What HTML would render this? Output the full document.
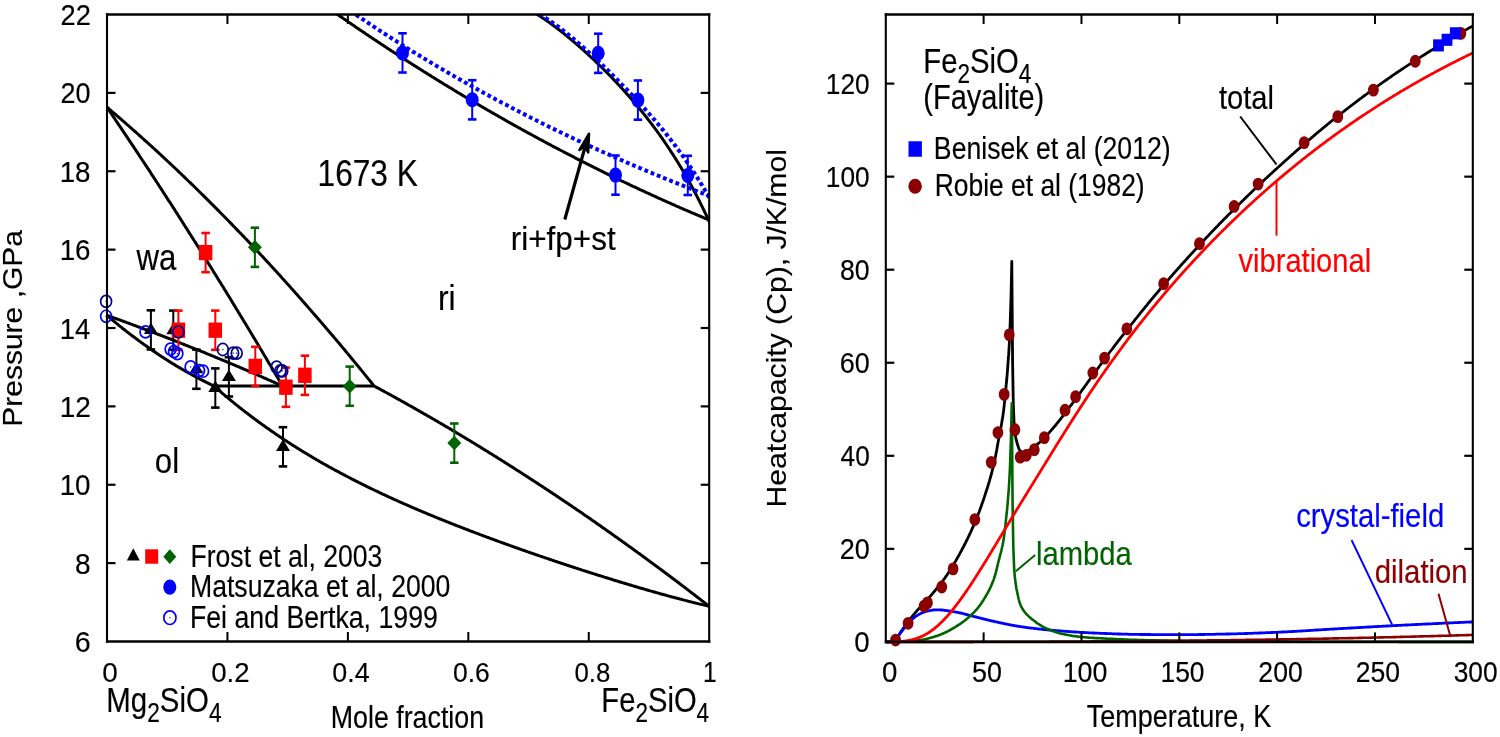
<!DOCTYPE html><html><head><meta charset="utf-8"><title>Fe2SiO4 phase diagram and heat capacity</title><style>html,body{margin:0;padding:0;background:#fff;overflow:hidden}svg{display:block}</style></head><body><svg width="1500" height="737" viewBox="0 0 1500 737" font-family="Liberation Sans, Arial, Helvetica, sans-serif">
<defs><clipPath id="clipL"><rect x="107.0" y="14.5" width="602.2" height="627.0"/></clipPath><clipPath id="clipR"><rect x="885.8" y="14.5" width="587.0" height="633.4"/></clipPath></defs>
<rect width="1500" height="737" fill="#fff"/>
<g clip-path="url(#clipL)">
<path d="M106.8,315.3 L107.8,316.1 L108.8,317.0 L109.8,317.8 L110.8,318.7 L111.8,319.5 L112.8,320.3 L113.8,321.2 L114.8,322.0 L115.8,322.8 L116.8,323.6 L117.8,324.4 L118.8,325.3 L119.8,326.1 L120.8,326.9 L121.8,327.7 L122.8,328.5 L123.8,329.3 L124.8,330.0 L125.8,330.8 L126.8,331.6 L127.8,332.4 L128.8,333.2 L129.8,333.9 L130.8,334.7 L131.8,335.5 L132.8,336.2 L133.9,337.0 L134.9,337.7 L135.9,338.5 L136.9,339.2 L137.9,340.0 L138.9,340.7 L139.9,341.4 L140.9,342.2 L141.9,342.9 L142.9,343.6 L143.9,344.4 L144.9,345.1 L145.9,345.8 L146.9,346.5 L147.9,347.2 L148.9,347.9 L149.9,348.6 L150.9,349.3 L151.9,350.0 L152.9,350.7 L153.9,351.4 L154.9,352.0 L155.9,352.7 L156.9,353.4 L157.9,354.1 L158.9,354.7 L159.9,355.4 L160.9,356.1 L161.9,356.7 L162.9,357.4 L163.9,358.0 L164.9,358.7 L165.9,359.3 L166.9,360.0 L167.9,360.6 L168.9,361.2 L169.9,361.9 L170.9,362.5 L171.9,363.1 L172.9,363.7 L173.9,364.3 L174.9,364.9 L175.9,365.6 L176.9,366.2 L177.9,366.8 L178.9,367.4 L179.9,367.9 L180.9,368.5 L181.9,369.1 L182.9,369.7 L183.9,370.3 L184.9,370.9 L185.9,371.4 L186.9,372.0 L188.0,372.6 L189.0,373.1 L190.0,373.7 L191.0,374.2 L192.0,374.8 L193.0,375.3 L194.0,375.9 L195.0,376.4 L196.0,377.0 L197.0,377.5 L198.0,378.0 L199.0,378.5 L200.0,379.1 L201.0,379.6 L202.0,380.1 L203.0,380.6 L204.0,381.1 L205.0,381.6 L206.0,382.1 L207.0,382.6 L208.0,383.1 L209.0,383.6 L210.0,384.1 L211.0,384.6 L212.0,385.1 L213.0,385.5 L214.0,386.0" fill="none" stroke="#000" stroke-width="3.0" stroke-linejoin="round"/>
<path d="M214.0,386.0 L215.0,386.9 L216.0,387.8 L217.0,388.6 L218.0,389.5 L219.0,390.4 L220.0,391.2 L221.0,392.1 L222.0,393.0 L223.0,393.8 L224.0,394.7 L225.0,395.5 L226.0,396.3 L227.0,397.2 L228.0,398.0 L229.0,398.8 L230.0,399.7 L231.0,400.5 L232.0,401.3 L233.0,402.1 L234.0,402.9 L235.0,403.8 L236.0,404.6 L237.0,405.4 L238.0,406.2 L239.0,407.0 L240.0,407.8 L241.0,408.5 L242.0,409.3 L243.0,410.1 L244.0,410.9 L245.0,411.7 L246.0,412.4 L247.0,413.2 L248.0,414.0 L249.0,414.7 L250.0,415.5 L251.0,416.3 L252.0,417.0 L253.0,417.8 L254.0,418.5 L255.0,419.2 L256.0,420.0 L257.0,420.7 L258.0,421.5 L259.0,422.2 L260.0,422.9 L261.0,423.6 L262.0,424.4 L263.0,425.1 L264.0,425.8 L265.0,426.5 L266.0,427.2 L267.0,427.9 L268.0,428.6 L269.0,429.3 L270.0,430.0 L271.0,430.7 L272.0,431.4 L273.0,432.1 L274.0,432.8 L275.0,433.5 L276.0,434.2 L277.0,434.9 L278.0,435.5 L279.0,436.2 L280.0,436.9 L281.0,437.5 L282.0,438.2 L283.0,438.9 L284.0,439.5 L285.0,440.2 L286.0,440.8 L287.0,441.5 L288.0,442.2 L289.0,442.8 L290.0,443.4 L291.0,444.1 L292.0,444.7 L293.0,445.4 L294.0,446.0 L295.0,446.6 L296.0,447.3 L297.0,447.9 L298.0,448.5 L299.0,449.1 L300.0,449.8 L301.0,450.4 L302.0,451.0 L303.0,451.6 L304.0,452.2 L305.0,452.8 L306.0,453.4 L307.0,454.0 L308.0,454.6 L309.0,455.2 L310.0,455.8 L311.0,456.4 L312.0,457.0 L313.0,457.6 L314.0,458.2 L315.0,458.8 L316.0,459.4 L317.0,460.0 L318.0,460.5 L319.0,461.1 L320.0,461.7 L321.0,462.3 L322.0,462.8 L323.0,463.4 L324.0,464.0 L325.0,464.5 L326.0,465.1 L327.0,465.7 L328.0,466.2 L329.0,466.8 L330.0,467.3 L331.0,467.9 L332.0,468.4 L333.0,469.0 L334.0,469.5 L335.0,470.1 L336.0,470.6 L337.0,471.2 L338.1,471.7 L339.1,472.2 L340.1,472.8 L341.1,473.3 L342.1,473.8 L343.1,474.4 L344.1,474.9 L345.1,475.4 L346.1,476.0 L347.1,476.5 L348.1,477.0 L349.1,477.5 L350.1,478.0 L351.1,478.6 L352.1,479.1 L353.1,479.6 L354.1,480.1 L355.1,480.6 L356.1,481.1 L357.1,481.6 L358.1,482.1 L359.1,482.6 L360.1,483.1 L361.1,483.6 L362.1,484.1 L363.1,484.6 L364.1,485.1 L365.1,485.6 L366.1,486.1 L367.1,486.6 L368.1,487.1 L369.1,487.6 L370.1,488.1 L371.1,488.6 L372.1,489.0 L373.1,489.5 L374.1,490.0 L375.1,490.5 L376.1,491.0 L377.1,491.4 L378.1,491.9 L379.1,492.4 L380.1,492.8 L381.1,493.3 L382.1,493.8 L383.1,494.3 L384.1,494.7 L385.1,495.2 L386.1,495.7 L387.1,496.1 L388.1,496.6 L389.1,497.0 L390.1,497.5 L391.1,498.0 L392.1,498.4 L393.1,498.9 L394.1,499.3 L395.1,499.8 L396.1,500.2 L397.1,500.7 L398.1,501.1 L399.1,501.6 L400.1,502.0 L401.1,502.5 L402.1,502.9 L403.1,503.3 L404.1,503.8 L405.1,504.2 L406.1,504.7 L407.1,505.1 L408.1,505.5 L409.1,506.0 L410.1,506.4 L411.1,506.8 L412.1,507.3 L413.1,507.7 L414.1,508.1 L415.1,508.6 L416.1,509.0 L417.1,509.4 L418.1,509.9 L419.1,510.3 L420.1,510.7 L421.1,511.1 L422.1,511.6 L423.1,512.0 L424.1,512.4 L425.1,512.8 L426.1,513.2 L427.1,513.6 L428.1,514.1 L429.1,514.5 L430.1,514.9 L431.1,515.3 L432.1,515.7 L433.1,516.1 L434.1,516.5 L435.1,517.0 L436.1,517.4 L437.1,517.8 L438.1,518.2 L439.1,518.6 L440.1,519.0 L441.1,519.4 L442.1,519.8 L443.1,520.2 L444.1,520.6 L445.1,521.0 L446.1,521.4 L447.1,521.8 L448.1,522.2 L449.1,522.6 L450.1,523.0 L451.1,523.4 L452.1,523.8 L453.1,524.2 L454.1,524.6 L455.1,525.0 L456.1,525.4 L457.1,525.8 L458.1,526.1 L459.1,526.5 L460.1,526.9 L461.1,527.3 L462.1,527.7 L463.1,528.1 L464.1,528.5 L465.1,528.9 L466.1,529.2 L467.1,529.6 L468.1,530.0 L469.1,530.4 L470.1,530.8 L471.1,531.2 L472.1,531.5 L473.1,531.9 L474.1,532.3 L475.1,532.7 L476.1,533.1 L477.1,533.4 L478.1,533.8 L479.1,534.2 L480.1,534.6 L481.1,534.9 L482.1,535.3 L483.1,535.7 L484.1,536.1 L485.1,536.4 L486.1,536.8 L487.1,537.2 L488.1,537.5 L489.1,537.9 L490.1,538.3 L491.1,538.7 L492.1,539.0 L493.1,539.4 L494.1,539.8 L495.1,540.1 L496.1,540.5 L497.1,540.9 L498.1,541.2 L499.1,541.6 L500.1,541.9 L501.1,542.3 L502.1,542.7 L503.1,543.0 L504.1,543.4 L505.1,543.8 L506.1,544.1 L507.1,544.5 L508.1,544.8 L509.1,545.2 L510.1,545.6 L511.1,545.9 L512.1,546.3 L513.1,546.6 L514.1,547.0 L515.1,547.3 L516.1,547.7 L517.1,548.0 L518.1,548.4 L519.1,548.8 L520.1,549.1 L521.1,549.5 L522.1,549.8 L523.1,550.2 L524.1,550.5 L525.1,550.9 L526.1,551.2 L527.1,551.6 L528.1,551.9 L529.1,552.3 L530.1,552.6 L531.1,553.0 L532.1,553.3 L533.1,553.6 L534.1,554.0 L535.1,554.3 L536.1,554.7 L537.1,555.0 L538.1,555.4 L539.1,555.7 L540.1,556.1 L541.1,556.4 L542.1,556.7 L543.1,557.1 L544.1,557.4 L545.1,557.8 L546.1,558.1 L547.1,558.4 L548.1,558.8 L549.1,559.1 L550.1,559.5 L551.1,559.8 L552.1,560.1 L553.1,560.5 L554.1,560.8 L555.1,561.2 L556.1,561.5 L557.1,561.8 L558.1,562.2 L559.1,562.5 L560.1,562.8 L561.1,563.2 L562.1,563.5 L563.1,563.8 L564.1,564.2 L565.1,564.5 L566.1,564.8 L567.1,565.2 L568.1,565.5 L569.1,565.8 L570.1,566.1 L571.1,566.5 L572.1,566.8 L573.1,567.1 L574.1,567.5 L575.1,567.8 L576.1,568.1 L577.1,568.4 L578.1,568.8 L579.1,569.1 L580.1,569.4 L581.1,569.7 L582.1,570.1 L583.1,570.4 L584.1,570.7 L585.1,571.0 L586.2,571.3 L587.2,571.7 L588.2,572.0 L589.2,572.3 L590.2,572.6 L591.2,573.0 L592.2,573.3 L593.2,573.6 L594.2,573.9 L595.2,574.2 L596.2,574.5 L597.2,574.9 L598.2,575.2 L599.2,575.5 L600.2,575.8 L601.2,576.1 L602.2,576.4 L603.2,576.7 L604.2,577.1 L605.2,577.4 L606.2,577.7 L607.2,578.0 L608.2,578.3 L609.2,578.6 L610.2,578.9 L611.2,579.2 L612.2,579.5 L613.2,579.9 L614.2,580.2 L615.2,580.5 L616.2,580.8 L617.2,581.1 L618.2,581.4 L619.2,581.7 L620.2,582.0 L621.2,582.3 L622.2,582.6 L623.2,582.9 L624.2,583.2 L625.2,583.5 L626.2,583.8 L627.2,584.1 L628.2,584.4 L629.2,584.7 L630.2,585.0 L631.2,585.3 L632.2,585.6 L633.2,585.9 L634.2,586.2 L635.2,586.5 L636.2,586.8 L637.2,587.1 L638.2,587.4 L639.2,587.7 L640.2,588.0 L641.2,588.3 L642.2,588.5 L643.2,588.8 L644.2,589.1 L645.2,589.4 L646.2,589.7 L647.2,590.0 L648.2,590.3 L649.2,590.6 L650.2,590.9 L651.2,591.1 L652.2,591.4 L653.2,591.7 L654.2,592.0 L655.2,592.3 L656.2,592.6 L657.2,592.8 L658.2,593.1 L659.2,593.4 L660.2,593.7 L661.2,594.0 L662.2,594.2 L663.2,594.5 L664.2,594.8 L665.2,595.1 L666.2,595.3 L667.2,595.6 L668.2,595.9 L669.2,596.2 L670.2,596.4 L671.2,596.7 L672.2,597.0 L673.2,597.2 L674.2,597.5 L675.2,597.8 L676.2,598.0 L677.2,598.3 L678.2,598.6 L679.2,598.8 L680.2,599.1 L681.2,599.3 L682.2,599.6 L683.2,599.9 L684.2,600.1 L685.2,600.4 L686.2,600.6 L687.2,600.9 L688.2,601.2 L689.2,601.4 L690.2,601.7 L691.2,601.9 L692.2,602.2 L693.2,602.4 L694.2,602.7 L695.2,602.9 L696.2,603.2 L697.2,603.4 L698.2,603.7 L699.2,603.9 L700.2,604.2 L701.2,604.4 L702.2,604.6 L703.2,604.9 L704.2,605.1 L705.2,605.4 L706.2,605.6 L707.2,605.8 L708.2,606.1 L709.2,606.3" fill="none" stroke="#000" stroke-width="3.0" stroke-linejoin="round"/>
<path d="M374.1,386.0 L375.1,386.5 L376.1,387.1 L377.1,387.6 L378.1,388.2 L379.1,388.7 L380.1,389.2 L381.1,389.8 L382.1,390.3 L383.1,390.9 L384.1,391.4 L385.1,392.0 L386.1,392.5 L387.1,393.0 L388.1,393.6 L389.1,394.1 L390.1,394.7 L391.1,395.2 L392.1,395.8 L393.1,396.3 L394.1,396.9 L395.1,397.4 L396.1,398.0 L397.1,398.6 L398.1,399.1 L399.1,399.7 L400.1,400.2 L401.1,400.8 L402.1,401.3 L403.1,401.9 L404.1,402.4 L405.1,403.0 L406.1,403.6 L407.1,404.1 L408.1,404.7 L409.1,405.3 L410.1,405.8 L411.1,406.4 L412.1,406.9 L413.1,407.5 L414.1,408.1 L415.1,408.6 L416.1,409.2 L417.1,409.8 L418.1,410.3 L419.1,410.9 L420.1,411.5 L421.1,412.1 L422.1,412.6 L423.1,413.2 L424.1,413.8 L425.1,414.3 L426.1,414.9 L427.1,415.5 L428.1,416.1 L429.1,416.6 L430.1,417.2 L431.1,417.8 L432.1,418.4 L433.1,419.0 L434.1,419.5 L435.1,420.1 L436.1,420.7 L437.1,421.3 L438.1,421.9 L439.1,422.5 L440.1,423.0 L441.1,423.6 L442.1,424.2 L443.1,424.8 L444.1,425.4 L445.1,426.0 L446.1,426.6 L447.1,427.2 L448.1,427.7 L449.1,428.3 L450.1,428.9 L451.1,429.5 L452.1,430.1 L453.1,430.7 L454.1,431.3 L455.1,431.9 L456.1,432.5 L457.1,433.1 L458.1,433.7 L459.1,434.3 L460.1,434.9 L461.1,435.5 L462.1,436.1 L463.1,436.7 L464.1,437.3 L465.1,437.9 L466.1,438.5 L467.1,439.1 L468.1,439.7 L469.1,440.3 L470.1,440.9 L471.1,441.5 L472.1,442.1 L473.1,442.7 L474.1,443.3 L475.1,443.9 L476.1,444.6 L477.1,445.2 L478.1,445.8 L479.1,446.4 L480.1,447.0 L481.1,447.6 L482.1,448.2 L483.1,448.9 L484.1,449.5 L485.1,450.1 L486.1,450.7 L487.1,451.3 L488.1,451.9 L489.1,452.6 L490.1,453.2 L491.1,453.8 L492.1,454.4 L493.1,455.0 L494.1,455.7 L495.1,456.3 L496.1,456.9 L497.1,457.5 L498.1,458.2 L499.1,458.8 L500.1,459.4 L501.1,460.0 L502.1,460.7 L503.1,461.3 L504.1,461.9 L505.1,462.6 L506.1,463.2 L507.1,463.8 L508.1,464.5 L509.1,465.1 L510.1,465.7 L511.1,466.4 L512.1,467.0 L513.1,467.6 L514.1,468.3 L515.1,468.9 L516.1,469.6 L517.1,470.2 L518.1,470.8 L519.1,471.5 L520.1,472.1 L521.1,472.8 L522.1,473.4 L523.1,474.1 L524.1,474.7 L525.1,475.3 L526.1,476.0 L527.1,476.6 L528.1,477.3 L529.1,477.9 L530.1,478.6 L531.1,479.2 L532.1,479.9 L533.1,480.5 L534.1,481.2 L535.1,481.8 L536.1,482.5 L537.1,483.1 L538.1,483.8 L539.1,484.5 L540.1,485.1 L541.1,485.8 L542.2,486.4 L543.2,487.1 L544.2,487.7 L545.2,488.4 L546.2,489.1 L547.2,489.7 L548.2,490.4 L549.2,491.0 L550.2,491.7 L551.2,492.4 L552.2,493.0 L553.2,493.7 L554.2,494.4 L555.2,495.0 L556.2,495.7 L557.2,496.4 L558.2,497.0 L559.2,497.7 L560.2,498.4 L561.2,499.1 L562.2,499.7 L563.2,500.4 L564.2,501.1 L565.2,501.7 L566.2,502.4 L567.2,503.1 L568.2,503.8 L569.2,504.4 L570.2,505.1 L571.2,505.8 L572.2,506.5 L573.2,507.2 L574.2,507.8 L575.2,508.5 L576.2,509.2 L577.2,509.9 L578.2,510.6 L579.2,511.3 L580.2,511.9 L581.2,512.6 L582.2,513.3 L583.2,514.0 L584.2,514.7 L585.2,515.4 L586.2,516.1 L587.2,516.8 L588.2,517.4 L589.2,518.1 L590.2,518.8 L591.2,519.5 L592.2,520.2 L593.2,520.9 L594.2,521.6 L595.2,522.3 L596.2,523.0 L597.2,523.7 L598.2,524.4 L599.2,525.1 L600.2,525.8 L601.2,526.5 L602.2,527.2 L603.2,527.9 L604.2,528.6 L605.2,529.3 L606.2,530.0 L607.2,530.7 L608.2,531.4 L609.2,532.1 L610.2,532.8 L611.2,533.5 L612.2,534.2 L613.2,534.9 L614.2,535.7 L615.2,536.4 L616.2,537.1 L617.2,537.8 L618.2,538.5 L619.2,539.2 L620.2,539.9 L621.2,540.6 L622.2,541.4 L623.2,542.1 L624.2,542.8 L625.2,543.5 L626.2,544.2 L627.2,544.9 L628.2,545.7 L629.2,546.4 L630.2,547.1 L631.2,547.8 L632.2,548.5 L633.2,549.3 L634.2,550.0 L635.2,550.7 L636.2,551.4 L637.2,552.2 L638.2,552.9 L639.2,553.6 L640.2,554.3 L641.2,555.1 L642.2,555.8 L643.2,556.5 L644.2,557.3 L645.2,558.0 L646.2,558.7 L647.2,559.5 L648.2,560.2 L649.2,560.9 L650.2,561.7 L651.2,562.4 L652.2,563.1 L653.2,563.9 L654.2,564.6 L655.2,565.4 L656.2,566.1 L657.2,566.8 L658.2,567.6 L659.2,568.3 L660.2,569.1 L661.2,569.8 L662.2,570.5 L663.2,571.3 L664.2,572.0 L665.2,572.8 L666.2,573.5 L667.2,574.3 L668.2,575.0 L669.2,575.8 L670.2,576.5 L671.2,577.3 L672.2,578.0 L673.2,578.8 L674.2,579.5 L675.2,580.3 L676.2,581.0 L677.2,581.8 L678.2,582.5 L679.2,583.3 L680.2,584.0 L681.2,584.8 L682.2,585.6 L683.2,586.3 L684.2,587.1 L685.2,587.8 L686.2,588.6 L687.2,589.4 L688.2,590.1 L689.2,590.9 L690.2,591.7 L691.2,592.4 L692.2,593.2 L693.2,593.9 L694.2,594.7 L695.2,595.5 L696.2,596.3 L697.2,597.0 L698.2,597.8 L699.2,598.6 L700.2,599.3 L701.2,600.1 L702.2,600.9 L703.2,601.6 L704.2,602.4 L705.2,603.2 L706.2,604.0 L707.2,604.7 L708.2,605.5 L709.2,606.3" fill="none" stroke="#000" stroke-width="3.0" stroke-linejoin="round"/>
<path d="M106.8,107.0 L107.8,108.5 L108.8,110.0 L109.8,111.4 L110.8,112.9 L111.8,114.4 L112.8,115.9 L113.8,117.4 L114.8,118.9 L115.8,120.3 L116.8,121.8 L117.8,123.3 L118.8,124.8 L119.9,126.3 L120.9,127.8 L121.9,129.3 L122.9,130.8 L123.9,132.3 L124.9,133.8 L125.9,135.3 L126.9,136.8 L127.9,138.3 L128.9,139.8 L129.9,141.3 L130.9,142.8 L131.9,144.3 L132.9,145.8 L133.9,147.4 L134.9,148.9 L135.9,150.4 L136.9,151.9 L137.9,153.4 L138.9,154.9 L139.9,156.5 L140.9,158.0 L141.9,159.5 L142.9,161.0 L143.9,162.5 L145.0,164.1 L146.0,165.6 L147.0,167.1 L148.0,168.7 L149.0,170.2 L150.0,171.7 L151.0,173.3 L152.0,174.8 L153.0,176.3 L154.0,177.9 L155.0,179.4 L156.0,181.0 L157.0,182.5 L158.0,184.0 L159.0,185.6 L160.0,187.1 L161.0,188.7 L162.0,190.2 L163.0,191.8 L164.0,193.3 L165.0,194.9 L166.0,196.4 L167.0,198.0 L168.0,199.6 L169.0,201.1 L170.1,202.7 L171.1,204.2 L172.1,205.8 L173.1,207.4 L174.1,208.9 L175.1,210.5 L176.1,212.1 L177.1,213.6 L178.1,215.2 L179.1,216.8 L180.1,218.4 L181.1,219.9 L182.1,221.5 L183.1,223.1 L184.1,224.7 L185.1,226.3 L186.1,227.8 L187.1,229.4 L188.1,231.0 L189.1,232.6 L190.1,234.2 L191.1,235.8 L192.1,237.4 L193.1,238.9 L194.1,240.5 L195.2,242.1 L196.2,243.7 L197.2,245.3 L198.2,246.9 L199.2,248.5 L200.2,250.1 L201.2,251.7 L202.2,253.3 L203.2,254.9 L204.2,256.5 L205.2,258.2 L206.2,259.8 L207.2,261.4 L208.2,263.0 L209.2,264.6 L210.2,266.2 L211.2,267.8 L212.2,269.4 L213.2,271.1 L214.2,272.7 L215.2,274.3 L216.2,275.9 L217.2,277.5 L218.2,279.2 L219.2,280.8 L220.3,282.4 L221.3,284.1 L222.3,285.7 L223.3,287.3 L224.3,289.0 L225.3,290.6 L226.3,292.2 L227.3,293.9 L228.3,295.5 L229.3,297.1 L230.3,298.8 L231.3,300.4 L232.3,302.1 L233.3,303.7 L234.3,305.4 L235.3,307.0 L236.3,308.7 L237.3,310.3 L238.3,312.0 L239.3,313.6 L240.3,315.3 L241.3,316.9 L242.3,318.6 L243.3,320.2 L244.3,321.9 L245.4,323.6 L246.4,325.2 L247.4,326.9 L248.4,328.6 L249.4,330.2 L250.4,331.9 L251.4,333.6 L252.4,335.2 L253.4,336.9 L254.4,338.6 L255.4,340.3 L256.4,341.9 L257.4,343.6 L258.4,345.3 L259.4,347.0 L260.4,348.7 L261.4,350.3 L262.4,352.0 L263.4,353.7 L264.4,355.4 L265.4,357.1 L266.4,358.8 L267.4,360.5 L268.4,362.2 L269.4,363.9 L270.5,365.5 L271.5,367.2 L272.5,368.9 L273.5,370.6 L274.5,372.3 L275.5,374.0 L276.5,375.8 L277.5,377.5 L278.5,379.2 L279.5,380.9 L280.5,382.6 L281.5,384.3 L282.5,386.0" fill="none" stroke="#000" stroke-width="3.0" stroke-linejoin="round"/>
<path d="M106.8,107.0 L107.8,107.8 L108.8,108.7 L109.8,109.6 L110.8,110.4 L111.8,111.3 L112.8,112.1 L113.8,113.0 L114.8,113.8 L115.8,114.7 L116.8,115.6 L117.8,116.4 L118.8,117.3 L119.8,118.2 L120.8,119.0 L121.8,119.9 L122.8,120.8 L123.8,121.6 L124.8,122.5 L125.8,123.4 L126.8,124.3 L127.8,125.1 L128.8,126.0 L129.8,126.9 L130.8,127.8 L131.8,128.7 L132.8,129.6 L133.8,130.4 L134.8,131.3 L135.8,132.2 L136.8,133.1 L137.8,134.0 L138.8,134.9 L139.8,135.8 L140.8,136.7 L141.8,137.6 L142.8,138.5 L143.8,139.4 L144.8,140.3 L145.8,141.2 L146.8,142.1 L147.8,143.0 L148.8,143.9 L149.8,144.8 L150.8,145.7 L151.9,146.6 L152.9,147.6 L153.9,148.5 L154.9,149.4 L155.9,150.3 L156.9,151.2 L157.9,152.2 L158.9,153.1 L159.9,154.0 L160.9,154.9 L161.9,155.9 L162.9,156.8 L163.9,157.7 L164.9,158.7 L165.9,159.6 L166.9,160.5 L167.9,161.5 L168.9,162.4 L169.9,163.3 L170.9,164.3 L171.9,165.2 L172.9,166.2 L173.9,167.1 L174.9,168.0 L175.9,169.0 L176.9,169.9 L177.9,170.9 L178.9,171.9 L179.9,172.8 L180.9,173.8 L181.9,174.7 L182.9,175.7 L183.9,176.6 L184.9,177.6 L185.9,178.6 L186.9,179.5 L187.9,180.5 L188.9,181.5 L189.9,182.4 L190.9,183.4 L191.9,184.4 L192.9,185.3 L193.9,186.3 L194.9,187.3 L195.9,188.3 L196.9,189.2 L197.9,190.2 L198.9,191.2 L199.9,192.2 L200.9,193.2 L201.9,194.2 L202.9,195.1 L203.9,196.1 L204.9,197.1 L205.9,198.1 L206.9,199.1 L207.9,200.1 L208.9,201.1 L209.9,202.1 L210.9,203.1 L211.9,204.1 L212.9,205.1 L213.9,206.1 L214.9,207.1 L215.9,208.1 L216.9,209.1 L217.9,210.1 L218.9,211.1 L219.9,212.2 L220.9,213.2 L221.9,214.2 L222.9,215.2 L223.9,216.2 L224.9,217.2 L225.9,218.3 L226.9,219.3 L227.9,220.3 L228.9,221.3 L229.9,222.4 L230.9,223.4 L231.9,224.4 L232.9,225.5 L233.9,226.5 L234.9,227.5 L235.9,228.6 L236.9,229.6 L237.9,230.6 L238.9,231.7 L239.9,232.7 L241.0,233.8 L242.0,234.8 L243.0,235.9 L244.0,236.9 L245.0,238.0 L246.0,239.0 L247.0,240.1 L248.0,241.1 L249.0,242.2 L250.0,243.2 L251.0,244.3 L252.0,245.4 L253.0,246.4 L254.0,247.5 L255.0,248.5 L256.0,249.6 L257.0,250.7 L258.0,251.7 L259.0,252.8 L260.0,253.9 L261.0,255.0 L262.0,256.0 L263.0,257.1 L264.0,258.2 L265.0,259.3 L266.0,260.4 L267.0,261.4 L268.0,262.5 L269.0,263.6 L270.0,264.7 L271.0,265.8 L272.0,266.9 L273.0,268.0 L274.0,269.1 L275.0,270.1 L276.0,271.2 L277.0,272.3 L278.0,273.4 L279.0,274.5 L280.0,275.6 L281.0,276.7 L282.0,277.9 L283.0,279.0 L284.0,280.1 L285.0,281.2 L286.0,282.3 L287.0,283.4 L288.0,284.5 L289.0,285.6 L290.0,286.7 L291.0,287.9 L292.0,289.0 L293.0,290.1 L294.0,291.2 L295.0,292.4 L296.0,293.5 L297.0,294.6 L298.0,295.7 L299.0,296.9 L300.0,298.0 L301.0,299.1 L302.0,300.3 L303.0,301.4 L304.0,302.5 L305.0,303.7 L306.0,304.8 L307.0,306.0 L308.0,307.1 L309.0,308.3 L310.0,309.4 L311.0,310.6 L312.0,311.7 L313.0,312.9 L314.0,314.0 L315.0,315.2 L316.0,316.3 L317.0,317.5 L318.0,318.6 L319.0,319.8 L320.0,321.0 L321.0,322.1 L322.0,323.3 L323.0,324.5 L324.0,325.6 L325.0,326.8 L326.0,328.0 L327.0,329.1 L328.0,330.3 L329.0,331.5 L330.1,332.7 L331.1,333.9 L332.1,335.0 L333.1,336.2 L334.1,337.4 L335.1,338.6 L336.1,339.8 L337.1,341.0 L338.1,342.1 L339.1,343.3 L340.1,344.5 L341.1,345.7 L342.1,346.9 L343.1,348.1 L344.1,349.3 L345.1,350.5 L346.1,351.7 L347.1,352.9 L348.1,354.1 L349.1,355.3 L350.1,356.5 L351.1,357.8 L352.1,359.0 L353.1,360.2 L354.1,361.4 L355.1,362.6 L356.1,363.8 L357.1,365.0 L358.1,366.3 L359.1,367.5 L360.1,368.7 L361.1,369.9 L362.1,371.2 L363.1,372.4 L364.1,373.6 L365.1,374.9 L366.1,376.1 L367.1,377.3 L368.1,378.6 L369.1,379.8 L370.1,381.0 L371.1,382.3 L372.1,383.5 L373.1,384.8 L374.1,386.0" fill="none" stroke="#000" stroke-width="3.0" stroke-linejoin="round"/>
<path d="M106.8,315.3 L107.8,315.7 L108.8,316.0 L109.8,316.4 L110.8,316.7 L111.8,317.1 L112.8,317.5 L113.8,317.8 L114.8,318.2 L115.8,318.5 L116.8,318.9 L117.8,319.3 L118.8,319.6 L119.9,320.0 L120.9,320.4 L121.9,320.7 L122.9,321.1 L123.9,321.5 L124.9,321.8 L125.9,322.2 L126.9,322.6 L127.9,322.9 L128.9,323.3 L129.9,323.7 L130.9,324.1 L131.9,324.4 L132.9,324.8 L133.9,325.2 L134.9,325.5 L135.9,325.9 L136.9,326.3 L137.9,326.7 L138.9,327.0 L139.9,327.4 L140.9,327.8 L141.9,328.2 L142.9,328.5 L143.9,328.9 L145.0,329.3 L146.0,329.7 L147.0,330.1 L148.0,330.4 L149.0,330.8 L150.0,331.2 L151.0,331.6 L152.0,332.0 L153.0,332.3 L154.0,332.7 L155.0,333.1 L156.0,333.5 L157.0,333.9 L158.0,334.3 L159.0,334.7 L160.0,335.0 L161.0,335.4 L162.0,335.8 L163.0,336.2 L164.0,336.6 L165.0,337.0 L166.0,337.4 L167.0,337.8 L168.0,338.1 L169.0,338.5 L170.1,338.9 L171.1,339.3 L172.1,339.7 L173.1,340.1 L174.1,340.5 L175.1,340.9 L176.1,341.3 L177.1,341.7 L178.1,342.1 L179.1,342.5 L180.1,342.9 L181.1,343.3 L182.1,343.7 L183.1,344.1 L184.1,344.5 L185.1,344.9 L186.1,345.3 L187.1,345.7 L188.1,346.1 L189.1,346.5 L190.1,346.9 L191.1,347.3 L192.1,347.7 L193.1,348.1 L194.1,348.5 L195.2,348.9 L196.2,349.3 L197.2,349.7 L198.2,350.1 L199.2,350.5 L200.2,350.9 L201.2,351.3 L202.2,351.7 L203.2,352.1 L204.2,352.5 L205.2,352.9 L206.2,353.3 L207.2,353.8 L208.2,354.2 L209.2,354.6 L210.2,355.0 L211.2,355.4 L212.2,355.8 L213.2,356.2 L214.2,356.6 L215.2,357.1 L216.2,357.5 L217.2,357.9 L218.2,358.3 L219.2,358.7 L220.3,359.1 L221.3,359.6 L222.3,360.0 L223.3,360.4 L224.3,360.8 L225.3,361.2 L226.3,361.7 L227.3,362.1 L228.3,362.5 L229.3,362.9 L230.3,363.3 L231.3,363.8 L232.3,364.2 L233.3,364.6 L234.3,365.0 L235.3,365.5 L236.3,365.9 L237.3,366.3 L238.3,366.7 L239.3,367.2 L240.3,367.6 L241.3,368.0 L242.3,368.4 L243.3,368.9 L244.3,369.3 L245.4,369.7 L246.4,370.2 L247.4,370.6 L248.4,371.0 L249.4,371.5 L250.4,371.9 L251.4,372.3 L252.4,372.8 L253.4,373.2 L254.4,373.6 L255.4,374.1 L256.4,374.5 L257.4,374.9 L258.4,375.4 L259.4,375.8 L260.4,376.2 L261.4,376.7 L262.4,377.1 L263.4,377.6 L264.4,378.0 L265.4,378.4 L266.4,378.9 L267.4,379.3 L268.4,379.8 L269.4,380.2 L270.5,380.6 L271.5,381.1 L272.5,381.5 L273.5,382.0 L274.5,382.4 L275.5,382.9 L276.5,383.3 L277.5,383.8 L278.5,384.2 L279.5,384.7 L280.5,385.1 L281.5,385.6 L282.5,386.0" fill="none" stroke="#000" stroke-width="3.0" stroke-linejoin="round"/>
<path d="M330.0,9.2 L331.0,9.9 L332.0,10.6 L333.0,11.3 L334.0,12.0 L335.0,12.7 L336.0,13.4 L337.0,14.1 L338.0,14.8 L339.0,15.5 L340.0,16.2 L341.0,16.9 L342.0,17.6 L343.0,18.3 L344.0,19.0 L345.0,19.6 L346.0,20.3 L347.0,21.0 L348.0,21.7 L349.0,22.4 L350.0,23.1 L351.0,23.8 L352.0,24.5 L353.0,25.1 L354.0,25.8 L355.0,26.5 L356.0,27.2 L357.0,27.9 L358.0,28.5 L359.0,29.2 L360.0,29.9 L361.0,30.6 L362.0,31.3 L363.0,31.9 L364.0,32.6 L365.0,33.3 L366.0,34.0 L367.0,34.6 L368.0,35.3 L369.0,36.0 L370.0,36.6 L371.0,37.3 L372.0,38.0 L373.0,38.6 L374.0,39.3 L375.0,40.0 L376.0,40.6 L377.0,41.3 L378.0,42.0 L379.0,42.6 L380.0,43.3 L381.0,44.0 L382.0,44.6 L383.0,45.3 L384.0,45.9 L385.0,46.6 L386.0,47.3 L387.0,47.9 L388.0,48.6 L389.0,49.2 L390.0,49.9 L391.0,50.5 L392.0,51.2 L393.0,51.8 L394.0,52.5 L395.0,53.1 L396.0,53.8 L397.0,54.4 L398.0,55.1 L399.0,55.7 L400.0,56.4 L401.0,57.0 L402.0,57.7 L403.0,58.3 L404.0,59.0 L405.0,59.6 L406.0,60.2 L407.0,60.9 L408.0,61.5 L409.0,62.2 L410.0,62.8 L411.0,63.4 L412.0,64.1 L413.0,64.7 L414.0,65.4 L415.0,66.0 L416.0,66.6 L417.0,67.3 L418.0,67.9 L419.0,68.5 L420.0,69.1 L421.0,69.8 L422.0,70.4 L423.0,71.0 L424.0,71.7 L425.0,72.3 L426.0,72.9 L427.0,73.5 L428.0,74.2 L429.0,74.8 L430.0,75.4 L431.0,76.0 L432.0,76.7 L433.0,77.3 L434.0,77.9 L435.0,78.5 L436.0,79.1 L437.0,79.8 L438.0,80.4 L439.0,81.0 L440.0,81.6 L441.0,82.2 L442.0,82.8 L443.0,83.5 L444.0,84.1 L445.0,84.7 L446.0,85.3 L447.0,85.9 L448.0,86.5 L449.0,87.1 L450.0,87.7 L451.0,88.3 L452.0,88.9 L453.0,89.5 L454.0,90.2 L455.0,90.8 L456.0,91.4 L457.0,92.0 L458.0,92.6 L459.0,93.2 L460.0,93.8 L461.0,94.4 L462.0,95.0 L463.0,95.6 L464.0,96.2 L465.0,96.8 L466.0,97.4 L467.0,97.9 L468.0,98.5 L469.0,99.1 L470.0,99.7 L471.0,100.3 L472.0,100.9 L473.0,101.5 L474.0,102.1 L475.0,102.7 L476.0,103.3 L477.0,103.9 L478.0,104.4 L479.0,105.0 L480.0,105.6 L481.0,106.2 L482.0,106.8 L483.0,107.4 L484.0,107.9 L485.0,108.5 L486.0,109.1 L487.0,109.7 L488.0,110.3 L489.0,110.8 L490.0,111.4 L491.0,112.0 L492.0,112.6 L493.0,113.2 L494.0,113.7 L495.0,114.3 L496.0,114.9 L497.0,115.4 L498.0,116.0 L499.0,116.6 L500.0,117.2 L501.0,117.7 L502.0,118.3 L503.0,118.9 L504.0,119.4 L505.0,120.0 L506.0,120.6 L507.0,121.1 L508.0,121.7 L509.0,122.3 L510.0,122.8 L511.0,123.4 L512.0,123.9 L513.0,124.5 L514.0,125.1 L515.0,125.6 L516.0,126.2 L517.0,126.7 L518.0,127.3 L519.0,127.8 L520.0,128.4 L521.0,129.0 L522.0,129.5 L523.0,130.1 L524.0,130.6 L525.0,131.2 L526.0,131.7 L527.0,132.3 L528.0,132.8 L529.0,133.4 L530.0,133.9 L531.0,134.4 L532.0,135.0 L533.0,135.5 L534.0,136.1 L535.0,136.6 L536.0,137.2 L537.0,137.7 L538.0,138.3 L539.0,138.8 L540.0,139.3 L541.0,139.9 L542.0,140.4 L543.0,140.9 L544.0,141.5 L545.0,142.0 L546.0,142.6 L547.0,143.1 L548.0,143.6 L549.0,144.2 L550.0,144.7 L551.0,145.2 L552.0,145.8 L553.0,146.3 L554.0,146.8 L555.0,147.3 L556.0,147.9 L557.0,148.4 L558.0,148.9 L559.0,149.4 L560.0,150.0 L561.0,150.5 L562.0,151.0 L563.0,151.5 L564.0,152.1 L565.0,152.6 L566.0,153.1 L567.0,153.6 L568.0,154.1 L569.0,154.7 L570.0,155.2 L571.0,155.7 L572.0,156.2 L573.0,156.7 L574.0,157.2 L575.0,157.8 L576.0,158.3 L577.0,158.8 L578.0,159.3 L579.0,159.8 L580.0,160.3 L581.0,160.8 L582.0,161.3 L583.0,161.8 L584.0,162.3 L585.0,162.8 L586.0,163.4 L587.0,163.9 L588.0,164.4 L589.0,164.9 L590.0,165.4 L591.0,165.9 L592.0,166.4 L593.0,166.9 L594.0,167.4 L595.0,167.9 L596.0,168.4 L597.0,168.9 L598.0,169.4 L599.0,169.9 L600.0,170.4 L601.0,170.8 L602.0,171.3 L603.0,171.8 L604.0,172.3 L605.0,172.8 L606.0,173.3 L607.0,173.8 L608.0,174.3 L609.0,174.8 L610.0,175.3 L611.0,175.7 L612.0,176.2 L613.0,176.7 L614.0,177.2 L615.0,177.7 L616.0,178.2 L617.0,178.7 L618.0,179.1 L619.0,179.6 L620.0,180.1 L621.0,180.6 L622.0,181.1 L623.0,181.5 L624.0,182.0 L625.0,182.5 L626.0,183.0 L627.0,183.4 L628.0,183.9 L629.0,184.4 L630.0,184.9 L631.0,185.3 L632.0,185.8 L633.0,186.3 L634.0,186.7 L635.0,187.2 L636.0,187.7 L637.0,188.2 L638.0,188.6 L639.0,189.1 L640.0,189.6 L641.0,190.0 L642.0,190.5 L643.0,190.9 L644.0,191.4 L645.0,191.9 L646.0,192.3 L647.0,192.8 L648.0,193.2 L649.0,193.7 L650.0,194.2 L651.0,194.6 L652.0,195.1 L653.0,195.5 L654.0,196.0 L655.0,196.4 L656.0,196.9 L657.0,197.4 L658.0,197.8 L659.0,198.3 L660.0,198.7 L661.0,199.2 L662.0,199.6 L663.0,200.1 L664.0,200.5 L665.0,201.0 L666.0,201.4 L667.0,201.8 L668.0,202.3 L669.0,202.7 L670.0,203.2 L671.0,203.6 L672.0,204.1 L673.0,204.5 L674.0,204.9 L675.0,205.4 L676.0,205.8 L677.0,206.3 L678.0,206.7 L679.0,207.1 L680.0,207.6 L681.0,208.0 L682.0,208.5 L683.0,208.9 L684.0,209.3 L685.0,209.8 L686.0,210.2 L687.0,210.6 L688.0,211.0 L689.0,211.5 L690.0,211.9 L691.0,212.3 L692.0,212.8 L693.0,213.2 L694.0,213.6 L695.0,214.0 L696.0,214.5 L697.0,214.9 L698.0,215.3 L699.0,215.7 L700.0,216.2 L701.0,216.6 L702.0,217.0 L703.0,217.4 L704.0,217.8 L705.0,218.3 L706.0,218.7 L707.0,219.1 L708.0,219.5 L709.0,219.9 L710.0,220.3 L711.0,220.8 L712.0,221.2" fill="none" stroke="#000" stroke-width="3.0" stroke-linejoin="round"/>
<path d="M536.0,13.6 L537.0,14.3 L538.0,14.9 L539.0,15.5 L540.0,16.2 L541.0,16.8 L542.0,17.5 L543.0,18.2 L544.0,18.8 L545.0,19.5 L546.0,20.2 L547.0,20.9 L548.0,21.6 L549.0,22.3 L550.0,23.0 L551.0,23.8 L552.0,24.5 L553.0,25.2 L554.0,26.0 L555.0,26.7 L556.0,27.5 L557.0,28.2 L558.0,29.0 L559.0,29.8 L560.0,30.5 L561.0,31.3 L562.0,32.1 L563.0,32.9 L564.0,33.7 L565.0,34.5 L566.0,35.3 L567.0,36.1 L568.0,37.0 L569.0,37.8 L570.0,38.6 L571.0,39.4 L572.0,40.3 L573.0,41.1 L574.0,42.0 L575.0,42.8 L576.0,43.7 L577.0,44.6 L578.0,45.4 L579.0,46.3 L580.0,47.2 L581.0,48.1 L582.0,49.0 L583.0,49.9 L584.0,50.7 L585.0,51.7 L586.0,52.6 L587.0,53.5 L588.0,54.4 L589.0,55.3 L590.0,56.2 L591.0,57.2 L592.0,58.1 L593.0,59.0 L594.0,60.0 L595.0,60.9 L596.0,61.9 L597.0,62.9 L598.0,63.8 L599.0,64.8 L600.0,65.8 L601.0,66.7 L602.0,67.7 L603.0,68.7 L604.0,69.7 L605.0,70.7 L606.0,71.7 L607.0,72.7 L608.0,73.7 L609.0,74.7 L610.0,75.8 L611.0,76.8 L612.0,77.8 L613.0,78.9 L614.0,79.9 L615.0,81.0 L616.0,82.0 L617.0,83.1 L618.0,84.2 L619.0,85.2 L620.0,86.3 L621.0,87.4 L622.0,88.5 L623.0,89.6 L624.0,90.7 L625.0,91.8 L626.0,92.9 L627.0,94.0 L628.0,95.2 L629.0,96.3 L630.0,97.4 L631.0,98.6 L632.0,99.8 L633.0,100.9 L634.0,102.1 L635.0,103.3 L636.0,104.4 L637.0,105.6 L638.0,106.8 L639.0,108.0 L640.0,109.3 L641.0,110.5 L642.0,111.7 L643.0,113.0 L644.0,114.2 L645.0,115.5 L646.0,116.7 L647.0,118.0 L648.0,119.3 L649.0,120.6 L650.0,121.9 L651.0,123.2 L652.0,124.5 L653.0,125.8 L654.0,127.2 L655.0,128.5 L656.0,129.9 L657.0,131.2 L658.0,132.6 L659.0,134.0 L660.0,135.4 L661.0,136.8 L662.0,138.2 L663.0,139.7 L664.0,141.1 L665.0,142.6 L666.0,144.0 L667.0,145.5 L668.0,147.0 L669.0,148.5 L670.0,150.0 L671.0,151.6 L672.0,153.1 L673.0,154.7 L674.0,156.2 L675.0,157.8 L676.0,159.4 L677.0,161.0 L678.0,162.6 L679.0,164.3 L680.0,165.9 L681.0,167.6 L682.0,169.3 L683.0,171.0 L684.0,172.7 L685.0,174.4 L686.0,176.1 L687.0,177.9 L688.0,179.7 L689.0,181.5 L690.0,183.3 L691.0,185.1 L692.0,186.9 L693.0,188.8 L694.0,190.7 L695.0,192.6 L696.0,194.5 L697.0,196.4 L698.0,198.4 L699.0,200.3 L700.0,202.3 L701.0,204.3 L702.0,206.4 L703.0,208.4 L704.0,210.5 L705.0,212.6 L706.0,214.7 L707.0,216.8 L708.0,219.0 L709.0,221.1 L710.0,223.3 L711.0,225.5 L712.0,227.8" fill="none" stroke="#000" stroke-width="3.0" stroke-linejoin="round"/>
<path d="M214,386.0 L374.1,386.0" fill="none" stroke="#000" stroke-width="3.0"/>
<path d="M345.0,7.2 L346.0,7.9 L347.0,8.6 L348.0,9.2 L349.0,9.9 L350.0,10.6 L351.0,11.3 L352.0,12.0 L353.0,12.7 L354.0,13.4 L355.0,14.0 L356.0,14.7 L357.0,15.4 L358.0,16.1 L359.0,16.8 L360.0,17.4 L361.0,18.1 L362.0,18.8 L363.0,19.4 L364.0,20.1 L365.0,20.8 L366.0,21.5 L367.0,22.1 L368.0,22.8 L369.0,23.5 L370.0,24.1 L371.0,24.8 L372.0,25.4 L373.0,26.1 L374.0,26.8 L375.0,27.4 L376.0,28.1 L377.0,28.7 L378.0,29.4 L379.0,30.1 L380.0,30.7 L381.0,31.4 L382.0,32.0 L383.0,32.7 L384.0,33.3 L385.0,34.0 L386.0,34.6 L387.0,35.2 L388.0,35.9 L389.0,36.5 L390.0,37.2 L391.0,37.8 L392.0,38.5 L393.0,39.1 L394.0,39.7 L395.0,40.4 L396.0,41.0 L397.0,41.6 L398.0,42.3 L399.0,42.9 L400.0,43.5 L401.0,44.2 L402.0,44.8 L403.0,45.4 L404.0,46.1 L405.0,46.7 L406.0,47.3 L407.0,47.9 L408.0,48.6 L409.0,49.2 L410.0,49.8 L411.0,50.4 L412.0,51.0 L413.0,51.7 L414.0,52.3 L415.0,52.9 L416.0,53.5 L417.0,54.1 L418.0,54.7 L419.0,55.3 L420.0,56.0 L421.0,56.6 L422.0,57.2 L423.0,57.8 L424.0,58.4 L425.0,59.0 L426.0,59.6 L427.0,60.2 L428.0,60.8 L429.0,61.4 L430.0,62.0 L431.0,62.6 L432.0,63.2 L433.0,63.8 L434.0,64.4 L435.0,65.0 L436.0,65.6 L437.0,66.2 L438.0,66.8 L439.0,67.4 L440.0,68.0 L441.0,68.5 L442.0,69.1 L443.0,69.7 L444.0,70.3 L445.0,70.9 L446.0,71.5 L447.0,72.1 L448.0,72.6 L449.0,73.2 L450.0,73.8 L451.0,74.4 L452.0,75.0 L453.0,75.5 L454.0,76.1 L455.0,76.7 L456.0,77.3 L457.0,77.8 L458.0,78.4 L459.0,79.0 L460.0,79.6 L461.0,80.1 L462.0,80.7 L463.0,81.3 L464.0,81.8 L465.0,82.4 L466.0,83.0 L467.0,83.5 L468.0,84.1 L469.0,84.6 L470.0,85.2 L471.0,85.8 L472.0,86.3 L473.0,86.9 L474.0,87.4 L475.0,88.0 L476.0,88.6 L477.0,89.1 L478.0,89.7 L479.0,90.2 L480.0,90.8 L481.0,91.3 L482.0,91.9 L483.0,92.4 L484.0,93.0 L485.0,93.5 L486.0,94.1 L487.0,94.6 L488.0,95.1 L489.0,95.7 L490.0,96.2 L491.0,96.8 L492.0,97.3 L493.0,97.9 L494.0,98.4 L495.0,98.9 L496.0,99.5 L497.0,100.0 L498.0,100.5 L499.0,101.1 L500.0,101.6 L501.0,102.1 L502.0,102.7 L503.0,103.2 L504.0,103.7 L505.0,104.3 L506.0,104.8 L507.0,105.3 L508.0,105.8 L509.0,106.4 L510.0,106.9 L511.0,107.4 L512.0,107.9 L513.0,108.5 L514.0,109.0 L515.0,109.5 L516.0,110.0 L517.0,110.5 L518.0,111.0 L519.0,111.6 L520.0,112.1 L521.0,112.6 L522.0,113.1 L523.0,113.6 L524.0,114.1 L525.0,114.6 L526.0,115.2 L527.0,115.7 L528.0,116.2 L529.0,116.7 L530.0,117.2 L531.0,117.7 L532.0,118.2 L533.0,118.7 L534.0,119.2 L535.0,119.7 L536.0,120.2 L537.0,120.7 L538.0,121.2 L539.0,121.7 L540.0,122.2 L541.0,122.7 L542.0,123.2 L543.0,123.7 L544.0,124.2 L545.0,124.7 L546.0,125.2 L547.0,125.7 L548.0,126.2 L549.0,126.7 L550.0,127.2 L551.0,127.6 L552.0,128.1 L553.0,128.6 L554.0,129.1 L555.0,129.6 L556.0,130.1 L557.0,130.6 L558.0,131.0 L559.0,131.5 L560.0,132.0 L561.0,132.5 L562.0,133.0 L563.0,133.5 L564.0,133.9 L565.0,134.4 L566.0,134.9 L567.0,135.4 L568.0,135.8 L569.0,136.3 L570.0,136.8 L571.0,137.3 L572.0,137.7 L573.0,138.2 L574.0,138.7 L575.0,139.1 L576.0,139.6 L577.0,140.1 L578.0,140.6 L579.0,141.0 L580.0,141.5 L581.0,142.0 L582.0,142.4 L583.0,142.9 L584.0,143.3 L585.0,143.8 L586.0,144.3 L587.0,144.7 L588.0,145.2 L589.0,145.6 L590.0,146.1 L591.0,146.6 L592.0,147.0 L593.0,147.5 L594.0,147.9 L595.0,148.4 L596.0,148.8 L597.0,149.3 L598.0,149.8 L599.0,150.2 L600.0,150.7 L601.0,151.1 L602.0,151.6 L603.0,152.0 L604.0,152.5 L605.0,152.9 L606.0,153.3 L607.0,153.8 L608.0,154.2 L609.0,154.7 L610.0,155.1 L611.0,155.6 L612.0,156.0 L613.0,156.5 L614.0,156.9 L615.0,157.3 L616.0,157.8 L617.0,158.2 L618.0,158.7 L619.0,159.1 L620.0,159.5 L621.0,160.0 L622.0,160.4 L623.0,160.8 L624.0,161.3 L625.0,161.7 L626.0,162.1 L627.0,162.6 L628.0,163.0 L629.0,163.4 L630.0,163.9 L631.0,164.3 L632.0,164.7 L633.0,165.1 L634.0,165.6 L635.0,166.0 L636.0,166.4 L637.0,166.9 L638.0,167.3 L639.0,167.7 L640.0,168.1 L641.0,168.5 L642.0,169.0 L643.0,169.4 L644.0,169.8 L645.0,170.2 L646.0,170.6 L647.0,171.1 L648.0,171.5 L649.0,171.9 L650.0,172.3 L651.0,172.7 L652.0,173.2 L653.0,173.6 L654.0,174.0 L655.0,174.4 L656.0,174.8 L657.0,175.2 L658.0,175.6 L659.0,176.0 L660.0,176.4 L661.0,176.9 L662.0,177.3 L663.0,177.7 L664.0,178.1 L665.0,178.5 L666.0,178.9 L667.0,179.3 L668.0,179.7 L669.0,180.1 L670.0,180.5 L671.0,180.9 L672.0,181.3 L673.0,181.7 L674.0,182.1 L675.0,182.5 L676.0,182.9 L677.0,183.3 L678.0,183.7 L679.0,184.1 L680.0,184.5 L681.0,184.9 L682.0,185.3 L683.0,185.7 L684.0,186.1 L685.0,186.5 L686.0,186.9 L687.0,187.3 L688.0,187.7 L689.0,188.1 L690.0,188.5 L691.0,188.9 L692.0,189.2 L693.0,189.6 L694.0,190.0 L695.0,190.4 L696.0,190.8 L697.0,191.2 L698.0,191.6 L699.0,192.0 L700.0,192.4 L701.0,192.7 L702.0,193.1 L703.0,193.5 L704.0,193.9 L705.0,194.3 L706.0,194.7 L707.0,195.0 L708.0,195.4 L709.0,195.8 L710.0,196.2 L711.0,196.6 L712.0,196.9" fill="none" stroke="#0000ff" stroke-width="4" stroke-dasharray="3.8 2.9"/>
<path d="M539.5,14.3 L540.5,14.9 L541.5,15.5 L542.5,16.1 L543.5,16.7 L544.5,17.3 L545.5,17.9 L546.5,18.6 L547.5,19.2 L548.5,19.9 L549.5,20.5 L550.5,21.2 L551.5,21.9 L552.5,22.6 L553.5,23.3 L554.5,24.0 L555.5,24.7 L556.5,25.5 L557.6,26.2 L558.6,26.9 L559.6,27.7 L560.6,28.5 L561.6,29.2 L562.6,30.0 L563.6,30.8 L564.6,31.6 L565.6,32.4 L566.6,33.2 L567.6,34.0 L568.6,34.8 L569.6,35.6 L570.6,36.4 L571.6,37.3 L572.6,38.1 L573.6,38.9 L574.6,39.8 L575.6,40.6 L576.6,41.5 L577.6,42.4 L578.6,43.2 L579.6,44.1 L580.6,45.0 L581.6,45.9 L582.6,46.7 L583.6,47.6 L584.6,48.5 L585.6,49.4 L586.6,50.3 L587.6,51.3 L588.6,52.2 L589.6,53.1 L590.6,54.0 L591.7,54.9 L592.7,55.9 L593.7,56.8 L594.7,57.7 L595.7,58.7 L596.7,59.6 L597.7,60.6 L598.7,61.5 L599.7,62.5 L600.7,63.4 L601.7,64.4 L602.7,65.3 L603.7,66.3 L604.7,67.3 L605.7,68.3 L606.7,69.2 L607.7,70.2 L608.7,71.2 L609.7,72.2 L610.7,73.2 L611.7,74.2 L612.7,75.2 L613.7,76.2 L614.7,77.2 L615.7,78.2 L616.7,79.2 L617.7,80.2 L618.7,81.2 L619.7,82.2 L620.7,83.2 L621.7,84.3 L622.7,85.3 L623.7,86.3 L624.7,87.4 L625.8,88.4 L626.8,89.4 L627.8,90.5 L628.8,91.5 L629.8,92.6 L630.8,93.6 L631.8,94.7 L632.8,95.8 L633.8,96.8 L634.8,97.9 L635.8,99.0 L636.8,100.1 L637.8,101.1 L638.8,102.2 L639.8,103.3 L640.8,104.4 L641.8,105.5 L642.8,106.6 L643.8,107.7 L644.8,108.9 L645.8,110.0 L646.8,111.1 L647.8,112.2 L648.8,113.4 L649.8,114.5 L650.8,115.7 L651.8,116.8 L652.8,118.0 L653.8,119.1 L654.8,120.3 L655.8,121.5 L656.8,122.7 L657.8,123.8 L658.8,125.0 L659.8,126.2 L660.9,127.5 L661.9,128.7 L662.9,129.9 L663.9,131.1 L664.9,132.4 L665.9,133.6 L666.9,134.9 L667.9,136.1 L668.9,137.4 L669.9,138.7 L670.9,140.0 L671.9,141.2 L672.9,142.6 L673.9,143.9 L674.9,145.2 L675.9,146.5 L676.9,147.9 L677.9,149.2 L678.9,150.6 L679.9,151.9 L680.9,153.3 L681.9,154.7 L682.9,156.1 L683.9,157.5 L684.9,159.0 L685.9,160.4 L686.9,161.9 L687.9,163.3 L688.9,164.8 L689.9,166.3 L690.9,167.8 L691.9,169.3 L692.9,170.8 L693.9,172.4 L695.0,173.9 L696.0,175.5 L697.0,177.1 L698.0,178.7 L699.0,180.3 L700.0,181.9 L701.0,183.6 L702.0,185.2 L703.0,186.9 L704.0,188.6 L705.0,190.3 L706.0,192.0 L707.0,193.8 L708.0,195.5 L709.0,197.3 L710.0,199.1 L711.0,200.9 L712.0,202.8" fill="none" stroke="#0000ff" stroke-width="4" stroke-dasharray="3.8 2.9"/>
</g>
<line x1="150.90" y1="310.30" x2="150.90" y2="349.50" stroke="#000" stroke-width="2.0"/>
<line x1="146.65" y1="310.30" x2="155.15" y2="310.30" stroke="#000" stroke-width="2.6"/>
<line x1="146.65" y1="349.50" x2="155.15" y2="349.50" stroke="#000" stroke-width="2.6"/>
<line x1="173.30" y1="310.60" x2="173.30" y2="349.80" stroke="#000" stroke-width="2.0"/>
<line x1="169.05" y1="310.60" x2="177.55" y2="310.60" stroke="#000" stroke-width="2.6"/>
<line x1="169.05" y1="349.80" x2="177.55" y2="349.80" stroke="#000" stroke-width="2.6"/>
<line x1="196.40" y1="349.60" x2="196.40" y2="388.80" stroke="#000" stroke-width="2.0"/>
<line x1="192.15" y1="349.60" x2="200.65" y2="349.60" stroke="#000" stroke-width="2.6"/>
<line x1="192.15" y1="388.80" x2="200.65" y2="388.80" stroke="#000" stroke-width="2.6"/>
<line x1="215.30" y1="368.40" x2="215.30" y2="407.60" stroke="#000" stroke-width="2.0"/>
<line x1="211.05" y1="368.40" x2="219.55" y2="368.40" stroke="#000" stroke-width="2.6"/>
<line x1="211.05" y1="407.60" x2="219.55" y2="407.60" stroke="#000" stroke-width="2.6"/>
<line x1="228.90" y1="357.30" x2="228.90" y2="396.50" stroke="#000" stroke-width="2.0"/>
<line x1="224.65" y1="357.30" x2="233.15" y2="357.30" stroke="#000" stroke-width="2.6"/>
<line x1="224.65" y1="396.50" x2="233.15" y2="396.50" stroke="#000" stroke-width="2.6"/>
<line x1="283.00" y1="427.20" x2="283.00" y2="466.40" stroke="#000" stroke-width="2.0"/>
<line x1="278.75" y1="427.20" x2="287.25" y2="427.20" stroke="#000" stroke-width="2.6"/>
<line x1="278.75" y1="466.40" x2="287.25" y2="466.40" stroke="#000" stroke-width="2.6"/>
<polygon points="150.90,322.40 157.90,334.00 143.90,334.00" fill="#000"/>
<polygon points="173.30,322.70 180.30,334.30 166.30,334.30" fill="#000"/>
<polygon points="196.40,361.70 203.40,373.30 189.40,373.30" fill="#000"/>
<polygon points="215.30,380.50 222.30,392.10 208.30,392.10" fill="#000"/>
<polygon points="228.90,369.40 235.90,381.00 221.90,381.00" fill="#000"/>
<polygon points="283.00,439.30 290.00,450.90 276.00,450.90" fill="#000"/>
<line x1="205.60" y1="233.00" x2="205.60" y2="272.20" stroke="#ff0000" stroke-width="2.0"/>
<line x1="201.35" y1="233.00" x2="209.85" y2="233.00" stroke="#ff0000" stroke-width="2.6"/>
<line x1="201.35" y1="272.20" x2="209.85" y2="272.20" stroke="#ff0000" stroke-width="2.6"/>
<rect x="198.85" y="244.95" width="13.5" height="15.3" fill="#ff0000"/>
<line x1="178.40" y1="310.60" x2="178.40" y2="349.80" stroke="#ff0000" stroke-width="2.0"/>
<line x1="174.15" y1="310.60" x2="182.65" y2="310.60" stroke="#ff0000" stroke-width="2.6"/>
<line x1="174.15" y1="349.80" x2="182.65" y2="349.80" stroke="#ff0000" stroke-width="2.6"/>
<rect x="171.65" y="322.55" width="13.5" height="15.3" fill="#ff0000"/>
<line x1="215.30" y1="310.60" x2="215.30" y2="349.80" stroke="#ff0000" stroke-width="2.0"/>
<line x1="211.05" y1="310.60" x2="219.55" y2="310.60" stroke="#ff0000" stroke-width="2.6"/>
<line x1="211.05" y1="349.80" x2="219.55" y2="349.80" stroke="#ff0000" stroke-width="2.6"/>
<rect x="208.55" y="322.55" width="13.5" height="15.3" fill="#ff0000"/>
<line x1="255.30" y1="346.80" x2="255.30" y2="386.00" stroke="#ff0000" stroke-width="2.0"/>
<line x1="251.05" y1="346.80" x2="259.55" y2="346.80" stroke="#ff0000" stroke-width="2.6"/>
<line x1="251.05" y1="386.00" x2="259.55" y2="386.00" stroke="#ff0000" stroke-width="2.6"/>
<rect x="248.55" y="358.75" width="13.5" height="15.3" fill="#ff0000"/>
<line x1="285.90" y1="367.60" x2="285.90" y2="406.80" stroke="#ff0000" stroke-width="2.0"/>
<line x1="281.65" y1="367.60" x2="290.15" y2="367.60" stroke="#ff0000" stroke-width="2.6"/>
<line x1="281.65" y1="406.80" x2="290.15" y2="406.80" stroke="#ff0000" stroke-width="2.6"/>
<rect x="279.15" y="379.55" width="13.5" height="15.3" fill="#ff0000"/>
<line x1="304.90" y1="355.70" x2="304.90" y2="394.90" stroke="#ff0000" stroke-width="2.0"/>
<line x1="300.65" y1="355.70" x2="309.15" y2="355.70" stroke="#ff0000" stroke-width="2.6"/>
<line x1="300.65" y1="394.90" x2="309.15" y2="394.90" stroke="#ff0000" stroke-width="2.6"/>
<rect x="298.15" y="367.65" width="13.5" height="15.3" fill="#ff0000"/>
<line x1="254.90" y1="227.70" x2="254.90" y2="266.90" stroke="#006400" stroke-width="2.0"/>
<line x1="250.65" y1="227.70" x2="259.15" y2="227.70" stroke="#006400" stroke-width="2.6"/>
<line x1="250.65" y1="266.90" x2="259.15" y2="266.90" stroke="#006400" stroke-width="2.6"/>
<polygon points="254.90,240.05 261.90,247.30 254.90,254.55 247.90,247.30" fill="#006400"/>
<line x1="349.70" y1="366.60" x2="349.70" y2="405.80" stroke="#006400" stroke-width="2.0"/>
<line x1="345.45" y1="366.60" x2="353.95" y2="366.60" stroke="#006400" stroke-width="2.6"/>
<line x1="345.45" y1="405.80" x2="353.95" y2="405.80" stroke="#006400" stroke-width="2.6"/>
<polygon points="349.70,378.95 356.70,386.20 349.70,393.45 342.70,386.20" fill="#006400"/>
<line x1="454.30" y1="423.50" x2="454.30" y2="462.70" stroke="#006400" stroke-width="2.0"/>
<line x1="450.05" y1="423.50" x2="458.55" y2="423.50" stroke="#006400" stroke-width="2.6"/>
<line x1="450.05" y1="462.70" x2="458.55" y2="462.70" stroke="#006400" stroke-width="2.6"/>
<polygon points="454.30,435.85 461.30,443.10 454.30,450.35 447.30,443.10" fill="#006400"/>
<ellipse cx="106.10" cy="301.40" rx="5.45" ry="6.050000000000001" fill="none" stroke="#00008b" stroke-width="1.7"/>
<rect x="105.50" y="300.80" width="1.2" height="1.2" fill="#00008b"/>
<ellipse cx="106.10" cy="316.30" rx="5.45" ry="6.050000000000001" fill="none" stroke="#0000ff" stroke-width="1.7"/>
<rect x="105.50" y="315.70" width="1.2" height="1.2" fill="#0000ff"/>
<ellipse cx="145.50" cy="331.90" rx="5.45" ry="6.050000000000001" fill="none" stroke="#0000ff" stroke-width="1.7"/>
<rect x="144.90" y="331.30" width="1.2" height="1.2" fill="#0000ff"/>
<ellipse cx="170.60" cy="349.10" rx="5.45" ry="6.050000000000001" fill="none" stroke="#0000ff" stroke-width="1.7"/>
<rect x="170.00" y="348.50" width="1.2" height="1.2" fill="#0000ff"/>
<ellipse cx="174.00" cy="351.60" rx="5.45" ry="6.050000000000001" fill="none" stroke="#0000ff" stroke-width="1.7"/>
<rect x="173.40" y="351.00" width="1.2" height="1.2" fill="#0000ff"/>
<ellipse cx="177.40" cy="353.60" rx="5.45" ry="6.050000000000001" fill="none" stroke="#0000ff" stroke-width="1.7"/>
<rect x="176.80" y="353.00" width="1.2" height="1.2" fill="#0000ff"/>
<ellipse cx="190.60" cy="366.90" rx="5.45" ry="6.050000000000001" fill="none" stroke="#0000ff" stroke-width="1.7"/>
<rect x="190.00" y="366.30" width="1.2" height="1.2" fill="#0000ff"/>
<ellipse cx="199.10" cy="370.60" rx="5.45" ry="6.050000000000001" fill="none" stroke="#0000ff" stroke-width="1.7"/>
<rect x="198.50" y="370.00" width="1.2" height="1.2" fill="#0000ff"/>
<ellipse cx="203.10" cy="371.20" rx="5.45" ry="6.050000000000001" fill="none" stroke="#0000ff" stroke-width="1.7"/>
<rect x="202.50" y="370.60" width="1.2" height="1.2" fill="#0000ff"/>
<ellipse cx="178.40" cy="331.90" rx="5.45" ry="6.050000000000001" fill="none" stroke="#00008b" stroke-width="1.7"/>
<rect x="177.80" y="331.30" width="1.2" height="1.2" fill="#00008b"/>
<ellipse cx="222.80" cy="349.50" rx="5.45" ry="6.050000000000001" fill="none" stroke="#00008b" stroke-width="1.7"/>
<rect x="222.20" y="348.90" width="1.2" height="1.2" fill="#00008b"/>
<ellipse cx="233.20" cy="353.10" rx="5.45" ry="6.050000000000001" fill="none" stroke="#00008b" stroke-width="1.7"/>
<rect x="232.60" y="352.50" width="1.2" height="1.2" fill="#00008b"/>
<ellipse cx="236.70" cy="353.10" rx="5.45" ry="6.050000000000001" fill="none" stroke="#00008b" stroke-width="1.7"/>
<rect x="236.10" y="352.50" width="1.2" height="1.2" fill="#00008b"/>
<ellipse cx="276.60" cy="367.10" rx="5.45" ry="6.050000000000001" fill="none" stroke="#00008b" stroke-width="1.7"/>
<rect x="276.00" y="366.50" width="1.2" height="1.2" fill="#00008b"/>
<ellipse cx="280.40" cy="370.90" rx="5.45" ry="6.050000000000001" fill="none" stroke="#00008b" stroke-width="1.7"/>
<rect x="279.80" y="370.30" width="1.2" height="1.2" fill="#00008b"/>
<ellipse cx="282.30" cy="370.90" rx="5.45" ry="6.050000000000001" fill="none" stroke="#00008b" stroke-width="1.7"/>
<rect x="281.70" y="370.30" width="1.2" height="1.2" fill="#00008b"/>
<line x1="402.50" y1="33.30" x2="402.50" y2="72.50" stroke="#0000ff" stroke-width="2.0"/>
<line x1="398.25" y1="33.30" x2="406.75" y2="33.30" stroke="#0000ff" stroke-width="2.6"/>
<line x1="398.25" y1="72.50" x2="406.75" y2="72.50" stroke="#0000ff" stroke-width="2.6"/>
<ellipse cx="402.50" cy="52.90" rx="6.5" ry="7.5" fill="#0000ff"/>
<line x1="472.20" y1="80.20" x2="472.20" y2="119.40" stroke="#0000ff" stroke-width="2.0"/>
<line x1="467.95" y1="80.20" x2="476.45" y2="80.20" stroke="#0000ff" stroke-width="2.6"/>
<line x1="467.95" y1="119.40" x2="476.45" y2="119.40" stroke="#0000ff" stroke-width="2.6"/>
<ellipse cx="472.20" cy="99.80" rx="6.5" ry="7.5" fill="#0000ff"/>
<line x1="598.20" y1="33.70" x2="598.20" y2="72.90" stroke="#0000ff" stroke-width="2.0"/>
<line x1="593.95" y1="33.70" x2="602.45" y2="33.70" stroke="#0000ff" stroke-width="2.6"/>
<line x1="593.95" y1="72.90" x2="602.45" y2="72.90" stroke="#0000ff" stroke-width="2.6"/>
<ellipse cx="598.20" cy="53.30" rx="6.5" ry="7.5" fill="#0000ff"/>
<line x1="637.90" y1="80.50" x2="637.90" y2="119.70" stroke="#0000ff" stroke-width="2.0"/>
<line x1="633.65" y1="80.50" x2="642.15" y2="80.50" stroke="#0000ff" stroke-width="2.6"/>
<line x1="633.65" y1="119.70" x2="642.15" y2="119.70" stroke="#0000ff" stroke-width="2.6"/>
<ellipse cx="637.90" cy="100.10" rx="6.5" ry="7.5" fill="#0000ff"/>
<line x1="615.50" y1="155.50" x2="615.50" y2="194.70" stroke="#0000ff" stroke-width="2.0"/>
<line x1="611.25" y1="155.50" x2="619.75" y2="155.50" stroke="#0000ff" stroke-width="2.6"/>
<line x1="611.25" y1="194.70" x2="619.75" y2="194.70" stroke="#0000ff" stroke-width="2.6"/>
<ellipse cx="615.50" cy="175.10" rx="6.5" ry="7.5" fill="#0000ff"/>
<line x1="687.80" y1="155.80" x2="687.80" y2="195.00" stroke="#0000ff" stroke-width="2.0"/>
<line x1="683.55" y1="155.80" x2="692.05" y2="155.80" stroke="#0000ff" stroke-width="2.6"/>
<line x1="683.55" y1="195.00" x2="692.05" y2="195.00" stroke="#0000ff" stroke-width="2.6"/>
<ellipse cx="687.80" cy="175.40" rx="6.5" ry="7.5" fill="#0000ff"/>
<line x1="564.80" y1="219.50" x2="587.00" y2="140.00" stroke="#000" stroke-width="3.2"/>
<polygon points="589.0,133.7 579.5,150 584.8,146 588.2,152.4" fill="#000" stroke="#000" stroke-width="2.5" stroke-linejoin="round"/>
<polygon points="133.3,548.2 139.75,560.6 126.85,560.6" fill="#000"/>
<rect x="145.20" y="549.30" width="13" height="14.4" fill="#ff0000"/>
<polygon points="169.80,549.35 176.30,556.70 169.80,564.05 163.30,556.70" fill="#006400"/>
<ellipse cx="169.80" cy="587.20" rx="6.5" ry="7.6" fill="#0000ff"/>
<ellipse cx="169.90" cy="617.70" rx="6.1000000000000005" ry="6.800000000000001" fill="none" stroke="#0000ff" stroke-width="1.7"/>
<rect x="169.30" y="617.10" width="1.2" height="1.2" fill="#0000ff"/>
<line x1="107.00" y1="13.20" x2="107.00" y2="642.80" stroke="#000" stroke-width="2.1"/>
<line x1="709.20" y1="13.20" x2="709.20" y2="642.80" stroke="#000" stroke-width="2.1"/>
<line x1="105.95" y1="14.50" x2="710.25" y2="14.50" stroke="#000" stroke-width="2.6"/>
<line x1="105.95" y1="641.50" x2="710.25" y2="641.50" stroke="#000" stroke-width="2.6"/>
<line x1="107.00" y1="563.12" x2="115.50" y2="563.12" stroke="#000" stroke-width="2.2"/>
<line x1="700.70" y1="563.12" x2="709.20" y2="563.12" stroke="#000" stroke-width="2.2"/>
<line x1="107.00" y1="484.75" x2="115.50" y2="484.75" stroke="#000" stroke-width="2.2"/>
<line x1="700.70" y1="484.75" x2="709.20" y2="484.75" stroke="#000" stroke-width="2.2"/>
<line x1="107.00" y1="406.38" x2="115.50" y2="406.38" stroke="#000" stroke-width="2.2"/>
<line x1="700.70" y1="406.38" x2="709.20" y2="406.38" stroke="#000" stroke-width="2.2"/>
<line x1="107.00" y1="328.00" x2="115.50" y2="328.00" stroke="#000" stroke-width="2.2"/>
<line x1="700.70" y1="328.00" x2="709.20" y2="328.00" stroke="#000" stroke-width="2.2"/>
<line x1="107.00" y1="249.62" x2="115.50" y2="249.62" stroke="#000" stroke-width="2.2"/>
<line x1="700.70" y1="249.62" x2="709.20" y2="249.62" stroke="#000" stroke-width="2.2"/>
<line x1="107.00" y1="171.25" x2="115.50" y2="171.25" stroke="#000" stroke-width="2.2"/>
<line x1="700.70" y1="171.25" x2="709.20" y2="171.25" stroke="#000" stroke-width="2.2"/>
<line x1="107.00" y1="92.88" x2="115.50" y2="92.88" stroke="#000" stroke-width="2.2"/>
<line x1="700.70" y1="92.88" x2="709.20" y2="92.88" stroke="#000" stroke-width="2.2"/>
<line x1="227.44" y1="14.50" x2="227.44" y2="24.00" stroke="#000" stroke-width="2"/>
<line x1="227.44" y1="632.00" x2="227.44" y2="641.50" stroke="#000" stroke-width="2"/>
<line x1="347.88" y1="14.50" x2="347.88" y2="24.00" stroke="#000" stroke-width="2"/>
<line x1="347.88" y1="632.00" x2="347.88" y2="641.50" stroke="#000" stroke-width="2"/>
<line x1="468.32" y1="14.50" x2="468.32" y2="24.00" stroke="#000" stroke-width="2"/>
<line x1="468.32" y1="632.00" x2="468.32" y2="641.50" stroke="#000" stroke-width="2"/>
<line x1="588.76" y1="14.50" x2="588.76" y2="24.00" stroke="#000" stroke-width="2"/>
<line x1="588.76" y1="632.00" x2="588.76" y2="641.50" stroke="#000" stroke-width="2"/>
<g clip-path="url(#clipR)">
<path d="M885.8,641.9 L886.1,641.8 L886.4,641.8 L886.7,641.8 L887.1,641.8 L887.4,641.8 L887.7,641.8 L888.0,641.8 L888.3,641.8 L888.6,641.8 L889.0,641.8 L889.3,641.7 L889.6,641.7 L889.9,641.7 L890.2,641.7 L890.5,641.6 L890.9,641.5 L891.2,641.5 L891.5,641.4 L891.8,641.2 L892.1,641.1 L892.4,641.0 L892.7,640.8 L893.1,640.7 L893.4,640.5 L893.7,640.3 L894.0,640.2 L894.3,640.0 L894.6,639.8 L895.0,639.6 L895.3,639.4 L895.6,639.1 L895.9,638.8 L896.2,638.5 L896.5,638.2 L896.9,637.8 L897.2,637.4 L897.5,637.0 L897.8,636.6 L898.1,636.1 L898.4,635.6 L898.7,635.1 L899.1,634.7 L899.4,634.2 L899.7,633.7 L900.0,633.2 L900.3,632.7 L900.6,632.2 L901.0,631.8 L901.3,631.3 L901.6,630.9 L901.9,630.4 L902.2,630.0 L902.5,629.5 L902.9,629.1 L903.2,628.6 L903.5,628.2 L903.8,627.7 L904.1,627.2 L904.4,626.8 L904.7,626.3 L905.1,625.8 L905.4,625.4 L905.7,624.9 L906.0,624.5 L906.3,624.0 L906.6,623.6 L907.0,623.1 L907.3,622.7 L907.6,622.3 L907.9,621.8 L908.2,621.4 L908.5,621.0 L908.9,620.6 L909.2,620.2 L909.5,619.8 L909.8,619.4 L910.1,619.0 L910.4,618.6 L910.7,618.2 L911.1,617.8 L911.4,617.4 L911.7,617.0 L912.0,616.7 L912.3,616.3 L912.6,615.9 L913.0,615.5 L913.3,615.1 L913.6,614.7 L913.9,614.3 L914.2,613.9 L914.5,613.6 L914.9,613.2 L915.2,612.8 L915.5,612.4 L915.8,612.1 L916.1,611.7 L916.4,611.4 L916.7,611.0 L917.1,610.6 L917.4,610.3 L917.7,610.0 L918.0,609.6 L918.3,609.3 L918.6,609.0 L919.0,608.6 L919.3,608.3 L919.6,607.9 L919.9,607.6 L920.2,607.2 L920.5,606.9 L920.9,606.5 L921.2,606.2 L921.5,605.8 L921.8,605.5 L922.1,605.1 L922.4,604.8 L922.8,604.4 L923.1,604.1 L923.4,603.7 L923.7,603.4 L924.0,603.0 L924.3,602.7 L924.6,602.4 L925.0,602.0 L925.3,601.7 L925.6,601.3 L925.9,601.0 L926.2,600.6 L926.5,600.3 L926.9,600.0 L927.2,599.6 L927.5,599.3 L927.8,599.0 L928.1,598.6 L928.4,598.3 L928.8,597.9 L929.1,597.6 L929.4,597.2 L929.7,596.9 L930.0,596.5 L930.3,596.2 L930.6,595.8 L931.0,595.4 L931.3,595.1 L931.6,594.7 L931.9,594.3 L932.2,593.9 L932.5,593.6 L932.9,593.2 L933.2,592.8 L933.5,592.4 L933.8,592.1 L934.1,591.7 L934.4,591.3 L934.8,590.9 L935.1,590.6 L935.4,590.2 L935.7,589.8 L936.0,589.4 L936.3,589.0 L936.6,588.7 L937.0,588.3 L937.3,587.9 L937.6,587.5 L937.9,587.1 L938.2,586.7 L938.5,586.4 L938.9,586.0 L939.2,585.6 L939.5,585.2 L939.8,584.8 L940.1,584.4 L940.4,584.0 L940.8,583.6 L941.1,583.1 L941.4,582.7 L941.7,582.3 L942.0,581.9 L942.3,581.5 L942.6,581.1 L943.0,580.6 L943.3,580.2 L943.6,579.8 L943.9,579.3 L944.2,578.9 L944.5,578.4 L944.9,578.0 L945.2,577.5 L945.5,577.1 L945.8,576.6 L946.1,576.2 L946.4,575.7 L946.8,575.3 L947.1,574.8 L947.4,574.3 L947.7,573.9 L948.0,573.4 L948.3,572.9 L948.6,572.4 L949.0,571.9 L949.3,571.4 L949.6,571.0 L949.9,570.5 L950.2,570.0 L950.5,569.5 L950.9,569.0 L951.2,568.5 L951.5,568.0 L951.8,567.5 L952.1,566.9 L952.4,566.4 L952.8,565.9 L953.1,565.4 L953.4,564.9 L953.7,564.3 L954.0,563.8 L954.3,563.3 L954.6,562.7 L955.0,562.2 L955.3,561.6 L955.6,561.1 L955.9,560.5 L956.2,560.0 L956.5,559.4 L956.9,558.9 L957.2,558.3 L957.5,557.8 L957.8,557.2 L958.1,556.6 L958.4,556.1 L958.8,555.5 L959.1,554.9 L959.4,554.4 L959.7,553.8 L960.0,553.2 L960.3,552.6 L960.6,552.1 L961.0,551.5 L961.3,550.9 L961.6,550.3 L961.9,549.7 L962.2,549.1 L962.5,548.5 L962.9,547.9 L963.2,547.3 L963.5,546.7 L963.8,546.1 L964.1,545.5 L964.4,544.9 L964.8,544.3 L965.1,543.7 L965.4,543.0 L965.7,542.4 L966.0,541.8 L966.3,541.2 L966.6,540.5 L967.0,539.9 L967.3,539.2 L967.6,538.6 L967.9,537.9 L968.2,537.3 L968.5,536.6 L968.9,536.0 L969.2,535.3 L969.5,534.6 L969.8,534.0 L970.1,533.3 L970.4,532.6 L970.8,531.9 L971.1,531.2 L971.4,530.5 L971.7,529.8 L972.0,529.1 L972.3,528.4 L972.6,527.7 L973.0,527.0 L973.3,526.3 L973.6,525.6 L973.9,524.8 L974.2,524.1 L974.5,523.4 L974.9,522.6 L975.2,521.9 L975.5,521.1 L975.8,520.4 L976.1,519.6 L976.4,518.8 L976.8,518.0 L977.1,517.2 L977.4,516.4 L977.7,515.6 L978.0,514.8 L978.3,514.0 L978.6,513.1 L979.0,512.3 L979.3,511.5 L979.6,510.6 L979.9,509.8 L980.2,508.9 L980.5,508.0 L980.9,507.2 L981.2,506.3 L981.5,505.4 L981.8,504.5 L982.1,503.6 L982.4,502.7 L982.8,501.8 L983.1,500.8 L983.4,499.9 L983.7,499.0 L984.0,498.0 L984.3,497.1 L984.6,496.1 L985.0,495.2 L985.3,494.2 L985.6,493.2 L985.9,492.3 L986.2,491.3 L986.5,490.3 L986.9,489.3 L987.2,488.3 L987.5,487.3 L987.8,486.3 L988.1,485.3 L988.4,484.2 L988.8,483.2 L989.1,482.1 L989.4,481.1 L989.7,480.0 L990.0,478.9 L990.3,477.8 L990.6,476.7 L991.0,475.5 L991.3,474.4 L991.6,473.2 L991.9,472.0 L992.2,470.8 L992.5,469.6 L992.9,468.3 L993.2,467.0 L993.5,465.7 L993.8,464.4 L994.1,463.0 L994.4,461.6 L994.8,460.1 L995.1,458.6 L995.4,457.0 L995.7,455.4 L996.0,453.7 L996.3,452.1 L996.7,450.3 L997.0,448.6 L997.3,446.8 L997.6,445.1 L997.9,443.3 L998.2,441.6 L998.5,439.8 L998.9,438.1 L999.2,436.4 L999.5,434.7 L999.8,433.1 L1000.1,431.4 L1000.4,429.8 L1000.8,428.1 L1001.1,426.4 L1001.4,424.7 L1001.7,423.0 L1002.0,421.1 L1002.3,419.2 L1002.7,417.2 L1003.0,415.1 L1003.3,412.9 L1003.6,410.6 L1003.9,408.0 L1004.2,405.3 L1004.5,402.4 L1004.9,399.4 L1005.2,396.3 L1005.5,393.0 L1005.8,389.6 L1006.1,386.1 L1006.4,382.6 L1006.8,379.0 L1007.1,375.3 L1007.4,371.6 L1007.7,367.6 L1008.0,363.4 L1008.3,359.0 L1008.7,354.2 L1009.0,349.1 L1009.3,343.5 L1009.6,337.4 L1009.9,330.8 L1010.2,322.6 L1010.5,312.6 L1010.9,301.1 L1011.2,288.5 L1011.5,275.1 L1011.8,261.4 L1012.6,362.4 L1013.3,403.5 L1014.1,423.6 L1014.9,432.2 L1015.7,437.3 L1016.4,440.7 L1017.2,443.4 L1018.0,446.0 L1018.7,448.2 L1019.5,450.0 L1020.3,451.0 L1021.0,451.6 L1021.8,452.0 L1022.6,452.2 L1023.4,452.3 L1024.1,452.2 L1024.9,452.0 L1025.7,451.8 L1026.4,451.5 L1027.2,451.2 L1028.0,450.8 L1028.7,450.4 L1029.5,449.9 L1030.3,449.4 L1031.0,448.9 L1031.8,448.3 L1032.6,447.8 L1033.4,447.2 L1034.1,446.7 L1034.9,446.1 L1035.7,445.5 L1036.4,444.9 L1037.2,444.3 L1038.0,443.7 L1038.7,443.1 L1039.5,442.5 L1040.3,441.8 L1041.1,441.1 L1041.8,440.4 L1042.6,439.6 L1043.4,438.9 L1044.1,438.1 L1044.9,437.3 L1045.7,436.5 L1046.4,435.7 L1047.2,434.8 L1048.0,434.0 L1048.8,433.1 L1049.5,432.3 L1050.3,431.4 L1051.1,430.5 L1051.8,429.6 L1052.6,428.7 L1053.4,427.8 L1054.1,426.9 L1054.9,426.0 L1055.7,425.1 L1056.4,424.1 L1057.2,423.2 L1058.0,422.2 L1058.8,421.3 L1059.5,420.3 L1060.3,419.3 L1061.1,418.3 L1061.8,417.3 L1062.6,416.3 L1063.4,415.3 L1064.1,414.3 L1064.9,413.3 L1065.7,412.3 L1066.5,411.3 L1067.2,410.3 L1068.0,409.3 L1068.8,408.3 L1069.5,407.2 L1070.3,406.2 L1071.1,405.2 L1071.8,404.1 L1072.6,403.1 L1073.4,402.1 L1074.1,401.0 L1074.9,400.0 L1075.7,398.9 L1076.5,397.9 L1077.2,396.9 L1078.0,395.8 L1078.8,394.7 L1079.5,393.7 L1080.3,392.6 L1081.1,391.6 L1081.8,390.5 L1082.6,389.4 L1083.4,388.4 L1084.2,387.3 L1084.9,386.2 L1085.7,385.1 L1086.5,384.1 L1087.2,383.0 L1088.0,381.9 L1088.8,380.9 L1089.5,379.8 L1090.3,378.7 L1091.1,377.7 L1091.8,376.6 L1092.6,375.5 L1093.4,374.5 L1094.2,373.4 L1094.9,372.3 L1095.7,371.3 L1096.5,370.2 L1097.2,369.2 L1098.0,368.1 L1098.8,367.1 L1099.5,366.0 L1100.3,365.0 L1101.1,363.9 L1101.9,362.9 L1102.6,361.8 L1103.4,360.8 L1104.2,359.7 L1104.9,358.7 L1105.7,357.7 L1106.5,356.6 L1107.2,355.6 L1108.0,354.6 L1108.8,353.5 L1109.5,352.5 L1110.3,351.5 L1111.1,350.5 L1111.9,349.5 L1112.6,348.5 L1113.4,347.4 L1114.2,346.4 L1114.9,345.4 L1115.7,344.4 L1116.5,343.4 L1117.2,342.4 L1118.0,341.4 L1118.8,340.4 L1119.6,339.4 L1120.3,338.4 L1121.1,337.4 L1121.9,336.5 L1122.6,335.5 L1123.4,334.5 L1124.2,333.5 L1124.9,332.5 L1125.7,331.5 L1126.5,330.6 L1127.2,329.6 L1128.0,328.6 L1128.8,327.6 L1129.6,326.7 L1130.3,325.7 L1131.1,324.7 L1131.9,323.7 L1132.6,322.8 L1133.4,321.8 L1134.2,320.8 L1134.9,319.9 L1135.7,318.9 L1136.5,318.0 L1137.3,317.0 L1138.0,316.0 L1138.8,315.1 L1139.6,314.1 L1140.3,313.2 L1141.1,312.2 L1141.9,311.2 L1142.6,310.3 L1143.4,309.3 L1144.2,308.4 L1145.0,307.4 L1145.7,306.5 L1146.5,305.6 L1147.3,304.6 L1148.0,303.7 L1148.8,302.7 L1149.6,301.8 L1150.3,300.9 L1151.1,299.9 L1151.9,299.0 L1152.6,298.1 L1153.4,297.2 L1154.2,296.2 L1155.0,295.3 L1155.7,294.4 L1156.5,293.5 L1157.3,292.6 L1158.0,291.7 L1158.8,290.8 L1159.6,289.8 L1160.3,288.9 L1161.1,288.0 L1161.9,287.1 L1162.7,286.2 L1163.4,285.3 L1164.2,284.4 L1165.0,283.5 L1165.7,282.7 L1166.5,281.8 L1167.3,280.9 L1168.0,280.0 L1168.8,279.1 L1169.6,278.2 L1170.3,277.3 L1171.1,276.5 L1171.9,275.6 L1172.7,274.7 L1173.4,273.8 L1174.2,272.9 L1175.0,272.1 L1175.7,271.2 L1176.5,270.3 L1177.3,269.5 L1178.0,268.6 L1178.8,267.7 L1179.6,266.9 L1180.4,266.0 L1181.1,265.2 L1181.9,264.3 L1182.7,263.4 L1183.4,262.6 L1184.2,261.7 L1185.0,260.9 L1185.7,260.0 L1186.5,259.2 L1187.3,258.3 L1188.0,257.5 L1188.8,256.6 L1189.6,255.8 L1190.4,254.9 L1191.1,254.1 L1191.9,253.3 L1192.7,252.4 L1193.4,251.6 L1194.2,250.7 L1195.0,249.9 L1195.7,249.1 L1196.5,248.2 L1197.3,247.4 L1198.1,246.6 L1198.8,245.7 L1199.6,244.9 L1200.4,244.1 L1201.1,243.3 L1201.9,242.4 L1202.7,241.6 L1203.4,240.8 L1204.2,240.0 L1205.0,239.1 L1205.7,238.3 L1206.5,237.5 L1207.3,236.7 L1208.1,235.9 L1208.8,235.1 L1209.6,234.3 L1210.4,233.4 L1211.1,232.6 L1211.9,231.8 L1212.7,231.0 L1213.4,230.2 L1214.2,229.4 L1215.0,228.6 L1215.8,227.8 L1216.5,227.0 L1217.3,226.2 L1218.1,225.4 L1218.8,224.6 L1219.6,223.8 L1220.4,223.0 L1221.1,222.3 L1221.9,221.5 L1222.7,220.7 L1223.4,219.9 L1224.2,219.1 L1225.0,218.3 L1225.8,217.6 L1226.5,216.8 L1227.3,216.0 L1228.1,215.2 L1228.8,214.4 L1229.6,213.7 L1230.4,212.9 L1231.1,212.1 L1231.9,211.4 L1232.7,210.6 L1233.5,209.8 L1234.2,209.1 L1235.0,208.3 L1235.8,207.5 L1236.5,206.8 L1237.3,206.0 L1238.1,205.2 L1238.8,204.5 L1239.6,203.7 L1240.4,203.0 L1241.2,202.2 L1241.9,201.5 L1242.7,200.7 L1243.5,199.9 L1244.2,199.2 L1245.0,198.4 L1245.8,197.7 L1246.5,196.9 L1247.3,196.2 L1248.1,195.5 L1248.8,194.7 L1249.6,194.0 L1250.4,193.2 L1251.2,192.5 L1251.9,191.7 L1252.7,191.0 L1253.5,190.3 L1254.2,189.5 L1255.0,188.8 L1255.8,188.0 L1256.5,187.3 L1257.3,186.6 L1258.1,185.9 L1258.9,185.1 L1259.6,184.4 L1260.4,183.7 L1261.2,182.9 L1261.9,182.2 L1262.7,181.5 L1263.5,180.8 L1264.2,180.0 L1265.0,179.3 L1265.8,178.6 L1266.5,177.9 L1267.3,177.2 L1268.1,176.4 L1268.9,175.7 L1269.6,175.0 L1270.4,174.3 L1271.2,173.6 L1271.9,172.9 L1272.7,172.2 L1273.5,171.5 L1274.2,170.8 L1275.0,170.1 L1275.8,169.4 L1276.6,168.7 L1277.3,168.0 L1278.1,167.3 L1278.9,166.6 L1279.6,165.9 L1280.4,165.2 L1281.2,164.5 L1281.9,163.8 L1282.7,163.1 L1283.5,162.4 L1284.2,161.7 L1285.0,161.0 L1285.8,160.3 L1286.6,159.6 L1287.3,158.9 L1288.1,158.3 L1288.9,157.6 L1289.6,156.9 L1290.4,156.2 L1291.2,155.5 L1291.9,154.8 L1292.7,154.1 L1293.5,153.5 L1294.3,152.8 L1295.0,152.1 L1295.8,151.4 L1296.6,150.7 L1297.3,150.1 L1298.1,149.4 L1298.9,148.7 L1299.6,148.0 L1300.4,147.4 L1301.2,146.7 L1301.9,146.0 L1302.7,145.4 L1303.5,144.7 L1304.3,144.0 L1305.0,143.4 L1305.8,142.7 L1306.6,142.0 L1307.3,141.4 L1308.1,140.7 L1308.9,140.0 L1309.6,139.4 L1310.4,138.7 L1311.2,138.1 L1312.0,137.4 L1312.7,136.7 L1313.5,136.1 L1314.3,135.4 L1315.0,134.8 L1315.8,134.1 L1316.6,133.5 L1317.3,132.8 L1318.1,132.2 L1318.9,131.5 L1319.6,130.9 L1320.4,130.3 L1321.2,129.6 L1322.0,129.0 L1322.7,128.3 L1323.5,127.7 L1324.3,127.1 L1325.0,126.4 L1325.8,125.8 L1326.6,125.2 L1327.3,124.5 L1328.1,123.9 L1328.9,123.3 L1329.7,122.6 L1330.4,122.0 L1331.2,121.4 L1332.0,120.8 L1332.7,120.1 L1333.5,119.5 L1334.3,118.9 L1335.0,118.3 L1335.8,117.7 L1336.6,117.1 L1337.4,116.5 L1338.1,115.8 L1338.9,115.2 L1339.7,114.6 L1340.4,114.0 L1341.2,113.4 L1342.0,112.8 L1342.7,112.2 L1343.5,111.6 L1344.3,111.0 L1345.0,110.4 L1345.8,109.8 L1346.6,109.2 L1347.4,108.6 L1348.1,108.0 L1348.9,107.4 L1349.7,106.8 L1350.4,106.2 L1351.2,105.6 L1352.0,105.1 L1352.7,104.5 L1353.5,103.9 L1354.3,103.3 L1355.1,102.7 L1355.8,102.1 L1356.6,101.5 L1357.4,101.0 L1358.1,100.4 L1358.9,99.8 L1359.7,99.2 L1360.4,98.6 L1361.2,98.1 L1362.0,97.5 L1362.7,96.9 L1363.5,96.3 L1364.3,95.8 L1365.1,95.2 L1365.8,94.6 L1366.6,94.1 L1367.4,93.5 L1368.1,92.9 L1368.9,92.4 L1369.7,91.8 L1370.4,91.2 L1371.2,90.7 L1372.0,90.1 L1372.8,89.6 L1373.5,89.0 L1374.3,88.4 L1375.1,87.9 L1375.8,87.3 L1376.6,86.8 L1377.4,86.2 L1378.1,85.7 L1378.9,85.1 L1379.7,84.6 L1380.4,84.0 L1381.2,83.5 L1382.0,82.9 L1382.8,82.4 L1383.5,81.9 L1384.3,81.3 L1385.1,80.8 L1385.8,80.2 L1386.6,79.7 L1387.4,79.2 L1388.1,78.6 L1388.9,78.1 L1389.7,77.6 L1390.5,77.0 L1391.2,76.5 L1392.0,76.0 L1392.8,75.4 L1393.5,74.9 L1394.3,74.4 L1395.1,73.9 L1395.8,73.3 L1396.6,72.8 L1397.4,72.3 L1398.1,71.8 L1398.9,71.2 L1399.7,70.7 L1400.5,70.2 L1401.2,69.7 L1402.0,69.2 L1402.8,68.7 L1403.5,68.1 L1404.3,67.6 L1405.1,67.1 L1405.8,66.6 L1406.6,66.1 L1407.4,65.6 L1408.2,65.1 L1408.9,64.6 L1409.7,64.1 L1410.5,63.6 L1411.2,63.1 L1412.0,62.6 L1412.8,62.1 L1413.5,61.6 L1414.3,61.1 L1415.1,60.6 L1415.8,60.1 L1416.6,59.6 L1417.4,59.1 L1418.2,58.6 L1418.9,58.1 L1419.7,57.6 L1420.5,57.1 L1421.2,56.6 L1422.0,56.1 L1422.8,55.6 L1423.5,55.2 L1424.3,54.7 L1425.1,54.2 L1425.9,53.7 L1426.6,53.2 L1427.4,52.7 L1428.2,52.2 L1428.9,51.8 L1429.7,51.3 L1430.5,50.8 L1431.2,50.3 L1432.0,49.9 L1432.8,49.4 L1433.6,48.9 L1434.3,48.4 L1435.1,48.0 L1435.9,47.5 L1436.6,47.0 L1437.4,46.5 L1438.2,46.1 L1438.9,45.6 L1439.7,45.1 L1440.5,44.7 L1441.2,44.2 L1442.0,43.7 L1442.8,43.3 L1443.6,42.8 L1444.3,42.4 L1445.1,41.9 L1445.9,41.4 L1446.6,41.0 L1447.4,40.5 L1448.2,40.1 L1448.9,39.6 L1449.7,39.2 L1450.5,38.7 L1451.3,38.2 L1452.0,37.8 L1452.8,37.3 L1453.6,36.9 L1454.3,36.4 L1455.1,36.0 L1455.9,35.5 L1456.6,35.1 L1457.4,34.7 L1458.2,34.2 L1458.9,33.8 L1459.7,33.3 L1460.5,32.9 L1461.3,32.4 L1462.0,32.0 L1462.8,31.6 L1463.6,31.1 L1464.3,30.7 L1465.1,30.2 L1465.9,29.8 L1466.6,29.4 L1467.4,28.9 L1468.2,28.5 L1469.0,28.1 L1469.7,27.6 L1470.5,27.2 L1471.3,26.8 L1472.0,26.4 L1472.8,25.9" fill="none" stroke="#000" stroke-width="2.8" stroke-linejoin="round"/>
<path d="M885.8,641.9 L886.1,641.9 L886.4,641.9 L886.7,641.9 L887.1,641.9 L887.4,641.9 L887.7,641.9 L888.0,641.9 L888.3,641.9 L888.6,641.8 L889.0,641.8 L889.3,641.8 L889.6,641.8 L889.9,641.8 L890.2,641.8 L890.5,641.7 L890.9,641.6 L891.2,641.6 L891.5,641.5 L891.8,641.3 L892.1,641.2 L892.4,641.1 L892.7,640.9 L893.1,640.8 L893.4,640.6 L893.7,640.5 L894.0,640.3 L894.3,640.1 L894.6,639.9 L895.0,639.7 L895.3,639.5 L895.6,639.3 L895.9,639.0 L896.2,638.7 L896.5,638.4 L896.9,638.1 L897.2,637.7 L897.5,637.3 L897.8,636.9 L898.1,636.4 L898.4,636.0 L898.7,635.5 L899.1,635.0 L899.4,634.6 L899.7,634.1 L900.0,633.6 L900.3,633.2 L900.6,632.7 L901.0,632.3 L901.3,631.9 L901.6,631.5 L901.9,631.1 L902.2,630.7 L902.5,630.3 L902.9,629.8 L903.2,629.4 L903.5,629.0 L903.8,628.6 L904.1,628.2 L904.4,627.7 L904.7,627.3 L905.1,626.9 L905.4,626.5 L905.7,626.1 L906.0,625.7 L906.3,625.3 L906.6,624.9 L907.0,624.5 L907.3,624.1 L907.6,623.8 L907.9,623.4 L908.2,623.1 L908.5,622.8 L908.9,622.5 L909.2,622.2 L909.5,621.8 L909.8,621.5 L910.1,621.2 L910.4,620.9 L910.7,620.6 L911.1,620.3 L911.4,620.0 L911.7,619.7 L912.0,619.5 L912.3,619.2 L912.6,618.9 L913.0,618.6 L913.3,618.3 L913.6,618.1 L913.9,617.8 L914.2,617.6 L914.5,617.3 L914.9,617.1 L915.2,616.8 L915.5,616.6 L915.8,616.4 L916.1,616.1 L916.4,615.9 L916.7,615.7 L917.1,615.5 L917.4,615.3 L917.7,615.1 L918.0,615.0 L918.3,614.8 L918.6,614.6 L919.0,614.4 L919.3,614.3 L919.6,614.1 L919.9,613.9 L920.2,613.8 L920.5,613.6 L920.9,613.4 L921.2,613.3 L921.5,613.1 L921.8,613.0 L922.1,612.8 L922.4,612.7 L922.8,612.6 L923.1,612.4 L923.4,612.3 L923.7,612.2 L924.0,612.0 L924.3,611.9 L924.6,611.8 L925.0,611.7 L925.3,611.6 L925.6,611.5 L925.9,611.4 L926.2,611.3 L926.5,611.3 L926.9,611.2 L927.2,611.1 L927.5,611.1 L927.8,611.0 L928.1,610.9 L928.4,610.9 L928.8,610.8 L929.1,610.7 L929.4,610.7 L929.7,610.6 L930.0,610.6 L930.3,610.5 L930.6,610.4 L931.0,610.4 L931.3,610.3 L931.6,610.3 L931.9,610.2 L932.2,610.2 L932.5,610.1 L932.9,610.1 L933.2,610.1 L933.5,610.0 L933.8,610.0 L934.1,610.0 L934.4,609.9 L934.8,609.9 L935.1,609.9 L935.4,609.9 L935.7,609.8 L936.0,609.8 L936.3,609.8 L936.6,609.8 L937.0,609.8 L937.3,609.8 L937.6,609.8 L937.9,609.8 L938.2,609.8 L938.5,609.8 L938.9,609.8 L939.2,609.8 L939.5,609.9 L939.8,609.9 L940.1,609.9 L940.4,609.9 L940.8,609.9 L941.1,610.0 L941.4,610.0 L941.7,610.0 L942.0,610.0 L942.3,610.1 L942.6,610.1 L943.0,610.1 L943.3,610.2 L943.6,610.2 L943.9,610.2 L944.2,610.3 L944.5,610.3 L944.9,610.3 L945.2,610.4 L945.5,610.4 L945.8,610.5 L946.1,610.5 L946.4,610.6 L946.8,610.6 L947.1,610.6 L947.4,610.7 L947.7,610.7 L948.0,610.8 L948.3,610.8 L948.6,610.9 L949.0,610.9 L949.3,611.0 L949.6,611.0 L949.9,611.1 L950.2,611.1 L950.5,611.2 L950.9,611.3 L951.2,611.3 L951.5,611.4 L951.8,611.4 L952.1,611.5 L952.4,611.5 L952.8,611.6 L953.1,611.6 L953.4,611.7 L953.7,611.7 L954.0,611.8 L954.3,611.8 L954.6,611.9 L955.0,611.9 L955.3,612.0 L955.6,612.1 L955.9,612.1 L956.2,612.2 L956.5,612.2 L956.9,612.3 L957.2,612.3 L957.5,612.4 L957.8,612.4 L958.1,612.5 L958.4,612.6 L958.8,612.6 L959.1,612.7 L959.4,612.8 L959.7,612.8 L960.0,612.9 L960.3,613.0 L960.6,613.0 L961.0,613.1 L961.3,613.2 L961.6,613.3 L961.9,613.3 L962.2,613.4 L962.5,613.5 L962.9,613.6 L963.2,613.6 L963.5,613.7 L963.8,613.8 L964.1,613.9 L964.4,614.0 L964.8,614.1 L965.1,614.1 L965.4,614.2 L965.7,614.3 L966.0,614.4 L966.3,614.5 L966.6,614.6 L967.0,614.6 L967.3,614.7 L967.6,614.8 L967.9,614.9 L968.2,615.0 L968.5,615.1 L968.9,615.2 L969.2,615.2 L969.5,615.3 L969.8,615.4 L970.1,615.5 L970.4,615.6 L970.8,615.7 L971.1,615.8 L971.4,615.8 L971.7,615.9 L972.0,616.0 L972.3,616.1 L972.6,616.2 L973.0,616.3 L973.3,616.3 L973.6,616.4 L973.9,616.5 L974.2,616.6 L974.5,616.7 L974.9,616.7 L975.2,616.8 L975.5,616.9 L975.8,617.0 L976.1,617.0 L976.4,617.1 L976.8,617.2 L977.1,617.3 L977.4,617.4 L977.7,617.4 L978.0,617.5 L978.3,617.6 L978.6,617.7 L979.0,617.8 L979.3,617.8 L979.6,617.9 L979.9,618.0 L980.2,618.1 L980.5,618.2 L980.9,618.2 L981.2,618.3 L981.5,618.4 L981.8,618.5 L982.1,618.6 L982.4,618.6 L982.8,618.7 L983.1,618.8 L983.4,618.9 L983.7,619.0 L984.0,619.0 L984.3,619.1 L984.6,619.2 L985.0,619.3 L985.3,619.4 L985.6,619.4 L985.9,619.5 L986.2,619.6 L986.5,619.7 L986.9,619.7 L987.2,619.8 L987.5,619.9 L987.8,620.0 L988.1,620.1 L988.4,620.1 L988.8,620.2 L989.1,620.3 L989.4,620.4 L989.7,620.4 L990.0,620.5 L990.3,620.6 L990.6,620.7 L991.0,620.7 L991.3,620.8 L991.6,620.9 L991.9,621.0 L992.2,621.0 L992.5,621.1 L992.9,621.2 L993.2,621.2 L993.5,621.3 L993.8,621.4 L994.1,621.5 L994.4,621.5 L994.8,621.6 L995.1,621.7 L995.4,621.7 L995.7,621.8 L996.0,621.9 L996.3,621.9 L996.7,622.0 L997.0,622.1 L997.3,622.1 L997.6,622.2 L997.9,622.3 L998.2,622.4 L998.5,622.4 L998.9,622.5 L999.2,622.6 L999.5,622.6 L999.8,622.7 L1000.1,622.8 L1000.4,622.8 L1000.8,622.9 L1001.1,623.0 L1001.4,623.0 L1001.7,623.1 L1002.0,623.2 L1002.3,623.2 L1002.7,623.3 L1003.0,623.4 L1003.3,623.4 L1003.6,623.5 L1003.9,623.6 L1004.2,623.6 L1004.5,623.7 L1004.9,623.8 L1005.2,623.8 L1005.5,623.9 L1005.8,624.0 L1006.1,624.0 L1006.4,624.1 L1006.8,624.2 L1007.1,624.2 L1007.4,624.3 L1007.7,624.4 L1008.0,624.4 L1008.3,624.5 L1008.7,624.6 L1009.0,624.6 L1009.3,624.7 L1009.6,624.7 L1009.9,624.8 L1010.2,624.9 L1010.5,624.9 L1010.9,625.0 L1011.2,625.0 L1011.5,625.1 L1011.8,625.2 L1012.6,625.3 L1013.3,625.4 L1014.1,625.6 L1014.9,625.7 L1015.7,625.9 L1016.4,626.0 L1017.2,626.1 L1018.0,626.2 L1018.7,626.4 L1019.5,626.5 L1020.3,626.6 L1021.0,626.7 L1021.8,626.8 L1022.6,626.9 L1023.4,627.0 L1024.1,627.1 L1024.9,627.2 L1025.7,627.3 L1026.4,627.5 L1027.2,627.6 L1028.0,627.7 L1028.7,627.8 L1029.5,627.9 L1030.3,628.0 L1031.0,628.1 L1031.8,628.2 L1032.6,628.2 L1033.4,628.3 L1034.1,628.4 L1034.9,628.5 L1035.7,628.6 L1036.4,628.7 L1037.2,628.8 L1038.0,628.9 L1038.7,629.0 L1039.5,629.1 L1040.3,629.1 L1041.1,629.2 L1041.8,629.3 L1042.6,629.4 L1043.4,629.5 L1044.1,629.5 L1044.9,629.6 L1045.7,629.7 L1046.4,629.8 L1047.2,629.8 L1048.0,629.9 L1048.8,630.0 L1049.5,630.0 L1050.3,630.1 L1051.1,630.2 L1051.8,630.2 L1052.6,630.3 L1053.4,630.4 L1054.1,630.4 L1054.9,630.5 L1055.7,630.6 L1056.4,630.6 L1057.2,630.7 L1058.0,630.7 L1058.8,630.8 L1059.5,630.9 L1060.3,630.9 L1061.1,631.0 L1061.8,631.0 L1062.6,631.1 L1063.4,631.2 L1064.1,631.2 L1064.9,631.3 L1065.7,631.3 L1066.5,631.4 L1067.2,631.4 L1068.0,631.5 L1068.8,631.6 L1069.5,631.6 L1070.3,631.7 L1071.1,631.7 L1071.8,631.8 L1072.6,631.8 L1073.4,631.9 L1074.1,631.9 L1074.9,632.0 L1075.7,632.0 L1076.5,632.1 L1077.2,632.1 L1078.0,632.2 L1078.8,632.2 L1079.5,632.3 L1080.3,632.3 L1081.1,632.4 L1081.8,632.4 L1082.6,632.4 L1083.4,632.5 L1084.2,632.5 L1084.9,632.6 L1085.7,632.6 L1086.5,632.7 L1087.2,632.7 L1088.0,632.7 L1088.8,632.8 L1089.5,632.8 L1090.3,632.9 L1091.1,632.9 L1091.8,632.9 L1092.6,633.0 L1093.4,633.0 L1094.2,633.0 L1094.9,633.1 L1095.7,633.1 L1096.5,633.1 L1097.2,633.2 L1098.0,633.2 L1098.8,633.2 L1099.5,633.3 L1100.3,633.3 L1101.1,633.3 L1101.9,633.4 L1102.6,633.4 L1103.4,633.4 L1104.2,633.5 L1104.9,633.5 L1105.7,633.5 L1106.5,633.5 L1107.2,633.6 L1108.0,633.6 L1108.8,633.6 L1109.5,633.7 L1110.3,633.7 L1111.1,633.7 L1111.9,633.7 L1112.6,633.8 L1113.4,633.8 L1114.2,633.8 L1114.9,633.9 L1115.7,633.9 L1116.5,633.9 L1117.2,633.9 L1118.0,634.0 L1118.8,634.0 L1119.6,634.0 L1120.3,634.0 L1121.1,634.1 L1121.9,634.1 L1122.6,634.1 L1123.4,634.1 L1124.2,634.1 L1124.9,634.2 L1125.7,634.2 L1126.5,634.2 L1127.2,634.2 L1128.0,634.2 L1128.8,634.3 L1129.6,634.3 L1130.3,634.3 L1131.1,634.3 L1131.9,634.3 L1132.6,634.3 L1133.4,634.4 L1134.2,634.4 L1134.9,634.4 L1135.7,634.4 L1136.5,634.4 L1137.3,634.4 L1138.0,634.4 L1138.8,634.4 L1139.6,634.4 L1140.3,634.5 L1141.1,634.5 L1141.9,634.5 L1142.6,634.5 L1143.4,634.5 L1144.2,634.5 L1145.0,634.5 L1145.7,634.5 L1146.5,634.5 L1147.3,634.5 L1148.0,634.5 L1148.8,634.5 L1149.6,634.5 L1150.3,634.5 L1151.1,634.6 L1151.9,634.6 L1152.6,634.6 L1153.4,634.6 L1154.2,634.6 L1155.0,634.6 L1155.7,634.6 L1156.5,634.6 L1157.3,634.6 L1158.0,634.6 L1158.8,634.6 L1159.6,634.6 L1160.3,634.6 L1161.1,634.6 L1161.9,634.6 L1162.7,634.6 L1163.4,634.6 L1164.2,634.6 L1165.0,634.6 L1165.7,634.7 L1166.5,634.7 L1167.3,634.7 L1168.0,634.7 L1168.8,634.7 L1169.6,634.7 L1170.3,634.7 L1171.1,634.7 L1171.9,634.7 L1172.7,634.7 L1173.4,634.7 L1174.2,634.7 L1175.0,634.7 L1175.7,634.7 L1176.5,634.7 L1177.3,634.7 L1178.0,634.7 L1178.8,634.7 L1179.6,634.7 L1180.4,634.7 L1181.1,634.7 L1181.9,634.7 L1182.7,634.7 L1183.4,634.7 L1184.2,634.7 L1185.0,634.7 L1185.7,634.7 L1186.5,634.7 L1187.3,634.7 L1188.0,634.7 L1188.8,634.7 L1189.6,634.6 L1190.4,634.6 L1191.1,634.6 L1191.9,634.6 L1192.7,634.6 L1193.4,634.6 L1194.2,634.6 L1195.0,634.6 L1195.7,634.6 L1196.5,634.6 L1197.3,634.6 L1198.1,634.6 L1198.8,634.5 L1199.6,634.5 L1200.4,634.5 L1201.1,634.5 L1201.9,634.5 L1202.7,634.5 L1203.4,634.5 L1204.2,634.5 L1205.0,634.4 L1205.7,634.4 L1206.5,634.4 L1207.3,634.4 L1208.1,634.4 L1208.8,634.4 L1209.6,634.4 L1210.4,634.4 L1211.1,634.3 L1211.9,634.3 L1212.7,634.3 L1213.4,634.3 L1214.2,634.3 L1215.0,634.3 L1215.8,634.2 L1216.5,634.2 L1217.3,634.2 L1218.1,634.2 L1218.8,634.2 L1219.6,634.2 L1220.4,634.2 L1221.1,634.1 L1221.9,634.1 L1222.7,634.1 L1223.4,634.1 L1224.2,634.1 L1225.0,634.1 L1225.8,634.0 L1226.5,634.0 L1227.3,634.0 L1228.1,634.0 L1228.8,634.0 L1229.6,634.0 L1230.4,633.9 L1231.1,633.9 L1231.9,633.9 L1232.7,633.9 L1233.5,633.9 L1234.2,633.9 L1235.0,633.8 L1235.8,633.8 L1236.5,633.8 L1237.3,633.8 L1238.1,633.7 L1238.8,633.7 L1239.6,633.7 L1240.4,633.7 L1241.2,633.7 L1241.9,633.6 L1242.7,633.6 L1243.5,633.6 L1244.2,633.6 L1245.0,633.5 L1245.8,633.5 L1246.5,633.5 L1247.3,633.5 L1248.1,633.4 L1248.8,633.4 L1249.6,633.4 L1250.4,633.4 L1251.2,633.3 L1251.9,633.3 L1252.7,633.3 L1253.5,633.2 L1254.2,633.2 L1255.0,633.2 L1255.8,633.2 L1256.5,633.1 L1257.3,633.1 L1258.1,633.1 L1258.9,633.0 L1259.6,633.0 L1260.4,633.0 L1261.2,632.9 L1261.9,632.9 L1262.7,632.9 L1263.5,632.8 L1264.2,632.8 L1265.0,632.8 L1265.8,632.7 L1266.5,632.7 L1267.3,632.7 L1268.1,632.7 L1268.9,632.6 L1269.6,632.6 L1270.4,632.6 L1271.2,632.5 L1271.9,632.5 L1272.7,632.5 L1273.5,632.4 L1274.2,632.4 L1275.0,632.4 L1275.8,632.3 L1276.6,632.3 L1277.3,632.3 L1278.1,632.2 L1278.9,632.2 L1279.6,632.1 L1280.4,632.1 L1281.2,632.1 L1281.9,632.0 L1282.7,632.0 L1283.5,632.0 L1284.2,631.9 L1285.0,631.9 L1285.8,631.9 L1286.6,631.8 L1287.3,631.8 L1288.1,631.7 L1288.9,631.7 L1289.6,631.7 L1290.4,631.6 L1291.2,631.6 L1291.9,631.5 L1292.7,631.5 L1293.5,631.5 L1294.3,631.4 L1295.0,631.4 L1295.8,631.3 L1296.6,631.3 L1297.3,631.2 L1298.1,631.2 L1298.9,631.1 L1299.6,631.1 L1300.4,631.1 L1301.2,631.0 L1301.9,631.0 L1302.7,630.9 L1303.5,630.9 L1304.3,630.8 L1305.0,630.8 L1305.8,630.7 L1306.6,630.7 L1307.3,630.6 L1308.1,630.6 L1308.9,630.5 L1309.6,630.5 L1310.4,630.4 L1311.2,630.4 L1312.0,630.3 L1312.7,630.3 L1313.5,630.2 L1314.3,630.2 L1315.0,630.1 L1315.8,630.1 L1316.6,630.0 L1317.3,630.0 L1318.1,629.9 L1318.9,629.9 L1319.6,629.9 L1320.4,629.8 L1321.2,629.8 L1322.0,629.7 L1322.7,629.7 L1323.5,629.6 L1324.3,629.6 L1325.0,629.5 L1325.8,629.5 L1326.6,629.4 L1327.3,629.4 L1328.1,629.3 L1328.9,629.3 L1329.7,629.2 L1330.4,629.2 L1331.2,629.1 L1332.0,629.1 L1332.7,629.1 L1333.5,629.0 L1334.3,629.0 L1335.0,628.9 L1335.8,628.9 L1336.6,628.8 L1337.4,628.8 L1338.1,628.7 L1338.9,628.7 L1339.7,628.7 L1340.4,628.6 L1341.2,628.6 L1342.0,628.5 L1342.7,628.5 L1343.5,628.4 L1344.3,628.4 L1345.0,628.3 L1345.8,628.3 L1346.6,628.3 L1347.4,628.2 L1348.1,628.2 L1348.9,628.1 L1349.7,628.1 L1350.4,628.0 L1351.2,628.0 L1352.0,628.0 L1352.7,627.9 L1353.5,627.9 L1354.3,627.8 L1355.1,627.8 L1355.8,627.7 L1356.6,627.7 L1357.4,627.6 L1358.1,627.6 L1358.9,627.6 L1359.7,627.5 L1360.4,627.5 L1361.2,627.4 L1362.0,627.4 L1362.7,627.3 L1363.5,627.3 L1364.3,627.3 L1365.1,627.2 L1365.8,627.2 L1366.6,627.1 L1367.4,627.1 L1368.1,627.0 L1368.9,627.0 L1369.7,627.0 L1370.4,626.9 L1371.2,626.9 L1372.0,626.8 L1372.8,626.8 L1373.5,626.7 L1374.3,626.7 L1375.1,626.7 L1375.8,626.6 L1376.6,626.6 L1377.4,626.5 L1378.1,626.5 L1378.9,626.4 L1379.7,626.4 L1380.4,626.4 L1381.2,626.3 L1382.0,626.3 L1382.8,626.2 L1383.5,626.2 L1384.3,626.2 L1385.1,626.1 L1385.8,626.1 L1386.6,626.0 L1387.4,626.0 L1388.1,625.9 L1388.9,625.9 L1389.7,625.9 L1390.5,625.8 L1391.2,625.8 L1392.0,625.7 L1392.8,625.7 L1393.5,625.7 L1394.3,625.6 L1395.1,625.6 L1395.8,625.5 L1396.6,625.5 L1397.4,625.5 L1398.1,625.4 L1398.9,625.4 L1399.7,625.4 L1400.5,625.3 L1401.2,625.3 L1402.0,625.2 L1402.8,625.2 L1403.5,625.2 L1404.3,625.1 L1405.1,625.1 L1405.8,625.0 L1406.6,625.0 L1407.4,625.0 L1408.2,624.9 L1408.9,624.9 L1409.7,624.8 L1410.5,624.8 L1411.2,624.8 L1412.0,624.7 L1412.8,624.7 L1413.5,624.7 L1414.3,624.6 L1415.1,624.6 L1415.8,624.5 L1416.6,624.5 L1417.4,624.5 L1418.2,624.4 L1418.9,624.4 L1419.7,624.4 L1420.5,624.3 L1421.2,624.3 L1422.0,624.2 L1422.8,624.2 L1423.5,624.2 L1424.3,624.1 L1425.1,624.1 L1425.9,624.0 L1426.6,624.0 L1427.4,624.0 L1428.2,623.9 L1428.9,623.9 L1429.7,623.9 L1430.5,623.8 L1431.2,623.8 L1432.0,623.8 L1432.8,623.7 L1433.6,623.7 L1434.3,623.6 L1435.1,623.6 L1435.9,623.6 L1436.6,623.5 L1437.4,623.5 L1438.2,623.5 L1438.9,623.4 L1439.7,623.4 L1440.5,623.4 L1441.2,623.3 L1442.0,623.3 L1442.8,623.2 L1443.6,623.2 L1444.3,623.2 L1445.1,623.1 L1445.9,623.1 L1446.6,623.1 L1447.4,623.0 L1448.2,623.0 L1448.9,623.0 L1449.7,622.9 L1450.5,622.9 L1451.3,622.9 L1452.0,622.8 L1452.8,622.8 L1453.6,622.7 L1454.3,622.7 L1455.1,622.7 L1455.9,622.6 L1456.6,622.6 L1457.4,622.6 L1458.2,622.5 L1458.9,622.5 L1459.7,622.5 L1460.5,622.4 L1461.3,622.4 L1462.0,622.4 L1462.8,622.3 L1463.6,622.3 L1464.3,622.3 L1465.1,622.2 L1465.9,622.2 L1466.6,622.2 L1467.4,622.1 L1468.2,622.1 L1469.0,622.1 L1469.7,622.0 L1470.5,622.0 L1471.3,622.0 L1472.0,621.9 L1472.8,621.9" fill="none" stroke="#0000ff" stroke-width="2.8"/>
<path d="M885.8,641.9 L886.1,641.9 L886.4,641.9 L886.7,641.9 L887.1,641.9 L887.4,641.9 L887.7,641.9 L888.0,641.9 L888.3,641.9 L888.6,641.9 L889.0,641.9 L889.3,641.9 L889.6,641.9 L889.9,641.9 L890.2,641.9 L890.5,641.9 L890.9,641.9 L891.2,641.9 L891.5,641.9 L891.8,641.9 L892.1,641.9 L892.4,641.9 L892.7,641.9 L893.1,641.9 L893.4,641.9 L893.7,641.9 L894.0,641.9 L894.3,641.9 L894.6,641.8 L895.0,641.8 L895.3,641.8 L895.6,641.8 L895.9,641.8 L896.2,641.8 L896.5,641.8 L896.9,641.8 L897.2,641.8 L897.5,641.8 L897.8,641.8 L898.1,641.8 L898.4,641.8 L898.7,641.8 L899.1,641.8 L899.4,641.8 L899.7,641.8 L900.0,641.8 L900.3,641.8 L900.6,641.8 L901.0,641.8 L901.3,641.8 L901.6,641.7 L901.9,641.7 L902.2,641.7 L902.5,641.7 L902.9,641.7 L903.2,641.7 L903.5,641.7 L903.8,641.7 L904.1,641.7 L904.4,641.7 L904.7,641.7 L905.1,641.7 L905.4,641.7 L905.7,641.7 L906.0,641.6 L906.3,641.6 L906.6,641.6 L907.0,641.6 L907.3,641.6 L907.6,641.6 L907.9,641.6 L908.2,641.5 L908.5,641.5 L908.9,641.5 L909.2,641.5 L909.5,641.5 L909.8,641.4 L910.1,641.4 L910.4,641.4 L910.7,641.3 L911.1,641.3 L911.4,641.3 L911.7,641.3 L912.0,641.2 L912.3,641.2 L912.6,641.2 L913.0,641.1 L913.3,641.1 L913.6,641.1 L913.9,641.0 L914.2,641.0 L914.5,640.9 L914.9,640.9 L915.2,640.9 L915.5,640.8 L915.8,640.8 L916.1,640.8 L916.4,640.7 L916.7,640.7 L917.1,640.6 L917.4,640.6 L917.7,640.6 L918.0,640.5 L918.3,640.5 L918.6,640.4 L919.0,640.4 L919.3,640.3 L919.6,640.3 L919.9,640.2 L920.2,640.2 L920.5,640.1 L920.9,640.1 L921.2,640.0 L921.5,640.0 L921.8,639.9 L922.1,639.9 L922.4,639.8 L922.8,639.7 L923.1,639.7 L923.4,639.6 L923.7,639.5 L924.0,639.5 L924.3,639.4 L924.6,639.3 L925.0,639.3 L925.3,639.2 L925.6,639.1 L925.9,639.1 L926.2,639.0 L926.5,638.9 L926.9,638.8 L927.2,638.7 L927.5,638.7 L927.8,638.6 L928.1,638.5 L928.4,638.4 L928.8,638.3 L929.1,638.3 L929.4,638.2 L929.7,638.1 L930.0,638.0 L930.3,637.9 L930.6,637.8 L931.0,637.7 L931.3,637.6 L931.6,637.5 L931.9,637.5 L932.2,637.4 L932.5,637.3 L932.9,637.2 L933.2,637.1 L933.5,637.0 L933.8,636.9 L934.1,636.8 L934.4,636.7 L934.8,636.6 L935.1,636.5 L935.4,636.4 L935.7,636.3 L936.0,636.2 L936.3,636.1 L936.6,636.0 L937.0,635.9 L937.3,635.8 L937.6,635.7 L937.9,635.6 L938.2,635.5 L938.5,635.3 L938.9,635.2 L939.2,635.1 L939.5,635.0 L939.8,634.9 L940.1,634.8 L940.4,634.6 L940.8,634.5 L941.1,634.4 L941.4,634.2 L941.7,634.1 L942.0,634.0 L942.3,633.8 L942.6,633.7 L943.0,633.6 L943.3,633.4 L943.6,633.3 L943.9,633.1 L944.2,633.0 L944.5,632.8 L944.9,632.7 L945.2,632.5 L945.5,632.4 L945.8,632.2 L946.1,632.1 L946.4,631.9 L946.8,631.8 L947.1,631.6 L947.4,631.5 L947.7,631.3 L948.0,631.1 L948.3,631.0 L948.6,630.8 L949.0,630.6 L949.3,630.5 L949.6,630.3 L949.9,630.1 L950.2,629.9 L950.5,629.8 L950.9,629.6 L951.2,629.4 L951.5,629.2 L951.8,629.1 L952.1,628.9 L952.4,628.7 L952.8,628.5 L953.1,628.3 L953.4,628.1 L953.7,628.0 L954.0,627.8 L954.3,627.6 L954.6,627.4 L955.0,627.2 L955.3,627.0 L955.6,626.8 L955.9,626.6 L956.2,626.4 L956.5,626.2 L956.9,626.0 L957.2,625.8 L957.5,625.6 L957.8,625.4 L958.1,625.2 L958.4,625.0 L958.8,624.8 L959.1,624.6 L959.4,624.4 L959.7,624.2 L960.0,624.0 L960.3,623.8 L960.6,623.6 L961.0,623.3 L961.3,623.1 L961.6,622.9 L961.9,622.7 L962.2,622.4 L962.5,622.2 L962.9,622.0 L963.2,621.7 L963.5,621.5 L963.8,621.3 L964.1,621.0 L964.4,620.8 L964.8,620.5 L965.1,620.3 L965.4,620.1 L965.7,619.8 L966.0,619.5 L966.3,619.3 L966.6,619.0 L967.0,618.8 L967.3,618.5 L967.6,618.2 L967.9,618.0 L968.2,617.7 L968.5,617.4 L968.9,617.2 L969.2,616.9 L969.5,616.6 L969.8,616.3 L970.1,616.0 L970.4,615.7 L970.8,615.4 L971.1,615.1 L971.4,614.8 L971.7,614.5 L972.0,614.2 L972.3,613.9 L972.6,613.6 L973.0,613.3 L973.3,613.0 L973.6,612.7 L973.9,612.4 L974.2,612.0 L974.5,611.7 L974.9,611.4 L975.2,611.0 L975.5,610.7 L975.8,610.3 L976.1,610.0 L976.4,609.6 L976.8,609.3 L977.1,608.9 L977.4,608.5 L977.7,608.1 L978.0,607.7 L978.3,607.3 L978.6,606.9 L979.0,606.5 L979.3,606.1 L979.6,605.7 L979.9,605.2 L980.2,604.8 L980.5,604.3 L980.9,603.9 L981.2,603.4 L981.5,603.0 L981.8,602.5 L982.1,602.0 L982.4,601.6 L982.8,601.1 L983.1,600.6 L983.4,600.1 L983.7,599.6 L984.0,599.1 L984.3,598.6 L984.6,598.0 L985.0,597.5 L985.3,597.0 L985.6,596.5 L985.9,595.9 L986.2,595.4 L986.5,594.8 L986.9,594.3 L987.2,593.7 L987.5,593.1 L987.8,592.6 L988.1,592.0 L988.4,591.4 L988.8,590.8 L989.1,590.2 L989.4,589.6 L989.7,588.9 L990.0,588.3 L990.3,587.6 L990.6,587.0 L991.0,586.3 L991.3,585.6 L991.6,584.8 L991.9,584.1 L992.2,583.3 L992.5,582.5 L992.9,581.7 L993.2,580.9 L993.5,580.1 L993.8,579.2 L994.1,578.3 L994.4,577.3 L994.8,576.3 L995.1,575.2 L995.4,574.1 L995.7,572.9 L996.0,571.7 L996.3,570.5 L996.7,569.2 L997.0,567.9 L997.3,566.6 L997.6,565.3 L997.9,564.0 L998.2,562.7 L998.5,561.4 L998.9,560.2 L999.2,558.9 L999.5,557.7 L999.8,556.5 L1000.1,555.3 L1000.4,554.1 L1000.8,552.9 L1001.1,551.7 L1001.4,550.5 L1001.7,549.1 L1002.0,547.8 L1002.3,546.3 L1002.7,544.8 L1003.0,543.1 L1003.3,541.4 L1003.6,539.5 L1003.9,537.4 L1004.2,535.1 L1004.5,532.7 L1004.9,530.2 L1005.2,527.5 L1005.5,524.7 L1005.8,521.7 L1006.1,518.7 L1006.4,515.6 L1006.8,512.5 L1007.1,509.3 L1007.4,506.0 L1007.7,502.5 L1008.0,498.8 L1008.3,494.8 L1008.7,490.5 L1009.0,485.8 L1009.3,480.7 L1009.6,475.1 L1009.9,469.0 L1010.2,461.2 L1010.5,451.6 L1010.9,440.6 L1011.2,428.4 L1011.5,415.6 L1011.8,402.3 L1012.6,504.4 L1013.3,546.6 L1014.1,567.8 L1014.9,577.6 L1015.7,583.8 L1016.4,588.4 L1017.2,592.2 L1018.0,595.9 L1018.7,599.3 L1019.5,602.2 L1020.3,604.4 L1021.0,606.1 L1021.8,607.7 L1022.6,609.0 L1023.4,610.3 L1024.1,611.3 L1024.9,612.3 L1025.7,613.3 L1026.4,614.1 L1027.2,614.9 L1028.0,615.7 L1028.7,616.4 L1029.5,617.1 L1030.3,617.7 L1031.0,618.4 L1031.8,619.0 L1032.6,619.6 L1033.4,620.2 L1034.1,620.8 L1034.9,621.4 L1035.7,622.0 L1036.4,622.6 L1037.2,623.1 L1038.0,623.7 L1038.7,624.2 L1039.5,624.7 L1040.3,625.2 L1041.1,625.7 L1041.8,626.2 L1042.6,626.6 L1043.4,627.0 L1044.1,627.4 L1044.9,627.8 L1045.7,628.1 L1046.4,628.5 L1047.2,628.8 L1048.0,629.1 L1048.8,629.5 L1049.5,629.8 L1050.3,630.1 L1051.1,630.4 L1051.8,630.7 L1052.6,631.0 L1053.4,631.3 L1054.1,631.5 L1054.9,631.8 L1055.7,632.0 L1056.4,632.3 L1057.2,632.5 L1058.0,632.7 L1058.8,633.0 L1059.5,633.2 L1060.3,633.4 L1061.1,633.6 L1061.8,633.7 L1062.6,633.9 L1063.4,634.1 L1064.1,634.3 L1064.9,634.4 L1065.7,634.6 L1066.5,634.7 L1067.2,634.9 L1068.0,635.0 L1068.8,635.2 L1069.5,635.3 L1070.3,635.5 L1071.1,635.6 L1071.8,635.7 L1072.6,635.9 L1073.4,636.0 L1074.1,636.1 L1074.9,636.2 L1075.7,636.3 L1076.5,636.4 L1077.2,636.5 L1078.0,636.6 L1078.8,636.7 L1079.5,636.8 L1080.3,636.9 L1081.1,637.0 L1081.8,637.1 L1082.6,637.1 L1083.4,637.2 L1084.2,637.3 L1084.9,637.3 L1085.7,637.4 L1086.5,637.4 L1087.2,637.5 L1088.0,637.6 L1088.8,637.6 L1089.5,637.7 L1090.3,637.7 L1091.1,637.8 L1091.8,637.8 L1092.6,637.9 L1093.4,637.9 L1094.2,638.0 L1094.9,638.0 L1095.7,638.1 L1096.5,638.1 L1097.2,638.1 L1098.0,638.2 L1098.8,638.2 L1099.5,638.3 L1100.3,638.3 L1101.1,638.3 L1101.9,638.4 L1102.6,638.4 L1103.4,638.5 L1104.2,638.5 L1104.9,638.5 L1105.7,638.6 L1106.5,638.6 L1107.2,638.7 L1108.0,638.7 L1108.8,638.7 L1109.5,638.8 L1110.3,638.8 L1111.1,638.9 L1111.9,638.9 L1112.6,638.9 L1113.4,639.0 L1114.2,639.0 L1114.9,639.0 L1115.7,639.1 L1116.5,639.1 L1117.2,639.2 L1118.0,639.2 L1118.8,639.2 L1119.6,639.3 L1120.3,639.3 L1121.1,639.3 L1121.9,639.4 L1122.6,639.4 L1123.4,639.4 L1124.2,639.5 L1124.9,639.5 L1125.7,639.5 L1126.5,639.6 L1127.2,639.6 L1128.0,639.6 L1128.8,639.7 L1129.6,639.7 L1130.3,639.7 L1131.1,639.8 L1131.9,639.8 L1132.6,639.8 L1133.4,639.8 L1134.2,639.9 L1134.9,639.9 L1135.7,639.9 L1136.5,639.9 L1137.3,640.0 L1138.0,640.0 L1138.8,640.0 L1139.6,640.0 L1140.3,640.0 L1141.1,640.1 L1141.9,640.1 L1142.6,640.1 L1143.4,640.1 L1144.2,640.1 L1145.0,640.2 L1145.7,640.2 L1146.5,640.2 L1147.3,640.2 L1148.0,640.2 L1148.8,640.2 L1149.6,640.3 L1150.3,640.3 L1151.1,640.3 L1151.9,640.3 L1152.6,640.3 L1153.4,640.3 L1154.2,640.4 L1155.0,640.4 L1155.7,640.4 L1156.5,640.4 L1157.3,640.4 L1158.0,640.4 L1158.8,640.5 L1159.6,640.5 L1160.3,640.5 L1161.1,640.5 L1161.9,640.5 L1162.7,640.5 L1163.4,640.6 L1164.2,640.6 L1165.0,640.6 L1165.7,640.6 L1166.5,640.6 L1167.3,640.6 L1168.0,640.6 L1168.8,640.7 L1169.6,640.7 L1170.3,640.7 L1171.1,640.7 L1171.9,640.7 L1172.7,640.7 L1173.4,640.7 L1174.2,640.8 L1175.0,640.8 L1175.7,640.8 L1176.5,640.8 L1177.3,640.8 L1178.0,640.8 L1178.8,640.8 L1179.6,640.8 L1180.4,640.9 L1181.1,640.9 L1181.9,640.9 L1182.7,640.9 L1183.4,640.9 L1184.2,640.9 L1185.0,640.9 L1185.7,640.9 L1186.5,641.0 L1187.3,641.0 L1188.0,641.0 L1188.8,641.0 L1189.6,641.0 L1190.4,641.0 L1191.1,641.0 L1191.9,641.0 L1192.7,641.0 L1193.4,641.0 L1194.2,641.1 L1195.0,641.1 L1195.7,641.1 L1196.5,641.1 L1197.3,641.1 L1198.1,641.1 L1198.8,641.1 L1199.6,641.1 L1200.4,641.1 L1201.1,641.1 L1201.9,641.1 L1202.7,641.2 L1203.4,641.2 L1204.2,641.2 L1205.0,641.2 L1205.7,641.2 L1206.5,641.2 L1207.3,641.2 L1208.1,641.2 L1208.8,641.2 L1209.6,641.2 L1210.4,641.2 L1211.1,641.2 L1211.9,641.2 L1212.7,641.3 L1213.4,641.3 L1214.2,641.3 L1215.0,641.3 L1215.8,641.3 L1216.5,641.3 L1217.3,641.3 L1218.1,641.3 L1218.8,641.3 L1219.6,641.3 L1220.4,641.3 L1221.1,641.3 L1221.9,641.3 L1222.7,641.3 L1223.4,641.3 L1224.2,641.3 L1225.0,641.3 L1225.8,641.3 L1226.5,641.3 L1227.3,641.4 L1228.1,641.4 L1228.8,641.4 L1229.6,641.4 L1230.4,641.4 L1231.1,641.4 L1231.9,641.4 L1232.7,641.4 L1233.5,641.4 L1234.2,641.4 L1235.0,641.4 L1235.8,641.4 L1236.5,641.4 L1237.3,641.4 L1238.1,641.4 L1238.8,641.4 L1239.6,641.4 L1240.4,641.4 L1241.2,641.4 L1241.9,641.4 L1242.7,641.4 L1243.5,641.4 L1244.2,641.5 L1245.0,641.5 L1245.8,641.5 L1246.5,641.5 L1247.3,641.5 L1248.1,641.5 L1248.8,641.5 L1249.6,641.5 L1250.4,641.5 L1251.2,641.5 L1251.9,641.5 L1252.7,641.5 L1253.5,641.5 L1254.2,641.5 L1255.0,641.5 L1255.8,641.5 L1256.5,641.5 L1257.3,641.5 L1258.1,641.5 L1258.9,641.5 L1259.6,641.5 L1260.4,641.5 L1261.2,641.5 L1261.9,641.5 L1262.7,641.5 L1263.5,641.5 L1264.2,641.6 L1265.0,641.6 L1265.8,641.6 L1266.5,641.6 L1267.3,641.6 L1268.1,641.6 L1268.9,641.6 L1269.6,641.6 L1270.4,641.6 L1271.2,641.6 L1271.9,641.6 L1272.7,641.6 L1273.5,641.6 L1274.2,641.6 L1275.0,641.6 L1275.8,641.6 L1276.6,641.6 L1277.3,641.6 L1278.1,641.6 L1278.9,641.6 L1279.6,641.6 L1280.4,641.6 L1281.2,641.6 L1281.9,641.6 L1282.7,641.6 L1283.5,641.6 L1284.2,641.6 L1285.0,641.6 L1285.8,641.6 L1286.6,641.6 L1287.3,641.6 L1288.1,641.6 L1288.9,641.6 L1289.6,641.6 L1290.4,641.6 L1291.2,641.7 L1291.9,641.7 L1292.7,641.7 L1293.5,641.7 L1294.3,641.7 L1295.0,641.7 L1295.8,641.7 L1296.6,641.7 L1297.3,641.7 L1298.1,641.7 L1298.9,641.7 L1299.6,641.7 L1300.4,641.7 L1301.2,641.7 L1301.9,641.7 L1302.7,641.7 L1303.5,641.7 L1304.3,641.7 L1305.0,641.7 L1305.8,641.7 L1306.6,641.7 L1307.3,641.7 L1308.1,641.7 L1308.9,641.7 L1309.6,641.7 L1310.4,641.7 L1311.2,641.7 L1312.0,641.7 L1312.7,641.7 L1313.5,641.7 L1314.3,641.7 L1315.0,641.7 L1315.8,641.7 L1316.6,641.7 L1317.3,641.7 L1318.1,641.7 L1318.9,641.7 L1319.6,641.7 L1320.4,641.7 L1321.2,641.7 L1322.0,641.7 L1322.7,641.7 L1323.5,641.7 L1324.3,641.7 L1325.0,641.7 L1325.8,641.7 L1326.6,641.7 L1327.3,641.7 L1328.1,641.7 L1328.9,641.7 L1329.7,641.7 L1330.4,641.7 L1331.2,641.7 L1332.0,641.7 L1332.7,641.7 L1333.5,641.7 L1334.3,641.7 L1335.0,641.7 L1335.8,641.8 L1336.6,641.8 L1337.4,641.8 L1338.1,641.8 L1338.9,641.8 L1339.7,641.8 L1340.4,641.8 L1341.2,641.8 L1342.0,641.8 L1342.7,641.8 L1343.5,641.8 L1344.3,641.8 L1345.0,641.8 L1345.8,641.8 L1346.6,641.8 L1347.4,641.8 L1348.1,641.8 L1348.9,641.8 L1349.7,641.8 L1350.4,641.8 L1351.2,641.8 L1352.0,641.8 L1352.7,641.8 L1353.5,641.8 L1354.3,641.8 L1355.1,641.8 L1355.8,641.8 L1356.6,641.8 L1357.4,641.8 L1358.1,641.8 L1358.9,641.8 L1359.7,641.8 L1360.4,641.8 L1361.2,641.8 L1362.0,641.8 L1362.7,641.8 L1363.5,641.8 L1364.3,641.8 L1365.1,641.8 L1365.8,641.8 L1366.6,641.8 L1367.4,641.8 L1368.1,641.8 L1368.9,641.8 L1369.7,641.8 L1370.4,641.8 L1371.2,641.8 L1372.0,641.8 L1372.8,641.8 L1373.5,641.8 L1374.3,641.8 L1375.1,641.8 L1375.8,641.8 L1376.6,641.8 L1377.4,641.8 L1378.1,641.8 L1378.9,641.8 L1379.7,641.8 L1380.4,641.8 L1381.2,641.8 L1382.0,641.8 L1382.8,641.8 L1383.5,641.8 L1384.3,641.8 L1385.1,641.8 L1385.8,641.8 L1386.6,641.8 L1387.4,641.8 L1388.1,641.8 L1388.9,641.8 L1389.7,641.8 L1390.5,641.8 L1391.2,641.8 L1392.0,641.8 L1392.8,641.8 L1393.5,641.8 L1394.3,641.8 L1395.1,641.8 L1395.8,641.8 L1396.6,641.8 L1397.4,641.8 L1398.1,641.8 L1398.9,641.9 L1399.7,641.9 L1400.5,641.9 L1401.2,641.9 L1402.0,641.9 L1402.8,641.9 L1403.5,641.9 L1404.3,641.9 L1405.1,641.9 L1405.8,641.9 L1406.6,641.9 L1407.4,641.9 L1408.2,641.9 L1408.9,641.9 L1409.7,641.9 L1410.5,641.9 L1411.2,641.9 L1412.0,641.9 L1412.8,641.9 L1413.5,641.9 L1414.3,641.9 L1415.1,641.9 L1415.8,641.9 L1416.6,641.9 L1417.4,641.9 L1418.2,641.9 L1418.9,641.9 L1419.7,641.9 L1420.5,641.9 L1421.2,641.9 L1422.0,641.9 L1422.8,641.9 L1423.5,641.9 L1424.3,641.9 L1425.1,641.9 L1425.9,641.9 L1426.6,641.9 L1427.4,641.9 L1428.2,641.9 L1428.9,641.9 L1429.7,641.9 L1430.5,641.9 L1431.2,641.9 L1432.0,641.9 L1432.8,641.9 L1433.6,641.9 L1434.3,641.9 L1435.1,641.9 L1435.9,641.9 L1436.6,641.9 L1437.4,641.9 L1438.2,641.9 L1438.9,641.9 L1439.7,641.9 L1440.5,641.9 L1441.2,641.9 L1442.0,641.9 L1442.8,641.9 L1443.6,641.9 L1444.3,641.9 L1445.1,641.9 L1445.9,641.9 L1446.6,641.9 L1447.4,641.9 L1448.2,641.9 L1448.9,641.9 L1449.7,641.9 L1450.5,641.9 L1451.3,641.9 L1452.0,641.9 L1452.8,641.9 L1453.6,641.9 L1454.3,641.9 L1455.1,641.9 L1455.9,641.9 L1456.6,641.9 L1457.4,641.9 L1458.2,641.9 L1458.9,641.9 L1459.7,641.9 L1460.5,641.9 L1461.3,641.9 L1462.0,641.9 L1462.8,641.9 L1463.6,641.9 L1464.3,641.9 L1465.1,641.9 L1465.9,641.9 L1466.6,641.9 L1467.4,641.9 L1468.2,641.9 L1469.0,641.9 L1469.7,641.9 L1470.5,641.9 L1471.3,641.9 L1472.0,641.9 L1472.8,641.9" fill="none" stroke="#006400" stroke-width="2.6"/>
<path d="M885.8,641.9 L886.1,641.9 L886.4,641.9 L886.7,641.9 L887.1,641.9 L887.4,641.9 L887.7,641.9 L888.0,641.9 L888.3,641.9 L888.6,641.9 L889.0,641.9 L889.3,641.9 L889.6,641.9 L889.9,641.9 L890.2,641.9 L890.5,641.9 L890.9,641.9 L891.2,641.9 L891.5,641.9 L891.8,641.9 L892.1,641.9 L892.4,641.9 L892.7,641.9 L893.1,641.9 L893.4,641.9 L893.7,641.9 L894.0,641.9 L894.3,641.9 L894.6,641.9 L895.0,641.9 L895.3,641.9 L895.6,641.9 L895.9,641.9 L896.2,641.9 L896.5,641.9 L896.9,641.9 L897.2,641.9 L897.5,641.9 L897.8,641.9 L898.1,641.9 L898.4,641.9 L898.7,641.9 L899.1,641.9 L899.4,641.9 L899.7,641.9 L900.0,641.9 L900.3,641.9 L900.6,641.9 L901.0,641.9 L901.3,641.9 L901.6,641.9 L901.9,641.9 L902.2,641.9 L902.5,641.9 L902.9,641.9 L903.2,641.9 L903.5,641.9 L903.8,641.9 L904.1,641.9 L904.4,641.9 L904.7,641.9 L905.1,641.9 L905.4,641.9 L905.7,641.9 L906.0,641.9 L906.3,641.9 L906.6,641.9 L907.0,641.9 L907.3,641.9 L907.6,641.9 L907.9,641.9 L908.2,641.9 L908.5,641.9 L908.9,641.9 L909.2,641.9 L909.5,641.9 L909.8,641.9 L910.1,641.9 L910.4,641.9 L910.7,641.9 L911.1,641.9 L911.4,641.9 L911.7,641.9 L912.0,641.9 L912.3,641.9 L912.6,641.9 L913.0,641.9 L913.3,641.9 L913.6,641.9 L913.9,641.9 L914.2,641.9 L914.5,641.9 L914.9,641.9 L915.2,641.9 L915.5,641.9 L915.8,641.9 L916.1,641.9 L916.4,641.9 L916.7,641.9 L917.1,641.9 L917.4,641.9 L917.7,641.9 L918.0,641.9 L918.3,641.9 L918.6,641.9 L919.0,641.9 L919.3,641.9 L919.6,641.9 L919.9,641.9 L920.2,641.9 L920.5,641.9 L920.9,641.9 L921.2,641.9 L921.5,641.9 L921.8,641.9 L922.1,641.9 L922.4,641.9 L922.8,641.9 L923.1,641.9 L923.4,641.9 L923.7,641.9 L924.0,641.9 L924.3,641.9 L924.6,641.9 L925.0,641.9 L925.3,641.9 L925.6,641.9 L925.9,641.9 L926.2,641.9 L926.5,641.9 L926.9,641.9 L927.2,641.9 L927.5,641.9 L927.8,641.9 L928.1,641.9 L928.4,641.9 L928.8,641.9 L929.1,641.9 L929.4,641.9 L929.7,641.9 L930.0,641.9 L930.3,641.9 L930.6,641.9 L931.0,641.9 L931.3,641.9 L931.6,641.9 L931.9,641.9 L932.2,641.9 L932.5,641.9 L932.9,641.9 L933.2,641.9 L933.5,641.9 L933.8,641.9 L934.1,641.9 L934.4,641.9 L934.8,641.9 L935.1,641.9 L935.4,641.9 L935.7,641.9 L936.0,641.9 L936.3,641.9 L936.6,641.9 L937.0,641.9 L937.3,641.9 L937.6,641.9 L937.9,641.9 L938.2,641.9 L938.5,641.9 L938.9,641.9 L939.2,641.9 L939.5,641.9 L939.8,641.9 L940.1,641.9 L940.4,641.9 L940.8,641.9 L941.1,641.9 L941.4,641.9 L941.7,641.9 L942.0,641.9 L942.3,641.9 L942.6,641.9 L943.0,641.9 L943.3,641.9 L943.6,641.9 L943.9,641.9 L944.2,641.9 L944.5,641.9 L944.9,641.9 L945.2,641.9 L945.5,641.9 L945.8,641.9 L946.1,641.9 L946.4,641.9 L946.8,641.9 L947.1,641.9 L947.4,641.9 L947.7,641.9 L948.0,641.9 L948.3,641.9 L948.6,641.9 L949.0,641.9 L949.3,641.9 L949.6,641.9 L949.9,641.9 L950.2,641.9 L950.5,641.9 L950.9,641.9 L951.2,641.9 L951.5,641.9 L951.8,641.9 L952.1,641.9 L952.4,641.9 L952.8,641.9 L953.1,641.9 L953.4,641.9 L953.7,641.9 L954.0,641.9 L954.3,641.9 L954.6,641.9 L955.0,641.9 L955.3,641.9 L955.6,641.9 L955.9,641.9 L956.2,641.9 L956.5,641.9 L956.9,641.9 L957.2,641.9 L957.5,641.9 L957.8,641.9 L958.1,641.9 L958.4,641.9 L958.8,641.9 L959.1,641.9 L959.4,641.9 L959.7,641.9 L960.0,641.9 L960.3,641.9 L960.6,641.9 L961.0,641.9 L961.3,641.9 L961.6,641.9 L961.9,641.9 L962.2,641.9 L962.5,641.9 L962.9,641.9 L963.2,641.9 L963.5,641.9 L963.8,641.9 L964.1,641.9 L964.4,641.9 L964.8,641.9 L965.1,641.9 L965.4,641.9 L965.7,641.9 L966.0,641.9 L966.3,641.9 L966.6,641.9 L967.0,641.9 L967.3,641.9 L967.6,641.9 L967.9,641.9 L968.2,641.9 L968.5,641.9 L968.9,641.9 L969.2,641.9 L969.5,641.9 L969.8,641.9 L970.1,641.9 L970.4,641.9 L970.8,641.9 L971.1,641.9 L971.4,641.9 L971.7,641.9 L972.0,641.9 L972.3,641.9 L972.6,641.9 L973.0,641.9 L973.3,641.9 L973.6,641.9 L973.9,641.8 L974.2,641.8 L974.5,641.8 L974.9,641.8 L975.2,641.8 L975.5,641.8 L975.8,641.8 L976.1,641.8 L976.4,641.8 L976.8,641.8 L977.1,641.8 L977.4,641.8 L977.7,641.8 L978.0,641.8 L978.3,641.8 L978.6,641.8 L979.0,641.8 L979.3,641.8 L979.6,641.8 L979.9,641.8 L980.2,641.8 L980.5,641.8 L980.9,641.8 L981.2,641.8 L981.5,641.8 L981.8,641.8 L982.1,641.8 L982.4,641.8 L982.8,641.8 L983.1,641.8 L983.4,641.8 L983.7,641.8 L984.0,641.8 L984.3,641.8 L984.6,641.8 L985.0,641.8 L985.3,641.8 L985.6,641.8 L985.9,641.8 L986.2,641.8 L986.5,641.8 L986.9,641.8 L987.2,641.8 L987.5,641.8 L987.8,641.8 L988.1,641.8 L988.4,641.8 L988.8,641.8 L989.1,641.8 L989.4,641.8 L989.7,641.8 L990.0,641.8 L990.3,641.8 L990.6,641.8 L991.0,641.8 L991.3,641.8 L991.6,641.8 L991.9,641.8 L992.2,641.8 L992.5,641.8 L992.9,641.8 L993.2,641.8 L993.5,641.8 L993.8,641.8 L994.1,641.8 L994.4,641.8 L994.8,641.8 L995.1,641.8 L995.4,641.8 L995.7,641.8 L996.0,641.8 L996.3,641.8 L996.7,641.8 L997.0,641.8 L997.3,641.8 L997.6,641.8 L997.9,641.8 L998.2,641.8 L998.5,641.8 L998.9,641.8 L999.2,641.8 L999.5,641.8 L999.8,641.8 L1000.1,641.8 L1000.4,641.8 L1000.8,641.8 L1001.1,641.8 L1001.4,641.8 L1001.7,641.8 L1002.0,641.8 L1002.3,641.8 L1002.7,641.8 L1003.0,641.8 L1003.3,641.8 L1003.6,641.8 L1003.9,641.8 L1004.2,641.8 L1004.5,641.8 L1004.9,641.8 L1005.2,641.8 L1005.5,641.8 L1005.8,641.8 L1006.1,641.8 L1006.4,641.8 L1006.8,641.8 L1007.1,641.8 L1007.4,641.8 L1007.7,641.8 L1008.0,641.8 L1008.3,641.8 L1008.7,641.8 L1009.0,641.8 L1009.3,641.8 L1009.6,641.8 L1009.9,641.8 L1010.2,641.8 L1010.5,641.8 L1010.9,641.8 L1011.2,641.8 L1011.5,641.8 L1011.8,641.8 L1012.6,641.8 L1013.3,641.8 L1014.1,641.8 L1014.9,641.8 L1015.7,641.8 L1016.4,641.8 L1017.2,641.8 L1018.0,641.8 L1018.7,641.8 L1019.5,641.8 L1020.3,641.7 L1021.0,641.7 L1021.8,641.7 L1022.6,641.7 L1023.4,641.7 L1024.1,641.7 L1024.9,641.7 L1025.7,641.7 L1026.4,641.7 L1027.2,641.7 L1028.0,641.7 L1028.7,641.7 L1029.5,641.7 L1030.3,641.7 L1031.0,641.7 L1031.8,641.7 L1032.6,641.7 L1033.4,641.7 L1034.1,641.7 L1034.9,641.7 L1035.7,641.7 L1036.4,641.7 L1037.2,641.7 L1038.0,641.7 L1038.7,641.7 L1039.5,641.7 L1040.3,641.7 L1041.1,641.7 L1041.8,641.7 L1042.6,641.7 L1043.4,641.7 L1044.1,641.7 L1044.9,641.7 L1045.7,641.7 L1046.4,641.7 L1047.2,641.7 L1048.0,641.7 L1048.8,641.7 L1049.5,641.6 L1050.3,641.6 L1051.1,641.6 L1051.8,641.6 L1052.6,641.6 L1053.4,641.6 L1054.1,641.6 L1054.9,641.6 L1055.7,641.6 L1056.4,641.6 L1057.2,641.6 L1058.0,641.6 L1058.8,641.6 L1059.5,641.6 L1060.3,641.6 L1061.1,641.6 L1061.8,641.6 L1062.6,641.6 L1063.4,641.6 L1064.1,641.6 L1064.9,641.6 L1065.7,641.6 L1066.5,641.6 L1067.2,641.6 L1068.0,641.6 L1068.8,641.6 L1069.5,641.6 L1070.3,641.6 L1071.1,641.6 L1071.8,641.5 L1072.6,641.5 L1073.4,641.5 L1074.1,641.5 L1074.9,641.5 L1075.7,641.5 L1076.5,641.5 L1077.2,641.5 L1078.0,641.5 L1078.8,641.5 L1079.5,641.5 L1080.3,641.5 L1081.1,641.5 L1081.8,641.5 L1082.6,641.5 L1083.4,641.5 L1084.2,641.5 L1084.9,641.5 L1085.7,641.5 L1086.5,641.5 L1087.2,641.5 L1088.0,641.5 L1088.8,641.5 L1089.5,641.5 L1090.3,641.5 L1091.1,641.4 L1091.8,641.4 L1092.6,641.4 L1093.4,641.4 L1094.2,641.4 L1094.9,641.4 L1095.7,641.4 L1096.5,641.4 L1097.2,641.4 L1098.0,641.4 L1098.8,641.4 L1099.5,641.4 L1100.3,641.4 L1101.1,641.4 L1101.9,641.4 L1102.6,641.4 L1103.4,641.4 L1104.2,641.4 L1104.9,641.4 L1105.7,641.4 L1106.5,641.4 L1107.2,641.3 L1108.0,641.3 L1108.8,641.3 L1109.5,641.3 L1110.3,641.3 L1111.1,641.3 L1111.9,641.3 L1112.6,641.3 L1113.4,641.3 L1114.2,641.3 L1114.9,641.3 L1115.7,641.3 L1116.5,641.3 L1117.2,641.3 L1118.0,641.3 L1118.8,641.3 L1119.6,641.3 L1120.3,641.3 L1121.1,641.3 L1121.9,641.2 L1122.6,641.2 L1123.4,641.2 L1124.2,641.2 L1124.9,641.2 L1125.7,641.2 L1126.5,641.2 L1127.2,641.2 L1128.0,641.2 L1128.8,641.2 L1129.6,641.2 L1130.3,641.2 L1131.1,641.2 L1131.9,641.2 L1132.6,641.2 L1133.4,641.2 L1134.2,641.2 L1134.9,641.1 L1135.7,641.1 L1136.5,641.1 L1137.3,641.1 L1138.0,641.1 L1138.8,641.1 L1139.6,641.1 L1140.3,641.1 L1141.1,641.1 L1141.9,641.1 L1142.6,641.1 L1143.4,641.1 L1144.2,641.1 L1145.0,641.1 L1145.7,641.1 L1146.5,641.1 L1147.3,641.0 L1148.0,641.0 L1148.8,641.0 L1149.6,641.0 L1150.3,641.0 L1151.1,641.0 L1151.9,641.0 L1152.6,641.0 L1153.4,641.0 L1154.2,641.0 L1155.0,641.0 L1155.7,641.0 L1156.5,641.0 L1157.3,641.0 L1158.0,641.0 L1158.8,640.9 L1159.6,640.9 L1160.3,640.9 L1161.1,640.9 L1161.9,640.9 L1162.7,640.9 L1163.4,640.9 L1164.2,640.9 L1165.0,640.9 L1165.7,640.9 L1166.5,640.9 L1167.3,640.9 L1168.0,640.9 L1168.8,640.9 L1169.6,640.8 L1170.3,640.8 L1171.1,640.8 L1171.9,640.8 L1172.7,640.8 L1173.4,640.8 L1174.2,640.8 L1175.0,640.8 L1175.7,640.8 L1176.5,640.8 L1177.3,640.8 L1178.0,640.8 L1178.8,640.8 L1179.6,640.7 L1180.4,640.7 L1181.1,640.7 L1181.9,640.7 L1182.7,640.7 L1183.4,640.7 L1184.2,640.7 L1185.0,640.7 L1185.7,640.7 L1186.5,640.7 L1187.3,640.7 L1188.0,640.7 L1188.8,640.6 L1189.6,640.6 L1190.4,640.6 L1191.1,640.6 L1191.9,640.6 L1192.7,640.6 L1193.4,640.6 L1194.2,640.6 L1195.0,640.6 L1195.7,640.6 L1196.5,640.6 L1197.3,640.6 L1198.1,640.5 L1198.8,640.5 L1199.6,640.5 L1200.4,640.5 L1201.1,640.5 L1201.9,640.5 L1202.7,640.5 L1203.4,640.5 L1204.2,640.5 L1205.0,640.5 L1205.7,640.5 L1206.5,640.5 L1207.3,640.4 L1208.1,640.4 L1208.8,640.4 L1209.6,640.4 L1210.4,640.4 L1211.1,640.4 L1211.9,640.4 L1212.7,640.4 L1213.4,640.4 L1214.2,640.4 L1215.0,640.3 L1215.8,640.3 L1216.5,640.3 L1217.3,640.3 L1218.1,640.3 L1218.8,640.3 L1219.6,640.3 L1220.4,640.3 L1221.1,640.3 L1221.9,640.3 L1222.7,640.3 L1223.4,640.2 L1224.2,640.2 L1225.0,640.2 L1225.8,640.2 L1226.5,640.2 L1227.3,640.2 L1228.1,640.2 L1228.8,640.2 L1229.6,640.2 L1230.4,640.2 L1231.1,640.1 L1231.9,640.1 L1232.7,640.1 L1233.5,640.1 L1234.2,640.1 L1235.0,640.1 L1235.8,640.1 L1236.5,640.1 L1237.3,640.1 L1238.1,640.0 L1238.8,640.0 L1239.6,640.0 L1240.4,640.0 L1241.2,640.0 L1241.9,640.0 L1242.7,640.0 L1243.5,640.0 L1244.2,640.0 L1245.0,640.0 L1245.8,639.9 L1246.5,639.9 L1247.3,639.9 L1248.1,639.9 L1248.8,639.9 L1249.6,639.9 L1250.4,639.9 L1251.2,639.9 L1251.9,639.9 L1252.7,639.8 L1253.5,639.8 L1254.2,639.8 L1255.0,639.8 L1255.8,639.8 L1256.5,639.8 L1257.3,639.8 L1258.1,639.8 L1258.9,639.8 L1259.6,639.7 L1260.4,639.7 L1261.2,639.7 L1261.9,639.7 L1262.7,639.7 L1263.5,639.7 L1264.2,639.7 L1265.0,639.7 L1265.8,639.6 L1266.5,639.6 L1267.3,639.6 L1268.1,639.6 L1268.9,639.6 L1269.6,639.6 L1270.4,639.6 L1271.2,639.6 L1271.9,639.6 L1272.7,639.5 L1273.5,639.5 L1274.2,639.5 L1275.0,639.5 L1275.8,639.5 L1276.6,639.5 L1277.3,639.5 L1278.1,639.5 L1278.9,639.4 L1279.6,639.4 L1280.4,639.4 L1281.2,639.4 L1281.9,639.4 L1282.7,639.4 L1283.5,639.4 L1284.2,639.4 L1285.0,639.3 L1285.8,639.3 L1286.6,639.3 L1287.3,639.3 L1288.1,639.3 L1288.9,639.3 L1289.6,639.3 L1290.4,639.2 L1291.2,639.2 L1291.9,639.2 L1292.7,639.2 L1293.5,639.2 L1294.3,639.2 L1295.0,639.2 L1295.8,639.2 L1296.6,639.1 L1297.3,639.1 L1298.1,639.1 L1298.9,639.1 L1299.6,639.1 L1300.4,639.1 L1301.2,639.1 L1301.9,639.0 L1302.7,639.0 L1303.5,639.0 L1304.3,639.0 L1305.0,639.0 L1305.8,639.0 L1306.6,639.0 L1307.3,638.9 L1308.1,638.9 L1308.9,638.9 L1309.6,638.9 L1310.4,638.9 L1311.2,638.9 L1312.0,638.9 L1312.7,638.9 L1313.5,638.8 L1314.3,638.8 L1315.0,638.8 L1315.8,638.8 L1316.6,638.8 L1317.3,638.8 L1318.1,638.7 L1318.9,638.7 L1319.6,638.7 L1320.4,638.7 L1321.2,638.7 L1322.0,638.7 L1322.7,638.7 L1323.5,638.6 L1324.3,638.6 L1325.0,638.6 L1325.8,638.6 L1326.6,638.6 L1327.3,638.6 L1328.1,638.6 L1328.9,638.5 L1329.7,638.5 L1330.4,638.5 L1331.2,638.5 L1332.0,638.5 L1332.7,638.5 L1333.5,638.4 L1334.3,638.4 L1335.0,638.4 L1335.8,638.4 L1336.6,638.4 L1337.4,638.4 L1338.1,638.4 L1338.9,638.3 L1339.7,638.3 L1340.4,638.3 L1341.2,638.3 L1342.0,638.3 L1342.7,638.3 L1343.5,638.2 L1344.3,638.2 L1345.0,638.2 L1345.8,638.2 L1346.6,638.2 L1347.4,638.2 L1348.1,638.1 L1348.9,638.1 L1349.7,638.1 L1350.4,638.1 L1351.2,638.1 L1352.0,638.1 L1352.7,638.1 L1353.5,638.0 L1354.3,638.0 L1355.1,638.0 L1355.8,638.0 L1356.6,638.0 L1357.4,638.0 L1358.1,637.9 L1358.9,637.9 L1359.7,637.9 L1360.4,637.9 L1361.2,637.9 L1362.0,637.8 L1362.7,637.8 L1363.5,637.8 L1364.3,637.8 L1365.1,637.8 L1365.8,637.8 L1366.6,637.7 L1367.4,637.7 L1368.1,637.7 L1368.9,637.7 L1369.7,637.7 L1370.4,637.7 L1371.2,637.6 L1372.0,637.6 L1372.8,637.6 L1373.5,637.6 L1374.3,637.6 L1375.1,637.6 L1375.8,637.5 L1376.6,637.5 L1377.4,637.5 L1378.1,637.5 L1378.9,637.5 L1379.7,637.4 L1380.4,637.4 L1381.2,637.4 L1382.0,637.4 L1382.8,637.4 L1383.5,637.4 L1384.3,637.3 L1385.1,637.3 L1385.8,637.3 L1386.6,637.3 L1387.4,637.3 L1388.1,637.2 L1388.9,637.2 L1389.7,637.2 L1390.5,637.2 L1391.2,637.2 L1392.0,637.2 L1392.8,637.1 L1393.5,637.1 L1394.3,637.1 L1395.1,637.1 L1395.8,637.1 L1396.6,637.0 L1397.4,637.0 L1398.1,637.0 L1398.9,637.0 L1399.7,637.0 L1400.5,636.9 L1401.2,636.9 L1402.0,636.9 L1402.8,636.9 L1403.5,636.9 L1404.3,636.8 L1405.1,636.8 L1405.8,636.8 L1406.6,636.8 L1407.4,636.8 L1408.2,636.7 L1408.9,636.7 L1409.7,636.7 L1410.5,636.7 L1411.2,636.7 L1412.0,636.6 L1412.8,636.6 L1413.5,636.6 L1414.3,636.6 L1415.1,636.6 L1415.8,636.5 L1416.6,636.5 L1417.4,636.5 L1418.2,636.5 L1418.9,636.5 L1419.7,636.4 L1420.5,636.4 L1421.2,636.4 L1422.0,636.4 L1422.8,636.4 L1423.5,636.3 L1424.3,636.3 L1425.1,636.3 L1425.9,636.3 L1426.6,636.3 L1427.4,636.2 L1428.2,636.2 L1428.9,636.2 L1429.7,636.2 L1430.5,636.2 L1431.2,636.1 L1432.0,636.1 L1432.8,636.1 L1433.6,636.1 L1434.3,636.0 L1435.1,636.0 L1435.9,636.0 L1436.6,636.0 L1437.4,636.0 L1438.2,635.9 L1438.9,635.9 L1439.7,635.9 L1440.5,635.9 L1441.2,635.9 L1442.0,635.8 L1442.8,635.8 L1443.6,635.8 L1444.3,635.8 L1445.1,635.7 L1445.9,635.7 L1446.6,635.7 L1447.4,635.7 L1448.2,635.7 L1448.9,635.6 L1449.7,635.6 L1450.5,635.6 L1451.3,635.6 L1452.0,635.5 L1452.8,635.5 L1453.6,635.5 L1454.3,635.5 L1455.1,635.5 L1455.9,635.4 L1456.6,635.4 L1457.4,635.4 L1458.2,635.4 L1458.9,635.3 L1459.7,635.3 L1460.5,635.3 L1461.3,635.3 L1462.0,635.2 L1462.8,635.2 L1463.6,635.2 L1464.3,635.2 L1465.1,635.2 L1465.9,635.1 L1466.6,635.1 L1467.4,635.1 L1468.2,635.1 L1469.0,635.0 L1469.7,635.0 L1470.5,635.0 L1471.3,635.0 L1472.0,634.9 L1472.8,634.9" fill="none" stroke="#8b0000" stroke-width="2.6"/>
</g>
<ellipse cx="895.58" cy="640.04" rx="5.4" ry="6.4" fill="#8b0000"/>
<ellipse cx="908.11" cy="623.29" rx="5.4" ry="6.4" fill="#8b0000"/>
<ellipse cx="924.15" cy="606.08" rx="5.4" ry="6.4" fill="#8b0000"/>
<ellipse cx="927.48" cy="602.82" rx="5.4" ry="6.4" fill="#8b0000"/>
<ellipse cx="941.76" cy="587.00" rx="5.4" ry="6.4" fill="#8b0000"/>
<ellipse cx="953.11" cy="568.86" rx="5.4" ry="6.4" fill="#8b0000"/>
<ellipse cx="974.83" cy="519.54" rx="5.4" ry="6.4" fill="#8b0000"/>
<ellipse cx="991.26" cy="462.31" rx="5.4" ry="6.4" fill="#8b0000"/>
<ellipse cx="997.92" cy="432.54" rx="5.4" ry="6.4" fill="#8b0000"/>
<ellipse cx="1004.18" cy="394.39" rx="5.4" ry="6.4" fill="#8b0000"/>
<ellipse cx="1009.27" cy="334.83" rx="5.4" ry="6.4" fill="#8b0000"/>
<ellipse cx="1014.94" cy="429.75" rx="5.4" ry="6.4" fill="#8b0000"/>
<ellipse cx="1020.22" cy="457.20" rx="5.4" ry="6.4" fill="#8b0000"/>
<ellipse cx="1026.29" cy="455.33" rx="5.4" ry="6.4" fill="#8b0000"/>
<ellipse cx="1034.31" cy="449.75" rx="5.4" ry="6.4" fill="#8b0000"/>
<ellipse cx="1044.29" cy="437.66" rx="5.4" ry="6.4" fill="#8b0000"/>
<ellipse cx="1065.03" cy="410.21" rx="5.4" ry="6.4" fill="#8b0000"/>
<ellipse cx="1075.60" cy="396.71" rx="5.4" ry="6.4" fill="#8b0000"/>
<ellipse cx="1092.82" cy="372.99" rx="5.4" ry="6.4" fill="#8b0000"/>
<ellipse cx="1104.56" cy="358.10" rx="5.4" ry="6.4" fill="#8b0000"/>
<ellipse cx="1126.86" cy="328.79" rx="5.4" ry="6.4" fill="#8b0000"/>
<ellipse cx="1163.65" cy="283.66" rx="5.4" ry="6.4" fill="#8b0000"/>
<ellipse cx="1199.45" cy="243.65" rx="5.4" ry="6.4" fill="#8b0000"/>
<ellipse cx="1234.09" cy="206.43" rx="5.4" ry="6.4" fill="#8b0000"/>
<ellipse cx="1258.15" cy="184.09" rx="5.4" ry="6.4" fill="#8b0000"/>
<ellipse cx="1304.14" cy="142.69" rx="5.4" ry="6.4" fill="#8b0000"/>
<ellipse cx="1337.79" cy="116.63" rx="5.4" ry="6.4" fill="#8b0000"/>
<ellipse cx="1373.40" cy="90.11" rx="5.4" ry="6.4" fill="#8b0000"/>
<ellipse cx="1415.27" cy="61.27" rx="5.4" ry="6.4" fill="#8b0000"/>
<ellipse cx="1460.86" cy="33.35" rx="5.4" ry="6.4" fill="#8b0000"/>
<rect x="1433.10" y="39.35" width="10.8" height="12.1" fill="#0000ff"/>
<rect x="1441.60" y="33.75" width="10.8" height="12.1" fill="#0000ff"/>
<rect x="1449.90" y="27.25" width="10.8" height="12.1" fill="#0000ff"/>
<g clip-path="url(#clipR)">
<path d="M885.8,641.9 L886.1,641.8 L886.4,641.8 L886.7,641.8 L887.1,641.8 L887.4,641.8 L887.7,641.8 L888.0,641.8 L888.3,641.8 L888.6,641.8 L889.0,641.8 L889.3,641.8 L889.6,641.8 L889.9,641.8 L890.2,641.8 L890.5,641.8 L890.9,641.8 L891.2,641.8 L891.5,641.8 L891.8,641.8 L892.1,641.8 L892.4,641.8 L892.7,641.8 L893.1,641.8 L893.4,641.8 L893.7,641.8 L894.0,641.8 L894.3,641.8 L894.6,641.8 L895.0,641.8 L895.3,641.8 L895.6,641.8 L895.9,641.8 L896.2,641.8 L896.5,641.8 L896.9,641.7 L897.2,641.7 L897.5,641.7 L897.8,641.7 L898.1,641.7 L898.4,641.7 L898.7,641.6 L899.1,641.6 L899.4,641.6 L899.7,641.6 L900.0,641.6 L900.3,641.5 L900.6,641.5 L901.0,641.5 L901.3,641.5 L901.6,641.4 L901.9,641.4 L902.2,641.4 L902.5,641.3 L902.9,641.3 L903.2,641.3 L903.5,641.2 L903.8,641.2 L904.1,641.2 L904.4,641.1 L904.7,641.1 L905.1,641.1 L905.4,641.0 L905.7,641.0 L906.0,640.9 L906.3,640.9 L906.6,640.8 L907.0,640.8 L907.3,640.7 L907.6,640.7 L907.9,640.6 L908.2,640.6 L908.5,640.5 L908.9,640.5 L909.2,640.4 L909.5,640.3 L909.8,640.3 L910.1,640.2 L910.4,640.1 L910.7,640.1 L911.1,640.0 L911.4,639.9 L911.7,639.9 L912.0,639.8 L912.3,639.7 L912.6,639.6 L913.0,639.5 L913.3,639.5 L913.6,639.4 L913.9,639.3 L914.2,639.2 L914.5,639.1 L914.9,639.0 L915.2,638.9 L915.5,638.8 L915.8,638.7 L916.1,638.6 L916.4,638.5 L916.7,638.4 L917.1,638.3 L917.4,638.2 L917.7,638.1 L918.0,638.0 L918.3,637.8 L918.6,637.7 L919.0,637.6 L919.3,637.5 L919.6,637.4 L919.9,637.2 L920.2,637.1 L920.5,637.0 L920.9,636.8 L921.2,636.7 L921.5,636.5 L921.8,636.4 L922.1,636.3 L922.4,636.1 L922.8,636.0 L923.1,635.8 L923.4,635.6 L923.7,635.5 L924.0,635.3 L924.3,635.2 L924.6,635.0 L925.0,634.8 L925.3,634.7 L925.6,634.5 L925.9,634.3 L926.2,634.1 L926.5,633.9 L926.9,633.8 L927.2,633.6 L927.5,633.4 L927.8,633.2 L928.1,633.0 L928.4,632.8 L928.8,632.6 L929.1,632.4 L929.4,632.2 L929.7,632.0 L930.0,631.8 L930.3,631.5 L930.6,631.3 L931.0,631.1 L931.3,630.9 L931.6,630.7 L931.9,630.4 L932.2,630.2 L932.5,630.0 L932.9,629.7 L933.2,629.5 L933.5,629.3 L933.8,629.0 L934.1,628.8 L934.4,628.5 L934.8,628.3 L935.1,628.0 L935.4,627.7 L935.7,627.5 L936.0,627.2 L936.3,626.9 L936.6,626.7 L937.0,626.4 L937.3,626.1 L937.6,625.9 L937.9,625.6 L938.2,625.3 L938.5,625.0 L938.9,624.7 L939.2,624.4 L939.5,624.1 L939.8,623.8 L940.1,623.5 L940.4,623.2 L940.8,622.9 L941.1,622.6 L941.4,622.3 L941.7,622.0 L942.0,621.7 L942.3,621.4 L942.6,621.1 L943.0,620.7 L943.3,620.4 L943.6,620.1 L943.9,619.8 L944.2,619.4 L944.5,619.1 L944.9,618.8 L945.2,618.4 L945.5,618.1 L945.8,617.7 L946.1,617.4 L946.4,617.1 L946.8,616.7 L947.1,616.4 L947.4,616.0 L947.7,615.6 L948.0,615.3 L948.3,614.9 L948.6,614.6 L949.0,614.2 L949.3,613.8 L949.6,613.5 L949.9,613.1 L950.2,612.7 L950.5,612.3 L950.9,612.0 L951.2,611.6 L951.5,611.2 L951.8,610.8 L952.1,610.4 L952.4,610.0 L952.8,609.6 L953.1,609.3 L953.4,608.9 L953.7,608.5 L954.0,608.1 L954.3,607.7 L954.6,607.3 L955.0,606.9 L955.3,606.5 L955.6,606.1 L955.9,605.6 L956.2,605.2 L956.5,604.8 L956.9,604.4 L957.2,604.0 L957.5,603.6 L957.8,603.2 L958.1,602.7 L958.4,602.3 L958.8,601.9 L959.1,601.5 L959.4,601.0 L959.7,600.6 L960.0,600.2 L960.3,599.7 L960.6,599.3 L961.0,598.9 L961.3,598.4 L961.6,598.0 L961.9,597.6 L962.2,597.1 L962.5,596.7 L962.9,596.2 L963.2,595.8 L963.5,595.3 L963.8,594.9 L964.1,594.4 L964.4,594.0 L964.8,593.5 L965.1,593.1 L965.4,592.6 L965.7,592.2 L966.0,591.7 L966.3,591.2 L966.6,590.8 L967.0,590.3 L967.3,589.9 L967.6,589.4 L967.9,588.9 L968.2,588.5 L968.5,588.0 L968.9,587.5 L969.2,587.0 L969.5,586.6 L969.8,586.1 L970.1,585.6 L970.4,585.1 L970.8,584.7 L971.1,584.2 L971.4,583.7 L971.7,583.2 L972.0,582.7 L972.3,582.3 L972.6,581.8 L973.0,581.3 L973.3,580.8 L973.6,580.3 L973.9,579.8 L974.2,579.3 L974.5,578.9 L974.9,578.4 L975.2,577.9 L975.5,577.4 L975.8,576.9 L976.1,576.4 L976.4,575.9 L976.8,575.4 L977.1,574.9 L977.4,574.4 L977.7,573.9 L978.0,573.4 L978.3,572.9 L978.6,572.4 L979.0,571.9 L979.3,571.4 L979.6,570.9 L979.9,570.4 L980.2,569.9 L980.5,569.4 L980.9,568.9 L981.2,568.4 L981.5,567.9 L981.8,567.4 L982.1,566.9 L982.4,566.3 L982.8,565.8 L983.1,565.3 L983.4,564.8 L983.7,564.3 L984.0,563.8 L984.3,563.3 L984.6,562.8 L985.0,562.3 L985.3,561.7 L985.6,561.2 L985.9,560.7 L986.2,560.2 L986.5,559.7 L986.9,559.2 L987.2,558.6 L987.5,558.1 L987.8,557.6 L988.1,557.1 L988.4,556.6 L988.8,556.1 L989.1,555.5 L989.4,555.0 L989.7,554.5 L990.0,554.0 L990.3,553.5 L990.6,552.9 L991.0,552.4 L991.3,551.9 L991.6,551.4 L991.9,550.8 L992.2,550.3 L992.5,549.8 L992.9,549.3 L993.2,548.8 L993.5,548.2 L993.8,547.7 L994.1,547.2 L994.4,546.7 L994.8,546.1 L995.1,545.6 L995.4,545.1 L995.7,544.6 L996.0,544.0 L996.3,543.5 L996.7,543.0 L997.0,542.5 L997.3,541.9 L997.6,541.4 L997.9,540.9 L998.2,540.4 L998.5,539.8 L998.9,539.3 L999.2,538.8 L999.5,538.3 L999.8,537.8 L1000.1,537.2 L1000.4,536.7 L1000.8,536.2 L1001.1,535.7 L1001.4,535.1 L1001.7,534.6 L1002.0,534.1 L1002.3,533.6 L1002.7,533.0 L1003.0,532.5 L1003.3,532.0 L1003.6,531.5 L1003.9,530.9 L1004.2,530.4 L1004.5,529.9 L1004.9,529.4 L1005.2,528.8 L1005.5,528.3 L1005.8,527.8 L1006.1,527.3 L1006.4,526.7 L1006.8,526.2 L1007.1,525.7 L1007.4,525.2 L1007.7,524.7 L1008.0,524.1 L1008.3,523.6 L1008.7,523.1 L1009.0,522.6 L1009.3,522.0 L1009.6,521.5 L1009.9,521.0 L1010.2,520.5 L1010.5,520.0 L1010.9,519.4 L1011.2,518.9 L1011.5,518.4 L1011.8,517.9 L1012.6,516.6 L1013.3,515.3 L1014.1,514.1 L1014.9,512.8 L1015.7,511.5 L1016.4,510.3 L1017.2,509.0 L1018.0,507.8 L1018.7,506.5 L1019.5,505.2 L1020.3,504.0 L1021.0,502.7 L1021.8,501.5 L1022.6,500.2 L1023.4,498.9 L1024.1,497.7 L1024.9,496.4 L1025.7,495.2 L1026.4,493.9 L1027.2,492.7 L1028.0,491.4 L1028.7,490.2 L1029.5,488.9 L1030.3,487.7 L1031.0,486.4 L1031.8,485.2 L1032.6,483.9 L1033.4,482.7 L1034.1,481.4 L1034.9,480.2 L1035.7,478.9 L1036.4,477.7 L1037.2,476.4 L1038.0,475.2 L1038.7,473.9 L1039.5,472.7 L1040.3,471.4 L1041.1,470.2 L1041.8,468.9 L1042.6,467.7 L1043.4,466.4 L1044.1,465.2 L1044.9,463.9 L1045.7,462.7 L1046.4,461.5 L1047.2,460.2 L1048.0,459.0 L1048.8,457.7 L1049.5,456.5 L1050.3,455.2 L1051.1,454.0 L1051.8,452.7 L1052.6,451.5 L1053.4,450.3 L1054.1,449.0 L1054.9,447.8 L1055.7,446.5 L1056.4,445.3 L1057.2,444.1 L1058.0,442.8 L1058.8,441.6 L1059.5,440.4 L1060.3,439.1 L1061.1,437.9 L1061.8,436.7 L1062.6,435.4 L1063.4,434.2 L1064.1,433.0 L1064.9,431.7 L1065.7,430.5 L1066.5,429.3 L1067.2,428.1 L1068.0,426.9 L1068.8,425.6 L1069.5,424.4 L1070.3,423.2 L1071.1,422.0 L1071.8,420.8 L1072.6,419.6 L1073.4,418.4 L1074.1,417.2 L1074.9,416.0 L1075.7,414.8 L1076.5,413.6 L1077.2,412.4 L1078.0,411.2 L1078.8,410.0 L1079.5,408.8 L1080.3,407.6 L1081.1,406.4 L1081.8,405.2 L1082.6,404.1 L1083.4,402.9 L1084.2,401.7 L1084.9,400.5 L1085.7,399.4 L1086.5,398.2 L1087.2,397.0 L1088.0,395.9 L1088.8,394.7 L1089.5,393.6 L1090.3,392.4 L1091.1,391.3 L1091.8,390.1 L1092.6,389.0 L1093.4,387.8 L1094.2,386.7 L1094.9,385.5 L1095.7,384.4 L1096.5,383.3 L1097.2,382.1 L1098.0,381.0 L1098.8,379.9 L1099.5,378.8 L1100.3,377.7 L1101.1,376.5 L1101.9,375.4 L1102.6,374.3 L1103.4,373.2 L1104.2,372.1 L1104.9,371.0 L1105.7,369.9 L1106.5,368.8 L1107.2,367.7 L1108.0,366.6 L1108.8,365.5 L1109.5,364.4 L1110.3,363.4 L1111.1,362.3 L1111.9,361.2 L1112.6,360.1 L1113.4,359.1 L1114.2,358.0 L1114.9,356.9 L1115.7,355.9 L1116.5,354.8 L1117.2,353.7 L1118.0,352.7 L1118.8,351.6 L1119.6,350.6 L1120.3,349.5 L1121.1,348.5 L1121.9,347.5 L1122.6,346.4 L1123.4,345.4 L1124.2,344.4 L1124.9,343.3 L1125.7,342.3 L1126.5,341.3 L1127.2,340.2 L1128.0,339.2 L1128.8,338.2 L1129.6,337.2 L1130.3,336.2 L1131.1,335.2 L1131.9,334.2 L1132.6,333.2 L1133.4,332.2 L1134.2,331.2 L1134.9,330.2 L1135.7,329.2 L1136.5,328.2 L1137.3,327.2 L1138.0,326.2 L1138.8,325.2 L1139.6,324.2 L1140.3,323.2 L1141.1,322.3 L1141.9,321.3 L1142.6,320.3 L1143.4,319.3 L1144.2,318.4 L1145.0,317.4 L1145.7,316.5 L1146.5,315.5 L1147.3,314.5 L1148.0,313.6 L1148.8,312.6 L1149.6,311.7 L1150.3,310.7 L1151.1,309.8 L1151.9,308.8 L1152.6,307.9 L1153.4,307.0 L1154.2,306.0 L1155.0,305.1 L1155.7,304.1 L1156.5,303.2 L1157.3,302.3 L1158.0,301.4 L1158.8,300.4 L1159.6,299.5 L1160.3,298.6 L1161.1,297.7 L1161.9,296.8 L1162.7,295.8 L1163.4,294.9 L1164.2,294.0 L1165.0,293.1 L1165.7,292.2 L1166.5,291.3 L1167.3,290.4 L1168.0,289.5 L1168.8,288.6 L1169.6,287.7 L1170.3,286.8 L1171.1,285.9 L1171.9,285.1 L1172.7,284.2 L1173.4,283.3 L1174.2,282.4 L1175.0,281.5 L1175.7,280.7 L1176.5,279.8 L1177.3,278.9 L1178.0,278.0 L1178.8,277.2 L1179.6,276.3 L1180.4,275.4 L1181.1,274.6 L1181.9,273.7 L1182.7,272.8 L1183.4,272.0 L1184.2,271.1 L1185.0,270.3 L1185.7,269.4 L1186.5,268.6 L1187.3,267.7 L1188.0,266.9 L1188.8,266.0 L1189.6,265.2 L1190.4,264.4 L1191.1,263.5 L1191.9,262.7 L1192.7,261.8 L1193.4,261.0 L1194.2,260.2 L1195.0,259.4 L1195.7,258.5 L1196.5,257.7 L1197.3,256.9 L1198.1,256.1 L1198.8,255.2 L1199.6,254.4 L1200.4,253.6 L1201.1,252.8 L1201.9,252.0 L1202.7,251.2 L1203.4,250.4 L1204.2,249.6 L1205.0,248.7 L1205.7,247.9 L1206.5,247.1 L1207.3,246.3 L1208.1,245.5 L1208.8,244.7 L1209.6,244.0 L1210.4,243.2 L1211.1,242.4 L1211.9,241.6 L1212.7,240.8 L1213.4,240.0 L1214.2,239.2 L1215.0,238.4 L1215.8,237.7 L1216.5,236.9 L1217.3,236.1 L1218.1,235.3 L1218.8,234.5 L1219.6,233.8 L1220.4,233.0 L1221.1,232.2 L1221.9,231.5 L1222.7,230.7 L1223.4,229.9 L1224.2,229.2 L1225.0,228.4 L1225.8,227.7 L1226.5,226.9 L1227.3,226.1 L1228.1,225.4 L1228.8,224.6 L1229.6,223.9 L1230.4,223.1 L1231.1,222.4 L1231.9,221.6 L1232.7,220.9 L1233.5,220.2 L1234.2,219.4 L1235.0,218.7 L1235.8,217.9 L1236.5,217.2 L1237.3,216.5 L1238.1,215.7 L1238.8,215.0 L1239.6,214.3 L1240.4,213.5 L1241.2,212.8 L1241.9,212.1 L1242.7,211.4 L1243.5,210.6 L1244.2,209.9 L1245.0,209.2 L1245.8,208.5 L1246.5,207.8 L1247.3,207.0 L1248.1,206.3 L1248.8,205.6 L1249.6,204.9 L1250.4,204.2 L1251.2,203.5 L1251.9,202.8 L1252.7,202.1 L1253.5,201.4 L1254.2,200.7 L1255.0,200.0 L1255.8,199.3 L1256.5,198.6 L1257.3,197.9 L1258.1,197.2 L1258.9,196.5 L1259.6,195.8 L1260.4,195.1 L1261.2,194.4 L1261.9,193.8 L1262.7,193.1 L1263.5,192.4 L1264.2,191.7 L1265.0,191.0 L1265.8,190.3 L1266.5,189.7 L1267.3,189.0 L1268.1,188.3 L1268.9,187.6 L1269.6,187.0 L1270.4,186.3 L1271.2,185.6 L1271.9,185.0 L1272.7,184.3 L1273.5,183.6 L1274.2,183.0 L1275.0,182.3 L1275.8,181.7 L1276.6,181.0 L1277.3,180.3 L1278.1,179.7 L1278.9,179.0 L1279.6,178.4 L1280.4,177.7 L1281.2,177.1 L1281.9,176.4 L1282.7,175.8 L1283.5,175.1 L1284.2,174.5 L1285.0,173.8 L1285.8,173.2 L1286.6,172.6 L1287.3,171.9 L1288.1,171.3 L1288.9,170.6 L1289.6,170.0 L1290.4,169.4 L1291.2,168.7 L1291.9,168.1 L1292.7,167.5 L1293.5,166.9 L1294.3,166.2 L1295.0,165.6 L1295.8,165.0 L1296.6,164.4 L1297.3,163.7 L1298.1,163.1 L1298.9,162.5 L1299.6,161.9 L1300.4,161.3 L1301.2,160.7 L1301.9,160.0 L1302.7,159.4 L1303.5,158.8 L1304.3,158.2 L1305.0,157.6 L1305.8,157.0 L1306.6,156.4 L1307.3,155.8 L1308.1,155.2 L1308.9,154.6 L1309.6,154.0 L1310.4,153.4 L1311.2,152.8 L1312.0,152.2 L1312.7,151.6 L1313.5,151.0 L1314.3,150.4 L1315.0,149.8 L1315.8,149.2 L1316.6,148.6 L1317.3,148.1 L1318.1,147.5 L1318.9,146.9 L1319.6,146.3 L1320.4,145.7 L1321.2,145.1 L1322.0,144.6 L1322.7,144.0 L1323.5,143.4 L1324.3,142.8 L1325.0,142.3 L1325.8,141.7 L1326.6,141.1 L1327.3,140.5 L1328.1,140.0 L1328.9,139.4 L1329.7,138.8 L1330.4,138.3 L1331.2,137.7 L1332.0,137.1 L1332.7,136.6 L1333.5,136.0 L1334.3,135.5 L1335.0,134.9 L1335.8,134.4 L1336.6,133.8 L1337.4,133.2 L1338.1,132.7 L1338.9,132.1 L1339.7,131.6 L1340.4,131.0 L1341.2,130.5 L1342.0,129.9 L1342.7,129.4 L1343.5,128.9 L1344.3,128.3 L1345.0,127.8 L1345.8,127.2 L1346.6,126.7 L1347.4,126.2 L1348.1,125.6 L1348.9,125.1 L1349.7,124.5 L1350.4,124.0 L1351.2,123.5 L1352.0,123.0 L1352.7,122.4 L1353.5,121.9 L1354.3,121.4 L1355.1,120.8 L1355.8,120.3 L1356.6,119.8 L1357.4,119.3 L1358.1,118.7 L1358.9,118.2 L1359.7,117.7 L1360.4,117.2 L1361.2,116.7 L1362.0,116.2 L1362.7,115.6 L1363.5,115.1 L1364.3,114.6 L1365.1,114.1 L1365.8,113.6 L1366.6,113.1 L1367.4,112.6 L1368.1,112.1 L1368.9,111.6 L1369.7,111.1 L1370.4,110.6 L1371.2,110.1 L1372.0,109.6 L1372.8,109.1 L1373.5,108.6 L1374.3,108.1 L1375.1,107.6 L1375.8,107.1 L1376.6,106.6 L1377.4,106.1 L1378.1,105.6 L1378.9,105.1 L1379.7,104.6 L1380.4,104.1 L1381.2,103.6 L1382.0,103.1 L1382.8,102.7 L1383.5,102.2 L1384.3,101.7 L1385.1,101.2 L1385.8,100.7 L1386.6,100.3 L1387.4,99.8 L1388.1,99.3 L1388.9,98.8 L1389.7,98.3 L1390.5,97.9 L1391.2,97.4 L1392.0,96.9 L1392.8,96.5 L1393.5,96.0 L1394.3,95.5 L1395.1,95.0 L1395.8,94.6 L1396.6,94.1 L1397.4,93.7 L1398.1,93.2 L1398.9,92.7 L1399.7,92.3 L1400.5,91.8 L1401.2,91.3 L1402.0,90.9 L1402.8,90.4 L1403.5,90.0 L1404.3,89.5 L1405.1,89.1 L1405.8,88.6 L1406.6,88.2 L1407.4,87.7 L1408.2,87.3 L1408.9,86.8 L1409.7,86.4 L1410.5,85.9 L1411.2,85.5 L1412.0,85.0 L1412.8,84.6 L1413.5,84.1 L1414.3,83.7 L1415.1,83.3 L1415.8,82.8 L1416.6,82.4 L1417.4,81.9 L1418.2,81.5 L1418.9,81.1 L1419.7,80.6 L1420.5,80.2 L1421.2,79.8 L1422.0,79.3 L1422.8,78.9 L1423.5,78.5 L1424.3,78.0 L1425.1,77.6 L1425.9,77.2 L1426.6,76.8 L1427.4,76.3 L1428.2,75.9 L1428.9,75.5 L1429.7,75.1 L1430.5,74.6 L1431.2,74.2 L1432.0,73.8 L1432.8,73.4 L1433.6,73.0 L1434.3,72.6 L1435.1,72.1 L1435.9,71.7 L1436.6,71.3 L1437.4,70.9 L1438.2,70.5 L1438.9,70.1 L1439.7,69.7 L1440.5,69.3 L1441.2,68.8 L1442.0,68.4 L1442.8,68.0 L1443.6,67.6 L1444.3,67.2 L1445.1,66.8 L1445.9,66.4 L1446.6,66.0 L1447.4,65.6 L1448.2,65.2 L1448.9,64.8 L1449.7,64.4 L1450.5,64.0 L1451.3,63.6 L1452.0,63.2 L1452.8,62.8 L1453.6,62.4 L1454.3,62.1 L1455.1,61.7 L1455.9,61.3 L1456.6,60.9 L1457.4,60.5 L1458.2,60.1 L1458.9,59.7 L1459.7,59.3 L1460.5,59.0 L1461.3,58.6 L1462.0,58.2 L1462.8,57.8 L1463.6,57.4 L1464.3,57.0 L1465.1,56.7 L1465.9,56.3 L1466.6,55.9 L1467.4,55.5 L1468.2,55.1 L1469.0,54.8 L1469.7,54.4 L1470.5,54.0 L1471.3,53.7 L1472.0,53.3 L1472.8,52.9" fill="none" stroke="#ff0000" stroke-width="2.8"/>
</g>
<line x1="1240.20" y1="116.50" x2="1276.50" y2="164.50" stroke="#000" stroke-width="2"/>
<line x1="1276.50" y1="182.00" x2="1276.50" y2="235.70" stroke="#ff0000" stroke-width="2"/>
<line x1="1015.80" y1="571.30" x2="1035.20" y2="554.90" stroke="#006400" stroke-width="2"/>
<line x1="1351.60" y1="540.10" x2="1392.10" y2="624.60" stroke="#0000ff" stroke-width="2"/>
<line x1="1438.50" y1="593.70" x2="1450.00" y2="634.90" stroke="#8b0000" stroke-width="2"/>
<rect x="908.50" y="141.25" width="13.4" height="15.5" fill="#0000ff"/>
<ellipse cx="915.10" cy="186.30" rx="6.75" ry="7.5" fill="#8b0000"/>
<line x1="885.80" y1="13.20" x2="885.80" y2="643.20" stroke="#000" stroke-width="2.1"/>
<line x1="1472.80" y1="13.20" x2="1472.80" y2="643.20" stroke="#000" stroke-width="2.1"/>
<line x1="884.75" y1="14.50" x2="1473.85" y2="14.50" stroke="#000" stroke-width="2.6"/>
<line x1="884.75" y1="641.90" x2="1473.85" y2="641.90" stroke="#000" stroke-width="2.6"/>
<line x1="885.80" y1="548.85" x2="894.30" y2="548.85" stroke="#000" stroke-width="2.2"/>
<line x1="1464.30" y1="548.85" x2="1472.80" y2="548.85" stroke="#000" stroke-width="2.2"/>
<line x1="885.80" y1="455.80" x2="894.30" y2="455.80" stroke="#000" stroke-width="2.2"/>
<line x1="1464.30" y1="455.80" x2="1472.80" y2="455.80" stroke="#000" stroke-width="2.2"/>
<line x1="885.80" y1="362.75" x2="894.30" y2="362.75" stroke="#000" stroke-width="2.2"/>
<line x1="1464.30" y1="362.75" x2="1472.80" y2="362.75" stroke="#000" stroke-width="2.2"/>
<line x1="885.80" y1="269.70" x2="894.30" y2="269.70" stroke="#000" stroke-width="2.2"/>
<line x1="1464.30" y1="269.70" x2="1472.80" y2="269.70" stroke="#000" stroke-width="2.2"/>
<line x1="885.80" y1="176.65" x2="894.30" y2="176.65" stroke="#000" stroke-width="2.2"/>
<line x1="1464.30" y1="176.65" x2="1472.80" y2="176.65" stroke="#000" stroke-width="2.2"/>
<line x1="885.80" y1="83.60" x2="894.30" y2="83.60" stroke="#000" stroke-width="2.2"/>
<line x1="1464.30" y1="83.60" x2="1472.80" y2="83.60" stroke="#000" stroke-width="2.2"/>
<line x1="983.63" y1="14.50" x2="983.63" y2="24.00" stroke="#000" stroke-width="2"/>
<line x1="983.63" y1="632.40" x2="983.63" y2="641.90" stroke="#000" stroke-width="2"/>
<line x1="1081.47" y1="14.50" x2="1081.47" y2="24.00" stroke="#000" stroke-width="2"/>
<line x1="1081.47" y1="632.40" x2="1081.47" y2="641.90" stroke="#000" stroke-width="2"/>
<line x1="1179.30" y1="14.50" x2="1179.30" y2="24.00" stroke="#000" stroke-width="2"/>
<line x1="1179.30" y1="632.40" x2="1179.30" y2="641.90" stroke="#000" stroke-width="2"/>
<line x1="1277.13" y1="14.50" x2="1277.13" y2="24.00" stroke="#000" stroke-width="2"/>
<line x1="1277.13" y1="632.40" x2="1277.13" y2="641.90" stroke="#000" stroke-width="2"/>
<line x1="1374.97" y1="14.50" x2="1374.97" y2="24.00" stroke="#000" stroke-width="2"/>
<line x1="1374.97" y1="632.40" x2="1374.97" y2="641.90" stroke="#000" stroke-width="2"/>
<text transform="translate(74.77,652.10) scale(0.9475,1)" font-size="30.29" fill="#000" stroke="#000" stroke-width="0.158">6</text>
<text transform="translate(75.08,573.73) scale(0.9273,1)" font-size="30.29" fill="#000" stroke="#000" stroke-width="0.162">8</text>
<text transform="translate(59.68,495.35) scale(0.9172,1)" font-size="30.29" fill="#000" stroke="#000" stroke-width="0.164">10</text>
<text transform="translate(59.66,416.98) scale(0.9265,1)" font-size="30.29" fill="#000" stroke="#000" stroke-width="0.162">12</text>
<text transform="translate(59.70,338.60) scale(0.9080,1)" font-size="30.29" fill="#000" stroke="#000" stroke-width="0.165">14</text>
<text transform="translate(59.68,260.23) scale(0.9172,1)" font-size="30.29" fill="#000" stroke="#000" stroke-width="0.164">16</text>
<text transform="translate(59.68,181.85) scale(0.9172,1)" font-size="30.29" fill="#000" stroke="#000" stroke-width="0.164">18</text>
<text transform="translate(60.55,103.47) scale(0.8902,1)" font-size="30.29" fill="#000" stroke="#000" stroke-width="0.168">20</text>
<text transform="translate(60.54,25.10) scale(0.8990,1)" font-size="30.29" fill="#000" stroke="#000" stroke-width="0.167">22</text>
<text transform="translate(102.28,681.70) scale(0.9870,1)" font-size="28.29" fill="#000" stroke="#000" stroke-width="0.152">0</text>
<text transform="translate(211.19,681.70) scale(0.9790,1)" font-size="28.29" fill="#000" stroke="#000" stroke-width="0.153">0.2</text>
<text transform="translate(332.22,681.70) scale(0.9508,1)" font-size="28.29" fill="#000" stroke="#000" stroke-width="0.158">0.4</text>
<text transform="translate(453.04,681.70) scale(0.9365,1)" font-size="28.29" fill="#000" stroke="#000" stroke-width="0.160">0.6</text>
<text transform="translate(574.47,681.70) scale(0.9122,1)" font-size="28.29" fill="#000" stroke="#000" stroke-width="0.164">0.8</text>
<text transform="translate(703.03,681.70) scale(0.8591,1)" font-size="28.70" fill="#000" stroke="#000" stroke-width="0.175">1</text>
<text transform="translate(854.19,652.40) scale(0.9280,1)" font-size="29.86" fill="#000" stroke="#000" stroke-width="0.162">0</text>
<text transform="translate(839.75,559.35) scale(0.9030,1)" font-size="29.86" fill="#000" stroke="#000" stroke-width="0.166">20</text>
<text transform="translate(840.58,466.30) scale(0.8772,1)" font-size="29.86" fill="#000" stroke="#000" stroke-width="0.171">40</text>
<text transform="translate(839.75,373.25) scale(0.9030,1)" font-size="29.86" fill="#000" stroke="#000" stroke-width="0.166">60</text>
<text transform="translate(840.03,280.20) scale(0.8942,1)" font-size="29.86" fill="#000" stroke="#000" stroke-width="0.168">80</text>
<text transform="translate(825.80,187.15) scale(0.8795,1)" font-size="29.86" fill="#000" stroke="#000" stroke-width="0.171">100</text>
<text transform="translate(825.80,94.10) scale(0.8795,1)" font-size="29.86" fill="#000" stroke="#000" stroke-width="0.171">120</text>
<text transform="translate(881.89,682.30) scale(0.9192,1)" font-size="30.14" fill="#000" stroke="#000" stroke-width="0.163">0</text>
<text transform="translate(972.02,682.30) scale(0.8922,1)" font-size="30.14" fill="#000" stroke="#000" stroke-width="0.168">50</text>
<text transform="translate(1062.65,682.30) scale(0.8904,1)" font-size="30.14" fill="#000" stroke="#000" stroke-width="0.168">100</text>
<text transform="translate(1160.49,682.30) scale(0.8754,1)" font-size="30.14" fill="#000" stroke="#000" stroke-width="0.171">150</text>
<text transform="translate(1258.37,682.30) scale(0.8819,1)" font-size="30.14" fill="#000" stroke="#000" stroke-width="0.170">200</text>
<text transform="translate(1355.87,682.30) scale(0.8798,1)" font-size="30.14" fill="#000" stroke="#000" stroke-width="0.170">250</text>
<text transform="translate(1453.65,682.30) scale(0.8742,1)" font-size="30.14" fill="#000" stroke="#000" stroke-width="0.172">300</text>
<text transform="translate(106.34,712.10) scale(0.8407,1)" font-size="35.03" fill="#000" stroke="#000" stroke-width="0.178">Mg<tspan font-size="0.77em" dy="0.37em">2</tspan><tspan dy="-0.285em">SiO</tspan><tspan font-size="0.77em" dy="0.37em">4</tspan></text>
<text transform="translate(330.76,727.70) scale(0.8417,1)" font-size="31.83" fill="#000" stroke="#000" stroke-width="0.178">Mole fraction</text>
<text transform="translate(601.36,712.10) scale(0.8334,1)" font-size="35.03" fill="#000" stroke="#000" stroke-width="0.180">Fe<tspan font-size="0.77em" dy="0.37em">2</tspan><tspan dy="-0.285em">SiO</tspan><tspan font-size="0.77em" dy="0.37em">4</tspan></text>
<text transform="translate(22.40,426.80) rotate(-90) scale(1.0000,0.9169)" font-size="30.03" fill="#000" stroke="#000" stroke-width="0.150">Pressure ,GPa</text>
<text transform="translate(786.10,507.41) rotate(-90) scale(1.0000,0.9140)" font-size="30.13" fill="#000" stroke="#000" stroke-width="0.150">Heatcapacity (Cp), J/K/mol</text>
<text transform="translate(1086.76,727.40) scale(0.8560,1)" font-size="31.54" fill="#000" stroke="#000" stroke-width="0.175">Temperature, K</text>
<text transform="translate(317.57,185.80) scale(0.8622,1)" font-size="36.71" fill="#000" stroke="#000" stroke-width="0.174">1673 K</text>
<text transform="translate(136.50,270.00) scale(0.8545,1)" font-size="36.48" fill="#000" stroke="#000" stroke-width="0.176">wa</text>
<text transform="translate(437.97,309.70) scale(0.9027,1)" font-size="35.34" fill="#000" stroke="#000" stroke-width="0.166">ri</text>
<text transform="translate(154.85,472.80) scale(0.8861,1)" font-size="35.21" fill="#000" stroke="#000" stroke-width="0.169">ol</text>
<text transform="translate(510.70,250.10) scale(0.9302,1)" font-size="33.84" fill="#000" stroke="#000" stroke-width="0.161">ri+fp+st</text>
<text transform="translate(190.58,566.80) scale(0.8374,1)" font-size="31.69" fill="#000" stroke="#000" stroke-width="0.179">Frost et al, 2003</text>
<text transform="translate(189.97,597.00) scale(0.8443,1)" font-size="31.54" fill="#000" stroke="#000" stroke-width="0.178">Matsuzaka et al, 2000</text>
<text transform="translate(189.96,627.90) scale(0.8707,1)" font-size="30.67" fill="#000" stroke="#000" stroke-width="0.172">Fei and Bertka, 1999</text>
<text transform="translate(923.26,72.80) scale(0.8400,1)" font-size="34.88" fill="#000" stroke="#000" stroke-width="0.179">Fe<tspan font-size="0.77em" dy="0.37em">2</tspan><tspan dy="-0.285em">SiO</tspan><tspan font-size="0.77em" dy="0.37em">4</tspan></text>
<text transform="translate(923.26,108.60) scale(0.8394,1)" font-size="34.59" fill="#000" stroke="#000" stroke-width="0.179">(Fayalite)</text>
<text transform="translate(933.87,159.20) scale(0.8525,1)" font-size="31.25" fill="#000" stroke="#000" stroke-width="0.176">Benisek et al (2012)</text>
<text transform="translate(934.69,196.00) scale(0.8536,1)" font-size="30.96" fill="#000" stroke="#000" stroke-width="0.176">Robie et al (1982)</text>
<text transform="translate(1218.91,108.90) scale(0.8711,1)" font-size="33.42" fill="#000" stroke="#000" stroke-width="0.172">total</text>
<text transform="translate(1238.50,272.00) scale(0.8568,1)" font-size="33.97" fill="#ff0000" stroke="#ff0000" stroke-width="0.175">vibrational</text>
<text transform="translate(1036.05,564.50) scale(0.8671,1)" font-size="33.70" fill="#006400" stroke="#006400" stroke-width="0.173">lambda</text>
<text transform="translate(1296.13,527.00) scale(0.8728,1)" font-size="33.56" fill="#0000ff" stroke="#0000ff" stroke-width="0.172">crystal-field</text>
<text transform="translate(1374.73,582.90) scale(0.8889,1)" font-size="33.01" fill="#8b0000" stroke="#8b0000" stroke-width="0.169">dilation</text>
</svg></body></html>
